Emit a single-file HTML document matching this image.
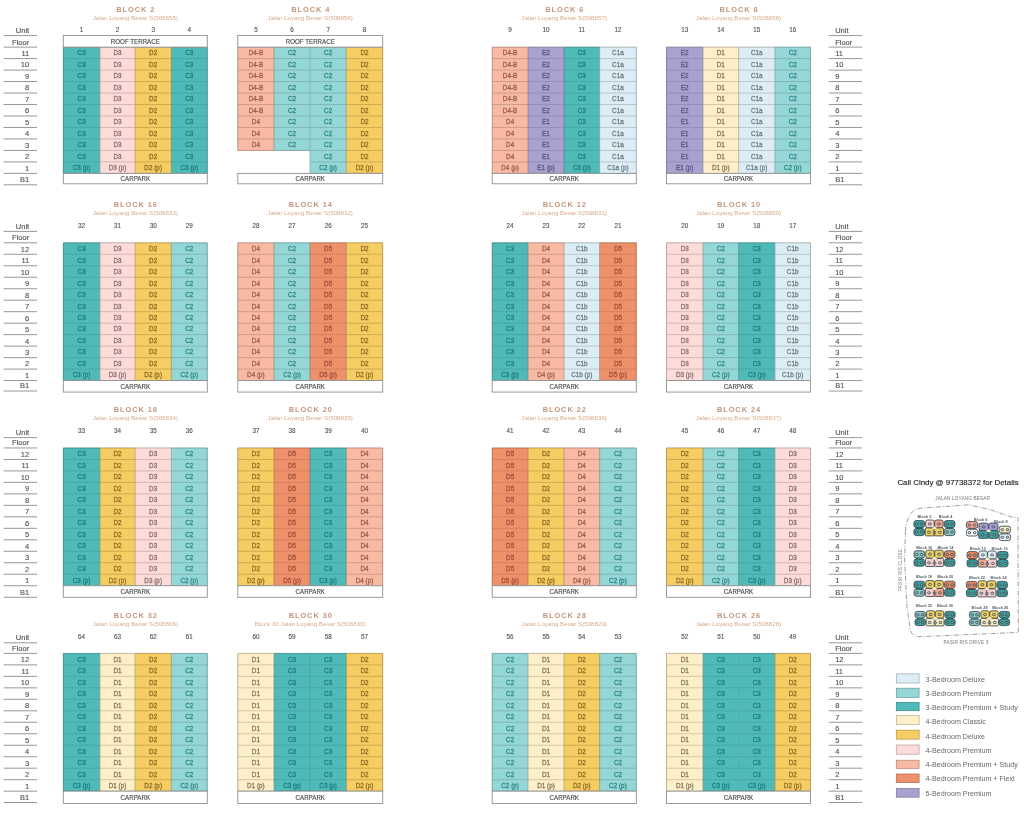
<!DOCTYPE html>
<html><head><meta charset="utf-8"><title>Unit chart</title>
<style>
html,body{margin:0;padding:0;background:#fff;}
body{width:1024px;height:814px;overflow:hidden;position:relative;font-family:"Liberation Sans",sans-serif;}
svg{position:absolute;left:0;top:0;font-family:"Liberation Sans",sans-serif;filter:blur(.45px);}
.fl line{stroke:#8c8c8c;stroke-width:0.9}
.fl text{font-size:7.5px;fill:#505050;stroke:#505050;stroke-width:.12px}
.gl line{stroke-width:0.75}
.ct text{font-size:7.6px;stroke-width:.32px;text-anchor:middle;transform-box:fill-box;transform-origin:center;transform:scale(.84,1)}
.ttl{font-size:7.4px;font-weight:bold;fill:#c2967a;text-anchor:middle;letter-spacing:.95px}
.sub{font-size:6.2px;fill:#d9aa88;text-anchor:middle}
.num{font-size:7.2px;fill:#50565a;stroke:#50565a;stroke-width:.15px;text-anchor:middle;transform-box:fill-box;transform-origin:center;transform:scale(.88,1)}
.box{fill:#fff;stroke:#909090;stroke-width:0.9}
.cp{font-size:7.2px;fill:#4c4c4c;stroke:#4c4c4c;stroke-width:.15px;text-anchor:middle;transform-box:fill-box;transform-origin:center;transform:scale(.86,1)}
.lg{font-size:7.6px;fill:#666;transform-box:fill-box;transform-origin:left center;transform:scale(.94,1)}
.call{font-size:7.9px;fill:#1c1c1c;stroke:#1c1c1c;stroke-width:.14px;text-anchor:middle}
.map .bd{fill:none;stroke:#777;stroke-width:.7;stroke-dasharray:5 1.6 1 1.6}
.map .bl>rect{stroke:rgba(50,62,72,.9);stroke-width:.9}
.map .ml{font-size:10px;font-weight:bold;fill:#56606a;text-anchor:middle}
.map .rd{font-size:10px;fill:#777;text-anchor:middle;letter-spacing:.3px}
</style></head><body>
<svg width="1024" height="814" viewBox="0 0 1024 814">
<g class="fl">
<line x1="3.6" y1="35.57" x2="37" y2="35.57"/>
<line x1="3.6" y1="47.12" x2="37" y2="47.12"/>
<line x1="3.6" y1="58.6" x2="37" y2="58.6"/>
<line x1="3.6" y1="70.08" x2="37" y2="70.08"/>
<line x1="3.6" y1="81.56" x2="37" y2="81.56"/>
<line x1="3.6" y1="93.04" x2="37" y2="93.04"/>
<line x1="3.6" y1="104.52" x2="37" y2="104.52"/>
<line x1="3.6" y1="116" x2="37" y2="116"/>
<line x1="3.6" y1="127.48" x2="37" y2="127.48"/>
<line x1="3.6" y1="138.96" x2="37" y2="138.96"/>
<line x1="3.6" y1="150.44" x2="37" y2="150.44"/>
<line x1="3.6" y1="161.92" x2="37" y2="161.92"/>
<line x1="3.6" y1="173.4" x2="37" y2="173.4"/>
<line x1="3.6" y1="184.8" x2="37" y2="184.8"/>
<text x="29.2" y="32.97" text-anchor="end">Unit</text>
<text x="29.2" y="44.52" text-anchor="end">Floor</text>
<text x="29.2" y="56" text-anchor="end">11</text>
<text x="29.2" y="67.48" text-anchor="end">10</text>
<text x="29.2" y="78.96" text-anchor="end">9</text>
<text x="29.2" y="90.44" text-anchor="end">8</text>
<text x="29.2" y="101.92" text-anchor="end">7</text>
<text x="29.2" y="113.4" text-anchor="end">6</text>
<text x="29.2" y="124.88" text-anchor="end">5</text>
<text x="29.2" y="136.36" text-anchor="end">4</text>
<text x="29.2" y="147.84" text-anchor="end">3</text>
<text x="29.2" y="159.32" text-anchor="end">2</text>
<text x="29.2" y="170.8" text-anchor="end">1</text>
<text x="29.2" y="182.2" text-anchor="end">B1</text>
</g>
<g class="fl">
<line x1="828.8" y1="35.57" x2="862.2" y2="35.57"/>
<line x1="828.8" y1="47.12" x2="862.2" y2="47.12"/>
<line x1="828.8" y1="58.6" x2="862.2" y2="58.6"/>
<line x1="828.8" y1="70.08" x2="862.2" y2="70.08"/>
<line x1="828.8" y1="81.56" x2="862.2" y2="81.56"/>
<line x1="828.8" y1="93.04" x2="862.2" y2="93.04"/>
<line x1="828.8" y1="104.52" x2="862.2" y2="104.52"/>
<line x1="828.8" y1="116" x2="862.2" y2="116"/>
<line x1="828.8" y1="127.48" x2="862.2" y2="127.48"/>
<line x1="828.8" y1="138.96" x2="862.2" y2="138.96"/>
<line x1="828.8" y1="150.44" x2="862.2" y2="150.44"/>
<line x1="828.8" y1="161.92" x2="862.2" y2="161.92"/>
<line x1="828.8" y1="173.4" x2="862.2" y2="173.4"/>
<line x1="828.8" y1="184.8" x2="862.2" y2="184.8"/>
<text x="835.2" y="32.97" text-anchor="start">Unit</text>
<text x="835.2" y="44.52" text-anchor="start">Floor</text>
<text x="835.2" y="56" text-anchor="start">11</text>
<text x="835.2" y="67.48" text-anchor="start">10</text>
<text x="835.2" y="78.96" text-anchor="start">9</text>
<text x="835.2" y="90.44" text-anchor="start">8</text>
<text x="835.2" y="101.92" text-anchor="start">7</text>
<text x="835.2" y="113.4" text-anchor="start">6</text>
<text x="835.2" y="124.88" text-anchor="start">5</text>
<text x="835.2" y="136.36" text-anchor="start">4</text>
<text x="835.2" y="147.84" text-anchor="start">3</text>
<text x="835.2" y="159.32" text-anchor="start">2</text>
<text x="835.2" y="170.8" text-anchor="start">1</text>
<text x="835.2" y="182.2" text-anchor="start">B1</text>
</g>
<text class="ttl" x="135.8" y="11.7">BLOCK 2</text>
<text class="sub" x="135.3" y="19.5">Jalan Loyang Besar S(508855)</text>
<text class="num" x="81.6" y="32.1">1</text>
<text class="num" x="117.5" y="32.1">2</text>
<text class="num" x="153.2" y="32.1">3</text>
<text class="num" x="189.3" y="32.1">4</text>
<rect x="63.3" y="47.12" width="36.6" height="126.28" fill="#4fbab8"/>
<rect x="99.9" y="47.12" width="35.2" height="126.28" fill="#fcdbd9"/>
<rect x="135.1" y="47.12" width="36.2" height="126.28" fill="#f6cd62"/>
<rect x="171.3" y="47.12" width="36" height="126.28" fill="#4fbab8"/>
<g class="gl">
<line x1="63.3" y1="47.12" x2="99.9" y2="47.12" stroke="#367e7d"/>
<line x1="63.3" y1="58.6" x2="99.9" y2="58.6" stroke="#46a4a2"/>
<line x1="63.3" y1="70.08" x2="99.9" y2="70.08" stroke="#46a4a2"/>
<line x1="63.3" y1="81.56" x2="99.9" y2="81.56" stroke="#46a4a2"/>
<line x1="63.3" y1="93.04" x2="99.9" y2="93.04" stroke="#46a4a2"/>
<line x1="63.3" y1="104.52" x2="99.9" y2="104.52" stroke="#46a4a2"/>
<line x1="63.3" y1="116" x2="99.9" y2="116" stroke="#46a4a2"/>
<line x1="63.3" y1="127.48" x2="99.9" y2="127.48" stroke="#46a4a2"/>
<line x1="63.3" y1="138.96" x2="99.9" y2="138.96" stroke="#46a4a2"/>
<line x1="63.3" y1="150.44" x2="99.9" y2="150.44" stroke="#46a4a2"/>
<line x1="63.3" y1="161.92" x2="99.9" y2="161.92" stroke="#46a4a2"/>
<line x1="63.3" y1="173.4" x2="99.9" y2="173.4" stroke="#367e7d"/>
<line x1="99.9" y1="47.12" x2="135.1" y2="47.12" stroke="#ab9594"/>
<line x1="99.9" y1="58.6" x2="135.1" y2="58.6" stroke="#c5aba9"/>
<line x1="99.9" y1="70.08" x2="135.1" y2="70.08" stroke="#c5aba9"/>
<line x1="99.9" y1="81.56" x2="135.1" y2="81.56" stroke="#c5aba9"/>
<line x1="99.9" y1="93.04" x2="135.1" y2="93.04" stroke="#c5aba9"/>
<line x1="99.9" y1="104.52" x2="135.1" y2="104.52" stroke="#c5aba9"/>
<line x1="99.9" y1="116" x2="135.1" y2="116" stroke="#c5aba9"/>
<line x1="99.9" y1="127.48" x2="135.1" y2="127.48" stroke="#c5aba9"/>
<line x1="99.9" y1="138.96" x2="135.1" y2="138.96" stroke="#c5aba9"/>
<line x1="99.9" y1="150.44" x2="135.1" y2="150.44" stroke="#c5aba9"/>
<line x1="99.9" y1="161.92" x2="135.1" y2="161.92" stroke="#c5aba9"/>
<line x1="99.9" y1="173.4" x2="135.1" y2="173.4" stroke="#ab9594"/>
<line x1="135.1" y1="47.12" x2="171.3" y2="47.12" stroke="#a78b43"/>
<line x1="135.1" y1="58.6" x2="171.3" y2="58.6" stroke="#c0a04c"/>
<line x1="135.1" y1="70.08" x2="171.3" y2="70.08" stroke="#c0a04c"/>
<line x1="135.1" y1="81.56" x2="171.3" y2="81.56" stroke="#c0a04c"/>
<line x1="135.1" y1="93.04" x2="171.3" y2="93.04" stroke="#c0a04c"/>
<line x1="135.1" y1="104.52" x2="171.3" y2="104.52" stroke="#c0a04c"/>
<line x1="135.1" y1="116" x2="171.3" y2="116" stroke="#c0a04c"/>
<line x1="135.1" y1="127.48" x2="171.3" y2="127.48" stroke="#c0a04c"/>
<line x1="135.1" y1="138.96" x2="171.3" y2="138.96" stroke="#c0a04c"/>
<line x1="135.1" y1="150.44" x2="171.3" y2="150.44" stroke="#c0a04c"/>
<line x1="135.1" y1="161.92" x2="171.3" y2="161.92" stroke="#c0a04c"/>
<line x1="135.1" y1="173.4" x2="171.3" y2="173.4" stroke="#a78b43"/>
<line x1="171.3" y1="47.12" x2="207.3" y2="47.12" stroke="#367e7d"/>
<line x1="171.3" y1="58.6" x2="207.3" y2="58.6" stroke="#46a4a2"/>
<line x1="171.3" y1="70.08" x2="207.3" y2="70.08" stroke="#46a4a2"/>
<line x1="171.3" y1="81.56" x2="207.3" y2="81.56" stroke="#46a4a2"/>
<line x1="171.3" y1="93.04" x2="207.3" y2="93.04" stroke="#46a4a2"/>
<line x1="171.3" y1="104.52" x2="207.3" y2="104.52" stroke="#46a4a2"/>
<line x1="171.3" y1="116" x2="207.3" y2="116" stroke="#46a4a2"/>
<line x1="171.3" y1="127.48" x2="207.3" y2="127.48" stroke="#46a4a2"/>
<line x1="171.3" y1="138.96" x2="207.3" y2="138.96" stroke="#46a4a2"/>
<line x1="171.3" y1="150.44" x2="207.3" y2="150.44" stroke="#46a4a2"/>
<line x1="171.3" y1="161.92" x2="207.3" y2="161.92" stroke="#46a4a2"/>
<line x1="171.3" y1="173.4" x2="207.3" y2="173.4" stroke="#367e7d"/>
<line x1="63.3" y1="47.12" x2="63.3" y2="173.4" stroke="#347b79"/>
<line x1="99.9" y1="47.12" x2="99.9" y2="173.4" stroke="#779290"/>
<line x1="135.1" y1="47.12" x2="135.1" y2="173.4" stroke="#b39971"/>
<line x1="171.3" y1="47.12" x2="171.3" y2="173.4" stroke="#758d66"/>
<line x1="207.3" y1="47.12" x2="207.3" y2="173.4" stroke="#347b79"/>
</g>
<g class="ct">
<text x="81.6" y="55.46" fill="#1f7f7d" stroke="#1f7f7d">C3</text>
<text x="81.6" y="66.94" fill="#1f7f7d" stroke="#1f7f7d">C3</text>
<text x="81.6" y="78.42" fill="#1f7f7d" stroke="#1f7f7d">C3</text>
<text x="81.6" y="89.9" fill="#1f7f7d" stroke="#1f7f7d">C3</text>
<text x="81.6" y="101.38" fill="#1f7f7d" stroke="#1f7f7d">C3</text>
<text x="81.6" y="112.86" fill="#1f7f7d" stroke="#1f7f7d">C3</text>
<text x="81.6" y="124.34" fill="#1f7f7d" stroke="#1f7f7d">C3</text>
<text x="81.6" y="135.82" fill="#1f7f7d" stroke="#1f7f7d">C3</text>
<text x="81.6" y="147.3" fill="#1f7f7d" stroke="#1f7f7d">C3</text>
<text x="81.6" y="158.78" fill="#1f7f7d" stroke="#1f7f7d">C3</text>
<text x="81.6" y="170.26" fill="#1f7f7d" stroke="#1f7f7d">C3 (p)</text>
<text x="117.5" y="55.46" fill="#8a7473" stroke="#8a7473">D3</text>
<text x="117.5" y="66.94" fill="#8a7473" stroke="#8a7473">D3</text>
<text x="117.5" y="78.42" fill="#8a7473" stroke="#8a7473">D3</text>
<text x="117.5" y="89.9" fill="#8a7473" stroke="#8a7473">D3</text>
<text x="117.5" y="101.38" fill="#8a7473" stroke="#8a7473">D3</text>
<text x="117.5" y="112.86" fill="#8a7473" stroke="#8a7473">D3</text>
<text x="117.5" y="124.34" fill="#8a7473" stroke="#8a7473">D3</text>
<text x="117.5" y="135.82" fill="#8a7473" stroke="#8a7473">D3</text>
<text x="117.5" y="147.3" fill="#8a7473" stroke="#8a7473">D3</text>
<text x="117.5" y="158.78" fill="#8a7473" stroke="#8a7473">D3</text>
<text x="117.5" y="170.26" fill="#8a7473" stroke="#8a7473">D3 (p)</text>
<text x="153.2" y="55.46" fill="#8e6f27" stroke="#8e6f27">D2</text>
<text x="153.2" y="66.94" fill="#8e6f27" stroke="#8e6f27">D2</text>
<text x="153.2" y="78.42" fill="#8e6f27" stroke="#8e6f27">D2</text>
<text x="153.2" y="89.9" fill="#8e6f27" stroke="#8e6f27">D2</text>
<text x="153.2" y="101.38" fill="#8e6f27" stroke="#8e6f27">D2</text>
<text x="153.2" y="112.86" fill="#8e6f27" stroke="#8e6f27">D2</text>
<text x="153.2" y="124.34" fill="#8e6f27" stroke="#8e6f27">D2</text>
<text x="153.2" y="135.82" fill="#8e6f27" stroke="#8e6f27">D2</text>
<text x="153.2" y="147.3" fill="#8e6f27" stroke="#8e6f27">D2</text>
<text x="153.2" y="158.78" fill="#8e6f27" stroke="#8e6f27">D2</text>
<text x="153.2" y="170.26" fill="#8e6f27" stroke="#8e6f27">D2 (p)</text>
<text x="189.3" y="55.46" fill="#1f7f7d" stroke="#1f7f7d">C3</text>
<text x="189.3" y="66.94" fill="#1f7f7d" stroke="#1f7f7d">C3</text>
<text x="189.3" y="78.42" fill="#1f7f7d" stroke="#1f7f7d">C3</text>
<text x="189.3" y="89.9" fill="#1f7f7d" stroke="#1f7f7d">C3</text>
<text x="189.3" y="101.38" fill="#1f7f7d" stroke="#1f7f7d">C3</text>
<text x="189.3" y="112.86" fill="#1f7f7d" stroke="#1f7f7d">C3</text>
<text x="189.3" y="124.34" fill="#1f7f7d" stroke="#1f7f7d">C3</text>
<text x="189.3" y="135.82" fill="#1f7f7d" stroke="#1f7f7d">C3</text>
<text x="189.3" y="147.3" fill="#1f7f7d" stroke="#1f7f7d">C3</text>
<text x="189.3" y="158.78" fill="#1f7f7d" stroke="#1f7f7d">C3</text>
<text x="189.3" y="170.26" fill="#1f7f7d" stroke="#1f7f7d">C3 (p)</text>
</g>
<rect class="box" x="63.3" y="173.4" width="144" height="10.4"/>
<text class="cp" x="135.3" y="181.2">CARPARK</text>
<rect class="box" x="63.3" y="35.44" width="144" height="11.68"/>
<text class="cp" x="135.3" y="43.78">ROOF TERRACE</text>
<text class="ttl" x="310.75" y="11.7">BLOCK 4</text>
<text class="sub" x="310.25" y="19.5">Jalan Loyang Besar S(508856)</text>
<text class="num" x="255.9" y="32.1">5</text>
<text class="num" x="292" y="32.1">6</text>
<text class="num" x="328.15" y="32.1">7</text>
<text class="num" x="364.5" y="32.1">8</text>
<rect x="237.8" y="47.12" width="36.2" height="103.32" fill="#f9baa4"/>
<rect x="274" y="47.12" width="36" height="103.32" fill="#95d6d6"/>
<rect x="310" y="47.12" width="36.3" height="126.28" fill="#95d6d6"/>
<rect x="346.3" y="47.12" width="36.4" height="126.28" fill="#f6cd62"/>
<g class="gl">
<line x1="237.8" y1="47.12" x2="274" y2="47.12" stroke="#a97e70"/>
<line x1="237.8" y1="58.6" x2="274" y2="58.6" stroke="#c29180"/>
<line x1="237.8" y1="70.08" x2="274" y2="70.08" stroke="#c29180"/>
<line x1="237.8" y1="81.56" x2="274" y2="81.56" stroke="#c29180"/>
<line x1="237.8" y1="93.04" x2="274" y2="93.04" stroke="#c29180"/>
<line x1="237.8" y1="104.52" x2="274" y2="104.52" stroke="#c29180"/>
<line x1="237.8" y1="116" x2="274" y2="116" stroke="#c29180"/>
<line x1="237.8" y1="127.48" x2="274" y2="127.48" stroke="#c29180"/>
<line x1="237.8" y1="138.96" x2="274" y2="138.96" stroke="#c29180"/>
<line x1="237.8" y1="150.44" x2="274" y2="150.44" stroke="#a97e70"/>
<line x1="274" y1="47.12" x2="310" y2="47.12" stroke="#659292"/>
<line x1="274" y1="58.6" x2="310" y2="58.6" stroke="#7aafaf"/>
<line x1="274" y1="70.08" x2="310" y2="70.08" stroke="#7aafaf"/>
<line x1="274" y1="81.56" x2="310" y2="81.56" stroke="#7aafaf"/>
<line x1="274" y1="93.04" x2="310" y2="93.04" stroke="#7aafaf"/>
<line x1="274" y1="104.52" x2="310" y2="104.52" stroke="#7aafaf"/>
<line x1="274" y1="116" x2="310" y2="116" stroke="#7aafaf"/>
<line x1="274" y1="127.48" x2="310" y2="127.48" stroke="#7aafaf"/>
<line x1="274" y1="138.96" x2="310" y2="138.96" stroke="#7aafaf"/>
<line x1="274" y1="150.44" x2="310" y2="150.44" stroke="#659292"/>
<line x1="310" y1="47.12" x2="346.3" y2="47.12" stroke="#659292"/>
<line x1="310" y1="58.6" x2="346.3" y2="58.6" stroke="#7aafaf"/>
<line x1="310" y1="70.08" x2="346.3" y2="70.08" stroke="#7aafaf"/>
<line x1="310" y1="81.56" x2="346.3" y2="81.56" stroke="#7aafaf"/>
<line x1="310" y1="93.04" x2="346.3" y2="93.04" stroke="#7aafaf"/>
<line x1="310" y1="104.52" x2="346.3" y2="104.52" stroke="#7aafaf"/>
<line x1="310" y1="116" x2="346.3" y2="116" stroke="#7aafaf"/>
<line x1="310" y1="127.48" x2="346.3" y2="127.48" stroke="#7aafaf"/>
<line x1="310" y1="138.96" x2="346.3" y2="138.96" stroke="#7aafaf"/>
<line x1="310" y1="150.44" x2="346.3" y2="150.44" stroke="#7aafaf"/>
<line x1="310" y1="161.92" x2="346.3" y2="161.92" stroke="#7aafaf"/>
<line x1="310" y1="173.4" x2="346.3" y2="173.4" stroke="#659292"/>
<line x1="346.3" y1="47.12" x2="382.7" y2="47.12" stroke="#a78b43"/>
<line x1="346.3" y1="58.6" x2="382.7" y2="58.6" stroke="#c0a04c"/>
<line x1="346.3" y1="70.08" x2="382.7" y2="70.08" stroke="#c0a04c"/>
<line x1="346.3" y1="81.56" x2="382.7" y2="81.56" stroke="#c0a04c"/>
<line x1="346.3" y1="93.04" x2="382.7" y2="93.04" stroke="#c0a04c"/>
<line x1="346.3" y1="104.52" x2="382.7" y2="104.52" stroke="#c0a04c"/>
<line x1="346.3" y1="116" x2="382.7" y2="116" stroke="#c0a04c"/>
<line x1="346.3" y1="127.48" x2="382.7" y2="127.48" stroke="#c0a04c"/>
<line x1="346.3" y1="138.96" x2="382.7" y2="138.96" stroke="#c0a04c"/>
<line x1="346.3" y1="150.44" x2="382.7" y2="150.44" stroke="#c0a04c"/>
<line x1="346.3" y1="161.92" x2="382.7" y2="161.92" stroke="#c0a04c"/>
<line x1="346.3" y1="173.4" x2="382.7" y2="173.4" stroke="#a78b43"/>
<line x1="237.8" y1="47.12" x2="237.8" y2="150.44" stroke="#a47b6c"/>
<line x1="274" y1="47.12" x2="274" y2="150.44" stroke="#8f9088"/>
<line x1="310" y1="47.12" x2="310" y2="173.4" stroke="#7aafaf"/>
<line x1="346.3" y1="47.12" x2="346.3" y2="173.4" stroke="#8e9770"/>
<line x1="382.7" y1="47.12" x2="382.7" y2="173.4" stroke="#a28741"/>
</g>
<g class="ct">
<text x="255.9" y="55.46" fill="#a2604c" stroke="#a2604c">D4-B</text>
<text x="255.9" y="66.94" fill="#a2604c" stroke="#a2604c">D4-B</text>
<text x="255.9" y="78.42" fill="#a2604c" stroke="#a2604c">D4-B</text>
<text x="255.9" y="89.9" fill="#a2604c" stroke="#a2604c">D4-B</text>
<text x="255.9" y="101.38" fill="#a2604c" stroke="#a2604c">D4-B</text>
<text x="255.9" y="112.86" fill="#a2604c" stroke="#a2604c">D4-B</text>
<text x="255.9" y="124.34" fill="#a2604c" stroke="#a2604c">D4</text>
<text x="255.9" y="135.82" fill="#a2604c" stroke="#a2604c">D4</text>
<text x="255.9" y="147.3" fill="#a2604c" stroke="#a2604c">D4</text>
<text x="292" y="55.46" fill="#2f8a89" stroke="#2f8a89">C2</text>
<text x="292" y="66.94" fill="#2f8a89" stroke="#2f8a89">C2</text>
<text x="292" y="78.42" fill="#2f8a89" stroke="#2f8a89">C2</text>
<text x="292" y="89.9" fill="#2f8a89" stroke="#2f8a89">C2</text>
<text x="292" y="101.38" fill="#2f8a89" stroke="#2f8a89">C2</text>
<text x="292" y="112.86" fill="#2f8a89" stroke="#2f8a89">C2</text>
<text x="292" y="124.34" fill="#2f8a89" stroke="#2f8a89">C2</text>
<text x="292" y="135.82" fill="#2f8a89" stroke="#2f8a89">C2</text>
<text x="292" y="147.3" fill="#2f8a89" stroke="#2f8a89">C2</text>
<text x="328.15" y="55.46" fill="#2f8a89" stroke="#2f8a89">C2</text>
<text x="328.15" y="66.94" fill="#2f8a89" stroke="#2f8a89">C2</text>
<text x="328.15" y="78.42" fill="#2f8a89" stroke="#2f8a89">C2</text>
<text x="328.15" y="89.9" fill="#2f8a89" stroke="#2f8a89">C2</text>
<text x="328.15" y="101.38" fill="#2f8a89" stroke="#2f8a89">C2</text>
<text x="328.15" y="112.86" fill="#2f8a89" stroke="#2f8a89">C2</text>
<text x="328.15" y="124.34" fill="#2f8a89" stroke="#2f8a89">C2</text>
<text x="328.15" y="135.82" fill="#2f8a89" stroke="#2f8a89">C2</text>
<text x="328.15" y="147.3" fill="#2f8a89" stroke="#2f8a89">C2</text>
<text x="328.15" y="158.78" fill="#2f8a89" stroke="#2f8a89">C2</text>
<text x="328.15" y="170.26" fill="#2f8a89" stroke="#2f8a89">C2 (p)</text>
<text x="364.5" y="55.46" fill="#8e6f27" stroke="#8e6f27">D2</text>
<text x="364.5" y="66.94" fill="#8e6f27" stroke="#8e6f27">D2</text>
<text x="364.5" y="78.42" fill="#8e6f27" stroke="#8e6f27">D2</text>
<text x="364.5" y="89.9" fill="#8e6f27" stroke="#8e6f27">D2</text>
<text x="364.5" y="101.38" fill="#8e6f27" stroke="#8e6f27">D2</text>
<text x="364.5" y="112.86" fill="#8e6f27" stroke="#8e6f27">D2</text>
<text x="364.5" y="124.34" fill="#8e6f27" stroke="#8e6f27">D2</text>
<text x="364.5" y="135.82" fill="#8e6f27" stroke="#8e6f27">D2</text>
<text x="364.5" y="147.3" fill="#8e6f27" stroke="#8e6f27">D2</text>
<text x="364.5" y="158.78" fill="#8e6f27" stroke="#8e6f27">D2</text>
<text x="364.5" y="170.26" fill="#8e6f27" stroke="#8e6f27">D2 (p)</text>
</g>
<rect class="box" x="237.8" y="173.4" width="144.9" height="10.4"/>
<text class="cp" x="310.25" y="181.2">CARPARK</text>
<rect class="box" x="237.8" y="35.44" width="144.9" height="11.68"/>
<text class="cp" x="310.25" y="43.78">ROOF TERRACE</text>
<text class="ttl" x="564.75" y="11.7">BLOCK 6</text>
<text class="sub" x="564.25" y="19.5">Jalan Loyang Besar S(508857)</text>
<text class="num" x="510.1" y="32.1">9</text>
<text class="num" x="546" y="32.1">10</text>
<text class="num" x="581.8" y="32.1">11</text>
<text class="num" x="617.95" y="32.1">12</text>
<rect x="492.2" y="47.12" width="35.8" height="126.28" fill="#f9baa4"/>
<rect x="528" y="47.12" width="36" height="126.28" fill="#a9a2d1"/>
<rect x="564" y="47.12" width="35.6" height="126.28" fill="#4fbab8"/>
<rect x="599.6" y="47.12" width="36.7" height="126.28" fill="#dcedf6"/>
<g class="gl">
<line x1="492.2" y1="47.12" x2="528" y2="47.12" stroke="#a97e70"/>
<line x1="492.2" y1="58.6" x2="528" y2="58.6" stroke="#c29180"/>
<line x1="492.2" y1="70.08" x2="528" y2="70.08" stroke="#c29180"/>
<line x1="492.2" y1="81.56" x2="528" y2="81.56" stroke="#c29180"/>
<line x1="492.2" y1="93.04" x2="528" y2="93.04" stroke="#c29180"/>
<line x1="492.2" y1="104.52" x2="528" y2="104.52" stroke="#c29180"/>
<line x1="492.2" y1="116" x2="528" y2="116" stroke="#c29180"/>
<line x1="492.2" y1="127.48" x2="528" y2="127.48" stroke="#c29180"/>
<line x1="492.2" y1="138.96" x2="528" y2="138.96" stroke="#c29180"/>
<line x1="492.2" y1="150.44" x2="528" y2="150.44" stroke="#c29180"/>
<line x1="492.2" y1="161.92" x2="528" y2="161.92" stroke="#c29180"/>
<line x1="492.2" y1="173.4" x2="528" y2="173.4" stroke="#a97e70"/>
<line x1="528" y1="47.12" x2="564" y2="47.12" stroke="#736e8e"/>
<line x1="528" y1="58.6" x2="564" y2="58.6" stroke="#8e88b0"/>
<line x1="528" y1="70.08" x2="564" y2="70.08" stroke="#8e88b0"/>
<line x1="528" y1="81.56" x2="564" y2="81.56" stroke="#8e88b0"/>
<line x1="528" y1="93.04" x2="564" y2="93.04" stroke="#8e88b0"/>
<line x1="528" y1="104.52" x2="564" y2="104.52" stroke="#8e88b0"/>
<line x1="528" y1="116" x2="564" y2="116" stroke="#8e88b0"/>
<line x1="528" y1="127.48" x2="564" y2="127.48" stroke="#8e88b0"/>
<line x1="528" y1="138.96" x2="564" y2="138.96" stroke="#8e88b0"/>
<line x1="528" y1="150.44" x2="564" y2="150.44" stroke="#8e88b0"/>
<line x1="528" y1="161.92" x2="564" y2="161.92" stroke="#8e88b0"/>
<line x1="528" y1="173.4" x2="564" y2="173.4" stroke="#736e8e"/>
<line x1="564" y1="47.12" x2="599.6" y2="47.12" stroke="#367e7d"/>
<line x1="564" y1="58.6" x2="599.6" y2="58.6" stroke="#46a4a2"/>
<line x1="564" y1="70.08" x2="599.6" y2="70.08" stroke="#46a4a2"/>
<line x1="564" y1="81.56" x2="599.6" y2="81.56" stroke="#46a4a2"/>
<line x1="564" y1="93.04" x2="599.6" y2="93.04" stroke="#46a4a2"/>
<line x1="564" y1="104.52" x2="599.6" y2="104.52" stroke="#46a4a2"/>
<line x1="564" y1="116" x2="599.6" y2="116" stroke="#46a4a2"/>
<line x1="564" y1="127.48" x2="599.6" y2="127.48" stroke="#46a4a2"/>
<line x1="564" y1="138.96" x2="599.6" y2="138.96" stroke="#46a4a2"/>
<line x1="564" y1="150.44" x2="599.6" y2="150.44" stroke="#46a4a2"/>
<line x1="564" y1="161.92" x2="599.6" y2="161.92" stroke="#46a4a2"/>
<line x1="564" y1="173.4" x2="599.6" y2="173.4" stroke="#367e7d"/>
<line x1="599.6" y1="47.12" x2="636.3" y2="47.12" stroke="#96a1a7"/>
<line x1="599.6" y1="58.6" x2="636.3" y2="58.6" stroke="#acb9c0"/>
<line x1="599.6" y1="70.08" x2="636.3" y2="70.08" stroke="#acb9c0"/>
<line x1="599.6" y1="81.56" x2="636.3" y2="81.56" stroke="#acb9c0"/>
<line x1="599.6" y1="93.04" x2="636.3" y2="93.04" stroke="#acb9c0"/>
<line x1="599.6" y1="104.52" x2="636.3" y2="104.52" stroke="#acb9c0"/>
<line x1="599.6" y1="116" x2="636.3" y2="116" stroke="#acb9c0"/>
<line x1="599.6" y1="127.48" x2="636.3" y2="127.48" stroke="#acb9c0"/>
<line x1="599.6" y1="138.96" x2="636.3" y2="138.96" stroke="#acb9c0"/>
<line x1="599.6" y1="150.44" x2="636.3" y2="150.44" stroke="#acb9c0"/>
<line x1="599.6" y1="161.92" x2="636.3" y2="161.92" stroke="#acb9c0"/>
<line x1="599.6" y1="173.4" x2="636.3" y2="173.4" stroke="#96a1a7"/>
<line x1="492.2" y1="47.12" x2="492.2" y2="173.4" stroke="#a47b6c"/>
<line x1="528" y1="47.12" x2="528" y2="173.4" stroke="#967d86"/>
<line x1="564" y1="47.12" x2="564" y2="173.4" stroke="#597d8d"/>
<line x1="599.6" y1="47.12" x2="599.6" y2="173.4" stroke="#6c989b"/>
<line x1="636.3" y1="47.12" x2="636.3" y2="173.4" stroke="#919ca2"/>
</g>
<g class="ct">
<text x="510.1" y="55.46" fill="#a2604c" stroke="#a2604c">D4-B</text>
<text x="510.1" y="66.94" fill="#a2604c" stroke="#a2604c">D4-B</text>
<text x="510.1" y="78.42" fill="#a2604c" stroke="#a2604c">D4-B</text>
<text x="510.1" y="89.9" fill="#a2604c" stroke="#a2604c">D4-B</text>
<text x="510.1" y="101.38" fill="#a2604c" stroke="#a2604c">D4-B</text>
<text x="510.1" y="112.86" fill="#a2604c" stroke="#a2604c">D4-B</text>
<text x="510.1" y="124.34" fill="#a2604c" stroke="#a2604c">D4</text>
<text x="510.1" y="135.82" fill="#a2604c" stroke="#a2604c">D4</text>
<text x="510.1" y="147.3" fill="#a2604c" stroke="#a2604c">D4</text>
<text x="510.1" y="158.78" fill="#a2604c" stroke="#a2604c">D4</text>
<text x="510.1" y="170.26" fill="#a2604c" stroke="#a2604c">D4 (p)</text>
<text x="546" y="55.46" fill="#5d5887" stroke="#5d5887">E2</text>
<text x="546" y="66.94" fill="#5d5887" stroke="#5d5887">E2</text>
<text x="546" y="78.42" fill="#5d5887" stroke="#5d5887">E2</text>
<text x="546" y="89.9" fill="#5d5887" stroke="#5d5887">E2</text>
<text x="546" y="101.38" fill="#5d5887" stroke="#5d5887">E2</text>
<text x="546" y="112.86" fill="#5d5887" stroke="#5d5887">E2</text>
<text x="546" y="124.34" fill="#5d5887" stroke="#5d5887">E1</text>
<text x="546" y="135.82" fill="#5d5887" stroke="#5d5887">E1</text>
<text x="546" y="147.3" fill="#5d5887" stroke="#5d5887">E1</text>
<text x="546" y="158.78" fill="#5d5887" stroke="#5d5887">E1</text>
<text x="546" y="170.26" fill="#5d5887" stroke="#5d5887">E1 (p)</text>
<text x="581.8" y="55.46" fill="#1f7f7d" stroke="#1f7f7d">C3</text>
<text x="581.8" y="66.94" fill="#1f7f7d" stroke="#1f7f7d">C3</text>
<text x="581.8" y="78.42" fill="#1f7f7d" stroke="#1f7f7d">C3</text>
<text x="581.8" y="89.9" fill="#1f7f7d" stroke="#1f7f7d">C3</text>
<text x="581.8" y="101.38" fill="#1f7f7d" stroke="#1f7f7d">C3</text>
<text x="581.8" y="112.86" fill="#1f7f7d" stroke="#1f7f7d">C3</text>
<text x="581.8" y="124.34" fill="#1f7f7d" stroke="#1f7f7d">C3</text>
<text x="581.8" y="135.82" fill="#1f7f7d" stroke="#1f7f7d">C3</text>
<text x="581.8" y="147.3" fill="#1f7f7d" stroke="#1f7f7d">C3</text>
<text x="581.8" y="158.78" fill="#1f7f7d" stroke="#1f7f7d">C3</text>
<text x="581.8" y="170.26" fill="#1f7f7d" stroke="#1f7f7d">C3 (p)</text>
<text x="617.95" y="55.46" fill="#6d7f88" stroke="#6d7f88">C1a</text>
<text x="617.95" y="66.94" fill="#6d7f88" stroke="#6d7f88">C1a</text>
<text x="617.95" y="78.42" fill="#6d7f88" stroke="#6d7f88">C1a</text>
<text x="617.95" y="89.9" fill="#6d7f88" stroke="#6d7f88">C1a</text>
<text x="617.95" y="101.38" fill="#6d7f88" stroke="#6d7f88">C1a</text>
<text x="617.95" y="112.86" fill="#6d7f88" stroke="#6d7f88">C1a</text>
<text x="617.95" y="124.34" fill="#6d7f88" stroke="#6d7f88">C1a</text>
<text x="617.95" y="135.82" fill="#6d7f88" stroke="#6d7f88">C1a</text>
<text x="617.95" y="147.3" fill="#6d7f88" stroke="#6d7f88">C1a</text>
<text x="617.95" y="158.78" fill="#6d7f88" stroke="#6d7f88">C1a</text>
<text x="617.95" y="170.26" fill="#6d7f88" stroke="#6d7f88">C1a (p)</text>
</g>
<rect class="box" x="492.2" y="173.4" width="144.1" height="10.4"/>
<text class="cp" x="564.25" y="181.2">CARPARK</text>
<text class="ttl" x="739" y="11.7">BLOCK 8</text>
<text class="sub" x="738.5" y="19.5">Jalan Loyang Besar S(508858)</text>
<text class="num" x="684.75" y="32.1">13</text>
<text class="num" x="720.8" y="32.1">14</text>
<text class="num" x="756.75" y="32.1">15</text>
<text class="num" x="792.7" y="32.1">16</text>
<rect x="666.5" y="47.12" width="36.5" height="126.28" fill="#a9a2d1"/>
<rect x="703" y="47.12" width="35.6" height="126.28" fill="#fdf0c8"/>
<rect x="738.6" y="47.12" width="36.3" height="126.28" fill="#dcedf6"/>
<rect x="774.9" y="47.12" width="35.6" height="126.28" fill="#95d6d6"/>
<g class="gl">
<line x1="666.5" y1="47.12" x2="703" y2="47.12" stroke="#736e8e"/>
<line x1="666.5" y1="58.6" x2="703" y2="58.6" stroke="#8e88b0"/>
<line x1="666.5" y1="70.08" x2="703" y2="70.08" stroke="#8e88b0"/>
<line x1="666.5" y1="81.56" x2="703" y2="81.56" stroke="#8e88b0"/>
<line x1="666.5" y1="93.04" x2="703" y2="93.04" stroke="#8e88b0"/>
<line x1="666.5" y1="104.52" x2="703" y2="104.52" stroke="#8e88b0"/>
<line x1="666.5" y1="116" x2="703" y2="116" stroke="#8e88b0"/>
<line x1="666.5" y1="127.48" x2="703" y2="127.48" stroke="#8e88b0"/>
<line x1="666.5" y1="138.96" x2="703" y2="138.96" stroke="#8e88b0"/>
<line x1="666.5" y1="150.44" x2="703" y2="150.44" stroke="#8e88b0"/>
<line x1="666.5" y1="161.92" x2="703" y2="161.92" stroke="#8e88b0"/>
<line x1="666.5" y1="173.4" x2="703" y2="173.4" stroke="#736e8e"/>
<line x1="703" y1="47.12" x2="738.6" y2="47.12" stroke="#aca388"/>
<line x1="703" y1="58.6" x2="738.6" y2="58.6" stroke="#c5bb9c"/>
<line x1="703" y1="70.08" x2="738.6" y2="70.08" stroke="#c5bb9c"/>
<line x1="703" y1="81.56" x2="738.6" y2="81.56" stroke="#c5bb9c"/>
<line x1="703" y1="93.04" x2="738.6" y2="93.04" stroke="#c5bb9c"/>
<line x1="703" y1="104.52" x2="738.6" y2="104.52" stroke="#c5bb9c"/>
<line x1="703" y1="116" x2="738.6" y2="116" stroke="#c5bb9c"/>
<line x1="703" y1="127.48" x2="738.6" y2="127.48" stroke="#c5bb9c"/>
<line x1="703" y1="138.96" x2="738.6" y2="138.96" stroke="#c5bb9c"/>
<line x1="703" y1="150.44" x2="738.6" y2="150.44" stroke="#c5bb9c"/>
<line x1="703" y1="161.92" x2="738.6" y2="161.92" stroke="#c5bb9c"/>
<line x1="703" y1="173.4" x2="738.6" y2="173.4" stroke="#aca388"/>
<line x1="738.6" y1="47.12" x2="774.9" y2="47.12" stroke="#96a1a7"/>
<line x1="738.6" y1="58.6" x2="774.9" y2="58.6" stroke="#acb9c0"/>
<line x1="738.6" y1="70.08" x2="774.9" y2="70.08" stroke="#acb9c0"/>
<line x1="738.6" y1="81.56" x2="774.9" y2="81.56" stroke="#acb9c0"/>
<line x1="738.6" y1="93.04" x2="774.9" y2="93.04" stroke="#acb9c0"/>
<line x1="738.6" y1="104.52" x2="774.9" y2="104.52" stroke="#acb9c0"/>
<line x1="738.6" y1="116" x2="774.9" y2="116" stroke="#acb9c0"/>
<line x1="738.6" y1="127.48" x2="774.9" y2="127.48" stroke="#acb9c0"/>
<line x1="738.6" y1="138.96" x2="774.9" y2="138.96" stroke="#acb9c0"/>
<line x1="738.6" y1="150.44" x2="774.9" y2="150.44" stroke="#acb9c0"/>
<line x1="738.6" y1="161.92" x2="774.9" y2="161.92" stroke="#acb9c0"/>
<line x1="738.6" y1="173.4" x2="774.9" y2="173.4" stroke="#96a1a7"/>
<line x1="774.9" y1="47.12" x2="810.5" y2="47.12" stroke="#659292"/>
<line x1="774.9" y1="58.6" x2="810.5" y2="58.6" stroke="#7aafaf"/>
<line x1="774.9" y1="70.08" x2="810.5" y2="70.08" stroke="#7aafaf"/>
<line x1="774.9" y1="81.56" x2="810.5" y2="81.56" stroke="#7aafaf"/>
<line x1="774.9" y1="93.04" x2="810.5" y2="93.04" stroke="#7aafaf"/>
<line x1="774.9" y1="104.52" x2="810.5" y2="104.52" stroke="#7aafaf"/>
<line x1="774.9" y1="116" x2="810.5" y2="116" stroke="#7aafaf"/>
<line x1="774.9" y1="127.48" x2="810.5" y2="127.48" stroke="#7aafaf"/>
<line x1="774.9" y1="138.96" x2="810.5" y2="138.96" stroke="#7aafaf"/>
<line x1="774.9" y1="150.44" x2="810.5" y2="150.44" stroke="#7aafaf"/>
<line x1="774.9" y1="161.92" x2="810.5" y2="161.92" stroke="#7aafaf"/>
<line x1="774.9" y1="173.4" x2="810.5" y2="173.4" stroke="#659292"/>
<line x1="666.5" y1="47.12" x2="666.5" y2="173.4" stroke="#706b8a"/>
<line x1="703" y1="47.12" x2="703" y2="173.4" stroke="#989193"/>
<line x1="738.6" y1="47.12" x2="738.6" y2="173.4" stroke="#aaaca1"/>
<line x1="774.9" y1="47.12" x2="774.9" y2="173.4" stroke="#85a2a6"/>
<line x1="810.5" y1="47.12" x2="810.5" y2="173.4" stroke="#628d8d"/>
</g>
<g class="ct">
<text x="684.75" y="55.46" fill="#5d5887" stroke="#5d5887">E2</text>
<text x="684.75" y="66.94" fill="#5d5887" stroke="#5d5887">E2</text>
<text x="684.75" y="78.42" fill="#5d5887" stroke="#5d5887">E2</text>
<text x="684.75" y="89.9" fill="#5d5887" stroke="#5d5887">E2</text>
<text x="684.75" y="101.38" fill="#5d5887" stroke="#5d5887">E2</text>
<text x="684.75" y="112.86" fill="#5d5887" stroke="#5d5887">E2</text>
<text x="684.75" y="124.34" fill="#5d5887" stroke="#5d5887">E1</text>
<text x="684.75" y="135.82" fill="#5d5887" stroke="#5d5887">E1</text>
<text x="684.75" y="147.3" fill="#5d5887" stroke="#5d5887">E1</text>
<text x="684.75" y="158.78" fill="#5d5887" stroke="#5d5887">E1</text>
<text x="684.75" y="170.26" fill="#5d5887" stroke="#5d5887">E1 (p)</text>
<text x="720.8" y="55.46" fill="#857a58" stroke="#857a58">D1</text>
<text x="720.8" y="66.94" fill="#857a58" stroke="#857a58">D1</text>
<text x="720.8" y="78.42" fill="#857a58" stroke="#857a58">D1</text>
<text x="720.8" y="89.9" fill="#857a58" stroke="#857a58">D1</text>
<text x="720.8" y="101.38" fill="#857a58" stroke="#857a58">D1</text>
<text x="720.8" y="112.86" fill="#857a58" stroke="#857a58">D1</text>
<text x="720.8" y="124.34" fill="#857a58" stroke="#857a58">D1</text>
<text x="720.8" y="135.82" fill="#857a58" stroke="#857a58">D1</text>
<text x="720.8" y="147.3" fill="#857a58" stroke="#857a58">D1</text>
<text x="720.8" y="158.78" fill="#857a58" stroke="#857a58">D1</text>
<text x="720.8" y="170.26" fill="#857a58" stroke="#857a58">D1 (p)</text>
<text x="756.75" y="55.46" fill="#6d7f88" stroke="#6d7f88">C1a</text>
<text x="756.75" y="66.94" fill="#6d7f88" stroke="#6d7f88">C1a</text>
<text x="756.75" y="78.42" fill="#6d7f88" stroke="#6d7f88">C1a</text>
<text x="756.75" y="89.9" fill="#6d7f88" stroke="#6d7f88">C1a</text>
<text x="756.75" y="101.38" fill="#6d7f88" stroke="#6d7f88">C1a</text>
<text x="756.75" y="112.86" fill="#6d7f88" stroke="#6d7f88">C1a</text>
<text x="756.75" y="124.34" fill="#6d7f88" stroke="#6d7f88">C1a</text>
<text x="756.75" y="135.82" fill="#6d7f88" stroke="#6d7f88">C1a</text>
<text x="756.75" y="147.3" fill="#6d7f88" stroke="#6d7f88">C1a</text>
<text x="756.75" y="158.78" fill="#6d7f88" stroke="#6d7f88">C1a</text>
<text x="756.75" y="170.26" fill="#6d7f88" stroke="#6d7f88">C1a (p)</text>
<text x="792.7" y="55.46" fill="#2f8a89" stroke="#2f8a89">C2</text>
<text x="792.7" y="66.94" fill="#2f8a89" stroke="#2f8a89">C2</text>
<text x="792.7" y="78.42" fill="#2f8a89" stroke="#2f8a89">C2</text>
<text x="792.7" y="89.9" fill="#2f8a89" stroke="#2f8a89">C2</text>
<text x="792.7" y="101.38" fill="#2f8a89" stroke="#2f8a89">C2</text>
<text x="792.7" y="112.86" fill="#2f8a89" stroke="#2f8a89">C2</text>
<text x="792.7" y="124.34" fill="#2f8a89" stroke="#2f8a89">C2</text>
<text x="792.7" y="135.82" fill="#2f8a89" stroke="#2f8a89">C2</text>
<text x="792.7" y="147.3" fill="#2f8a89" stroke="#2f8a89">C2</text>
<text x="792.7" y="158.78" fill="#2f8a89" stroke="#2f8a89">C2</text>
<text x="792.7" y="170.26" fill="#2f8a89" stroke="#2f8a89">C2 (p)</text>
</g>
<rect class="box" x="666.5" y="173.4" width="144" height="10.4"/>
<text class="cp" x="738.5" y="181.2">CARPARK</text>
<g class="fl">
<line x1="3.6" y1="231.4" x2="37" y2="231.4"/>
<line x1="3.6" y1="242.8" x2="37" y2="242.8"/>
<line x1="3.6" y1="254.28" x2="37" y2="254.28"/>
<line x1="3.6" y1="265.76" x2="37" y2="265.76"/>
<line x1="3.6" y1="277.24" x2="37" y2="277.24"/>
<line x1="3.6" y1="288.72" x2="37" y2="288.72"/>
<line x1="3.6" y1="300.2" x2="37" y2="300.2"/>
<line x1="3.6" y1="311.68" x2="37" y2="311.68"/>
<line x1="3.6" y1="323.16" x2="37" y2="323.16"/>
<line x1="3.6" y1="334.64" x2="37" y2="334.64"/>
<line x1="3.6" y1="346.12" x2="37" y2="346.12"/>
<line x1="3.6" y1="357.6" x2="37" y2="357.6"/>
<line x1="3.6" y1="369.08" x2="37" y2="369.08"/>
<line x1="3.6" y1="380.56" x2="37" y2="380.56"/>
<line x1="3.6" y1="391.04" x2="37" y2="391.04"/>
<text x="29.2" y="228.8" text-anchor="end">Unit</text>
<text x="29.2" y="240.2" text-anchor="end">Floor</text>
<text x="29.2" y="251.68" text-anchor="end">12</text>
<text x="29.2" y="263.16" text-anchor="end">11</text>
<text x="29.2" y="274.64" text-anchor="end">10</text>
<text x="29.2" y="286.12" text-anchor="end">9</text>
<text x="29.2" y="297.6" text-anchor="end">8</text>
<text x="29.2" y="309.08" text-anchor="end">7</text>
<text x="29.2" y="320.56" text-anchor="end">6</text>
<text x="29.2" y="332.04" text-anchor="end">5</text>
<text x="29.2" y="343.52" text-anchor="end">4</text>
<text x="29.2" y="355" text-anchor="end">3</text>
<text x="29.2" y="366.48" text-anchor="end">2</text>
<text x="29.2" y="377.96" text-anchor="end">1</text>
<text x="29.2" y="388.44" text-anchor="end">B1</text>
</g>
<g class="fl">
<line x1="828.8" y1="231.4" x2="862.2" y2="231.4"/>
<line x1="828.8" y1="242.8" x2="862.2" y2="242.8"/>
<line x1="828.8" y1="254.28" x2="862.2" y2="254.28"/>
<line x1="828.8" y1="265.76" x2="862.2" y2="265.76"/>
<line x1="828.8" y1="277.24" x2="862.2" y2="277.24"/>
<line x1="828.8" y1="288.72" x2="862.2" y2="288.72"/>
<line x1="828.8" y1="300.2" x2="862.2" y2="300.2"/>
<line x1="828.8" y1="311.68" x2="862.2" y2="311.68"/>
<line x1="828.8" y1="323.16" x2="862.2" y2="323.16"/>
<line x1="828.8" y1="334.64" x2="862.2" y2="334.64"/>
<line x1="828.8" y1="346.12" x2="862.2" y2="346.12"/>
<line x1="828.8" y1="357.6" x2="862.2" y2="357.6"/>
<line x1="828.8" y1="369.08" x2="862.2" y2="369.08"/>
<line x1="828.8" y1="380.56" x2="862.2" y2="380.56"/>
<line x1="828.8" y1="391.04" x2="862.2" y2="391.04"/>
<text x="835.2" y="228.8" text-anchor="start">Unit</text>
<text x="835.2" y="240.2" text-anchor="start">Floor</text>
<text x="835.2" y="251.68" text-anchor="start">12</text>
<text x="835.2" y="263.16" text-anchor="start">11</text>
<text x="835.2" y="274.64" text-anchor="start">10</text>
<text x="835.2" y="286.12" text-anchor="start">9</text>
<text x="835.2" y="297.6" text-anchor="start">8</text>
<text x="835.2" y="309.08" text-anchor="start">7</text>
<text x="835.2" y="320.56" text-anchor="start">6</text>
<text x="835.2" y="332.04" text-anchor="start">5</text>
<text x="835.2" y="343.52" text-anchor="start">4</text>
<text x="835.2" y="355" text-anchor="start">3</text>
<text x="835.2" y="366.48" text-anchor="start">2</text>
<text x="835.2" y="377.96" text-anchor="start">1</text>
<text x="835.2" y="388.44" text-anchor="start">B1</text>
</g>
<text class="ttl" x="135.8" y="207.3">BLOCK 16</text>
<text class="sub" x="135.3" y="215.2">Jalan Loyang Besar S(508833)</text>
<text class="num" x="81.6" y="228.2">32</text>
<text class="num" x="117.5" y="228.2">31</text>
<text class="num" x="153.2" y="228.2">30</text>
<text class="num" x="189.3" y="228.2">29</text>
<rect x="63.3" y="242.8" width="36.6" height="137.76" fill="#4fbab8"/>
<rect x="99.9" y="242.8" width="35.2" height="137.76" fill="#fcdbd9"/>
<rect x="135.1" y="242.8" width="36.2" height="137.76" fill="#f6cd62"/>
<rect x="171.3" y="242.8" width="36" height="137.76" fill="#95d6d6"/>
<g class="gl">
<line x1="63.3" y1="242.8" x2="99.9" y2="242.8" stroke="#367e7d"/>
<line x1="63.3" y1="254.28" x2="99.9" y2="254.28" stroke="#46a4a2"/>
<line x1="63.3" y1="265.76" x2="99.9" y2="265.76" stroke="#46a4a2"/>
<line x1="63.3" y1="277.24" x2="99.9" y2="277.24" stroke="#46a4a2"/>
<line x1="63.3" y1="288.72" x2="99.9" y2="288.72" stroke="#46a4a2"/>
<line x1="63.3" y1="300.2" x2="99.9" y2="300.2" stroke="#46a4a2"/>
<line x1="63.3" y1="311.68" x2="99.9" y2="311.68" stroke="#46a4a2"/>
<line x1="63.3" y1="323.16" x2="99.9" y2="323.16" stroke="#46a4a2"/>
<line x1="63.3" y1="334.64" x2="99.9" y2="334.64" stroke="#46a4a2"/>
<line x1="63.3" y1="346.12" x2="99.9" y2="346.12" stroke="#46a4a2"/>
<line x1="63.3" y1="357.6" x2="99.9" y2="357.6" stroke="#46a4a2"/>
<line x1="63.3" y1="369.08" x2="99.9" y2="369.08" stroke="#46a4a2"/>
<line x1="63.3" y1="380.56" x2="99.9" y2="380.56" stroke="#367e7d"/>
<line x1="99.9" y1="242.8" x2="135.1" y2="242.8" stroke="#ab9594"/>
<line x1="99.9" y1="254.28" x2="135.1" y2="254.28" stroke="#c5aba9"/>
<line x1="99.9" y1="265.76" x2="135.1" y2="265.76" stroke="#c5aba9"/>
<line x1="99.9" y1="277.24" x2="135.1" y2="277.24" stroke="#c5aba9"/>
<line x1="99.9" y1="288.72" x2="135.1" y2="288.72" stroke="#c5aba9"/>
<line x1="99.9" y1="300.2" x2="135.1" y2="300.2" stroke="#c5aba9"/>
<line x1="99.9" y1="311.68" x2="135.1" y2="311.68" stroke="#c5aba9"/>
<line x1="99.9" y1="323.16" x2="135.1" y2="323.16" stroke="#c5aba9"/>
<line x1="99.9" y1="334.64" x2="135.1" y2="334.64" stroke="#c5aba9"/>
<line x1="99.9" y1="346.12" x2="135.1" y2="346.12" stroke="#c5aba9"/>
<line x1="99.9" y1="357.6" x2="135.1" y2="357.6" stroke="#c5aba9"/>
<line x1="99.9" y1="369.08" x2="135.1" y2="369.08" stroke="#c5aba9"/>
<line x1="99.9" y1="380.56" x2="135.1" y2="380.56" stroke="#ab9594"/>
<line x1="135.1" y1="242.8" x2="171.3" y2="242.8" stroke="#a78b43"/>
<line x1="135.1" y1="254.28" x2="171.3" y2="254.28" stroke="#c0a04c"/>
<line x1="135.1" y1="265.76" x2="171.3" y2="265.76" stroke="#c0a04c"/>
<line x1="135.1" y1="277.24" x2="171.3" y2="277.24" stroke="#c0a04c"/>
<line x1="135.1" y1="288.72" x2="171.3" y2="288.72" stroke="#c0a04c"/>
<line x1="135.1" y1="300.2" x2="171.3" y2="300.2" stroke="#c0a04c"/>
<line x1="135.1" y1="311.68" x2="171.3" y2="311.68" stroke="#c0a04c"/>
<line x1="135.1" y1="323.16" x2="171.3" y2="323.16" stroke="#c0a04c"/>
<line x1="135.1" y1="334.64" x2="171.3" y2="334.64" stroke="#c0a04c"/>
<line x1="135.1" y1="346.12" x2="171.3" y2="346.12" stroke="#c0a04c"/>
<line x1="135.1" y1="357.6" x2="171.3" y2="357.6" stroke="#c0a04c"/>
<line x1="135.1" y1="369.08" x2="171.3" y2="369.08" stroke="#c0a04c"/>
<line x1="135.1" y1="380.56" x2="171.3" y2="380.56" stroke="#a78b43"/>
<line x1="171.3" y1="242.8" x2="207.3" y2="242.8" stroke="#659292"/>
<line x1="171.3" y1="254.28" x2="207.3" y2="254.28" stroke="#7aafaf"/>
<line x1="171.3" y1="265.76" x2="207.3" y2="265.76" stroke="#7aafaf"/>
<line x1="171.3" y1="277.24" x2="207.3" y2="277.24" stroke="#7aafaf"/>
<line x1="171.3" y1="288.72" x2="207.3" y2="288.72" stroke="#7aafaf"/>
<line x1="171.3" y1="300.2" x2="207.3" y2="300.2" stroke="#7aafaf"/>
<line x1="171.3" y1="311.68" x2="207.3" y2="311.68" stroke="#7aafaf"/>
<line x1="171.3" y1="323.16" x2="207.3" y2="323.16" stroke="#7aafaf"/>
<line x1="171.3" y1="334.64" x2="207.3" y2="334.64" stroke="#7aafaf"/>
<line x1="171.3" y1="346.12" x2="207.3" y2="346.12" stroke="#7aafaf"/>
<line x1="171.3" y1="357.6" x2="207.3" y2="357.6" stroke="#7aafaf"/>
<line x1="171.3" y1="369.08" x2="207.3" y2="369.08" stroke="#7aafaf"/>
<line x1="171.3" y1="380.56" x2="207.3" y2="380.56" stroke="#659292"/>
<line x1="63.3" y1="242.8" x2="63.3" y2="380.56" stroke="#347b79"/>
<line x1="99.9" y1="242.8" x2="99.9" y2="380.56" stroke="#779290"/>
<line x1="135.1" y1="242.8" x2="135.1" y2="380.56" stroke="#b39971"/>
<line x1="171.3" y1="242.8" x2="171.3" y2="380.56" stroke="#8e9770"/>
<line x1="207.3" y1="242.8" x2="207.3" y2="380.56" stroke="#628d8d"/>
</g>
<g class="ct">
<text x="81.6" y="251.14" fill="#1f7f7d" stroke="#1f7f7d">C3</text>
<text x="81.6" y="262.62" fill="#1f7f7d" stroke="#1f7f7d">C3</text>
<text x="81.6" y="274.1" fill="#1f7f7d" stroke="#1f7f7d">C3</text>
<text x="81.6" y="285.58" fill="#1f7f7d" stroke="#1f7f7d">C3</text>
<text x="81.6" y="297.06" fill="#1f7f7d" stroke="#1f7f7d">C3</text>
<text x="81.6" y="308.54" fill="#1f7f7d" stroke="#1f7f7d">C3</text>
<text x="81.6" y="320.02" fill="#1f7f7d" stroke="#1f7f7d">C3</text>
<text x="81.6" y="331.5" fill="#1f7f7d" stroke="#1f7f7d">C3</text>
<text x="81.6" y="342.98" fill="#1f7f7d" stroke="#1f7f7d">C3</text>
<text x="81.6" y="354.46" fill="#1f7f7d" stroke="#1f7f7d">C3</text>
<text x="81.6" y="365.94" fill="#1f7f7d" stroke="#1f7f7d">C3</text>
<text x="81.6" y="377.42" fill="#1f7f7d" stroke="#1f7f7d">C3 (p)</text>
<text x="117.5" y="251.14" fill="#8a7473" stroke="#8a7473">D3</text>
<text x="117.5" y="262.62" fill="#8a7473" stroke="#8a7473">D3</text>
<text x="117.5" y="274.1" fill="#8a7473" stroke="#8a7473">D3</text>
<text x="117.5" y="285.58" fill="#8a7473" stroke="#8a7473">D3</text>
<text x="117.5" y="297.06" fill="#8a7473" stroke="#8a7473">D3</text>
<text x="117.5" y="308.54" fill="#8a7473" stroke="#8a7473">D3</text>
<text x="117.5" y="320.02" fill="#8a7473" stroke="#8a7473">D3</text>
<text x="117.5" y="331.5" fill="#8a7473" stroke="#8a7473">D3</text>
<text x="117.5" y="342.98" fill="#8a7473" stroke="#8a7473">D3</text>
<text x="117.5" y="354.46" fill="#8a7473" stroke="#8a7473">D3</text>
<text x="117.5" y="365.94" fill="#8a7473" stroke="#8a7473">D3</text>
<text x="117.5" y="377.42" fill="#8a7473" stroke="#8a7473">D3 (p)</text>
<text x="153.2" y="251.14" fill="#8e6f27" stroke="#8e6f27">D2</text>
<text x="153.2" y="262.62" fill="#8e6f27" stroke="#8e6f27">D2</text>
<text x="153.2" y="274.1" fill="#8e6f27" stroke="#8e6f27">D2</text>
<text x="153.2" y="285.58" fill="#8e6f27" stroke="#8e6f27">D2</text>
<text x="153.2" y="297.06" fill="#8e6f27" stroke="#8e6f27">D2</text>
<text x="153.2" y="308.54" fill="#8e6f27" stroke="#8e6f27">D2</text>
<text x="153.2" y="320.02" fill="#8e6f27" stroke="#8e6f27">D2</text>
<text x="153.2" y="331.5" fill="#8e6f27" stroke="#8e6f27">D2</text>
<text x="153.2" y="342.98" fill="#8e6f27" stroke="#8e6f27">D2</text>
<text x="153.2" y="354.46" fill="#8e6f27" stroke="#8e6f27">D2</text>
<text x="153.2" y="365.94" fill="#8e6f27" stroke="#8e6f27">D2</text>
<text x="153.2" y="377.42" fill="#8e6f27" stroke="#8e6f27">D2 (p)</text>
<text x="189.3" y="251.14" fill="#2f8a89" stroke="#2f8a89">C2</text>
<text x="189.3" y="262.62" fill="#2f8a89" stroke="#2f8a89">C2</text>
<text x="189.3" y="274.1" fill="#2f8a89" stroke="#2f8a89">C2</text>
<text x="189.3" y="285.58" fill="#2f8a89" stroke="#2f8a89">C2</text>
<text x="189.3" y="297.06" fill="#2f8a89" stroke="#2f8a89">C2</text>
<text x="189.3" y="308.54" fill="#2f8a89" stroke="#2f8a89">C2</text>
<text x="189.3" y="320.02" fill="#2f8a89" stroke="#2f8a89">C2</text>
<text x="189.3" y="331.5" fill="#2f8a89" stroke="#2f8a89">C2</text>
<text x="189.3" y="342.98" fill="#2f8a89" stroke="#2f8a89">C2</text>
<text x="189.3" y="354.46" fill="#2f8a89" stroke="#2f8a89">C2</text>
<text x="189.3" y="365.94" fill="#2f8a89" stroke="#2f8a89">C2</text>
<text x="189.3" y="377.42" fill="#2f8a89" stroke="#2f8a89">C2 (p)</text>
</g>
<rect class="box" x="63.3" y="380.56" width="144" height="11.5"/>
<text class="cp" x="135.3" y="388.91">CARPARK</text>
<text class="ttl" x="310.75" y="207.3">BLOCK 14</text>
<text class="sub" x="310.25" y="215.2">Jalan Loyang Besar S(508832)</text>
<text class="num" x="255.9" y="228.2">28</text>
<text class="num" x="292" y="228.2">27</text>
<text class="num" x="328.15" y="228.2">26</text>
<text class="num" x="364.5" y="228.2">25</text>
<rect x="237.8" y="242.8" width="36.2" height="137.76" fill="#f9baa4"/>
<rect x="274" y="242.8" width="36" height="137.76" fill="#95d6d6"/>
<rect x="310" y="242.8" width="36.3" height="137.76" fill="#ee916b"/>
<rect x="346.3" y="242.8" width="36.4" height="137.76" fill="#f6cd62"/>
<g class="gl">
<line x1="237.8" y1="242.8" x2="274" y2="242.8" stroke="#a97e70"/>
<line x1="237.8" y1="254.28" x2="274" y2="254.28" stroke="#c29180"/>
<line x1="237.8" y1="265.76" x2="274" y2="265.76" stroke="#c29180"/>
<line x1="237.8" y1="277.24" x2="274" y2="277.24" stroke="#c29180"/>
<line x1="237.8" y1="288.72" x2="274" y2="288.72" stroke="#c29180"/>
<line x1="237.8" y1="300.2" x2="274" y2="300.2" stroke="#c29180"/>
<line x1="237.8" y1="311.68" x2="274" y2="311.68" stroke="#c29180"/>
<line x1="237.8" y1="323.16" x2="274" y2="323.16" stroke="#c29180"/>
<line x1="237.8" y1="334.64" x2="274" y2="334.64" stroke="#c29180"/>
<line x1="237.8" y1="346.12" x2="274" y2="346.12" stroke="#c29180"/>
<line x1="237.8" y1="357.6" x2="274" y2="357.6" stroke="#c29180"/>
<line x1="237.8" y1="369.08" x2="274" y2="369.08" stroke="#c29180"/>
<line x1="237.8" y1="380.56" x2="274" y2="380.56" stroke="#a97e70"/>
<line x1="274" y1="242.8" x2="310" y2="242.8" stroke="#659292"/>
<line x1="274" y1="254.28" x2="310" y2="254.28" stroke="#7aafaf"/>
<line x1="274" y1="265.76" x2="310" y2="265.76" stroke="#7aafaf"/>
<line x1="274" y1="277.24" x2="310" y2="277.24" stroke="#7aafaf"/>
<line x1="274" y1="288.72" x2="310" y2="288.72" stroke="#7aafaf"/>
<line x1="274" y1="300.2" x2="310" y2="300.2" stroke="#7aafaf"/>
<line x1="274" y1="311.68" x2="310" y2="311.68" stroke="#7aafaf"/>
<line x1="274" y1="323.16" x2="310" y2="323.16" stroke="#7aafaf"/>
<line x1="274" y1="334.64" x2="310" y2="334.64" stroke="#7aafaf"/>
<line x1="274" y1="346.12" x2="310" y2="346.12" stroke="#7aafaf"/>
<line x1="274" y1="357.6" x2="310" y2="357.6" stroke="#7aafaf"/>
<line x1="274" y1="369.08" x2="310" y2="369.08" stroke="#7aafaf"/>
<line x1="274" y1="380.56" x2="310" y2="380.56" stroke="#659292"/>
<line x1="310" y1="242.8" x2="346.3" y2="242.8" stroke="#a26349"/>
<line x1="310" y1="254.28" x2="346.3" y2="254.28" stroke="#ca7b5b"/>
<line x1="310" y1="265.76" x2="346.3" y2="265.76" stroke="#ca7b5b"/>
<line x1="310" y1="277.24" x2="346.3" y2="277.24" stroke="#ca7b5b"/>
<line x1="310" y1="288.72" x2="346.3" y2="288.72" stroke="#ca7b5b"/>
<line x1="310" y1="300.2" x2="346.3" y2="300.2" stroke="#ca7b5b"/>
<line x1="310" y1="311.68" x2="346.3" y2="311.68" stroke="#ca7b5b"/>
<line x1="310" y1="323.16" x2="346.3" y2="323.16" stroke="#ca7b5b"/>
<line x1="310" y1="334.64" x2="346.3" y2="334.64" stroke="#ca7b5b"/>
<line x1="310" y1="346.12" x2="346.3" y2="346.12" stroke="#ca7b5b"/>
<line x1="310" y1="357.6" x2="346.3" y2="357.6" stroke="#ca7b5b"/>
<line x1="310" y1="369.08" x2="346.3" y2="369.08" stroke="#ca7b5b"/>
<line x1="310" y1="380.56" x2="346.3" y2="380.56" stroke="#a26349"/>
<line x1="346.3" y1="242.8" x2="382.7" y2="242.8" stroke="#a78b43"/>
<line x1="346.3" y1="254.28" x2="382.7" y2="254.28" stroke="#c0a04c"/>
<line x1="346.3" y1="265.76" x2="382.7" y2="265.76" stroke="#c0a04c"/>
<line x1="346.3" y1="277.24" x2="382.7" y2="277.24" stroke="#c0a04c"/>
<line x1="346.3" y1="288.72" x2="382.7" y2="288.72" stroke="#c0a04c"/>
<line x1="346.3" y1="300.2" x2="382.7" y2="300.2" stroke="#c0a04c"/>
<line x1="346.3" y1="311.68" x2="382.7" y2="311.68" stroke="#c0a04c"/>
<line x1="346.3" y1="323.16" x2="382.7" y2="323.16" stroke="#c0a04c"/>
<line x1="346.3" y1="334.64" x2="382.7" y2="334.64" stroke="#c0a04c"/>
<line x1="346.3" y1="346.12" x2="382.7" y2="346.12" stroke="#c0a04c"/>
<line x1="346.3" y1="357.6" x2="382.7" y2="357.6" stroke="#c0a04c"/>
<line x1="346.3" y1="369.08" x2="382.7" y2="369.08" stroke="#c0a04c"/>
<line x1="346.3" y1="380.56" x2="382.7" y2="380.56" stroke="#a78b43"/>
<line x1="237.8" y1="242.8" x2="237.8" y2="380.56" stroke="#a47b6c"/>
<line x1="274" y1="242.8" x2="274" y2="380.56" stroke="#8f9088"/>
<line x1="310" y1="242.8" x2="310" y2="380.56" stroke="#8b8174"/>
<line x1="346.3" y1="242.8" x2="346.3" y2="380.56" stroke="#ae7e4a"/>
<line x1="382.7" y1="242.8" x2="382.7" y2="380.56" stroke="#a28741"/>
</g>
<g class="ct">
<text x="255.9" y="251.14" fill="#a2604c" stroke="#a2604c">D4</text>
<text x="255.9" y="262.62" fill="#a2604c" stroke="#a2604c">D4</text>
<text x="255.9" y="274.1" fill="#a2604c" stroke="#a2604c">D4</text>
<text x="255.9" y="285.58" fill="#a2604c" stroke="#a2604c">D4</text>
<text x="255.9" y="297.06" fill="#a2604c" stroke="#a2604c">D4</text>
<text x="255.9" y="308.54" fill="#a2604c" stroke="#a2604c">D4</text>
<text x="255.9" y="320.02" fill="#a2604c" stroke="#a2604c">D4</text>
<text x="255.9" y="331.5" fill="#a2604c" stroke="#a2604c">D4</text>
<text x="255.9" y="342.98" fill="#a2604c" stroke="#a2604c">D4</text>
<text x="255.9" y="354.46" fill="#a2604c" stroke="#a2604c">D4</text>
<text x="255.9" y="365.94" fill="#a2604c" stroke="#a2604c">D4</text>
<text x="255.9" y="377.42" fill="#a2604c" stroke="#a2604c">D4 (p)</text>
<text x="292" y="251.14" fill="#2f8a89" stroke="#2f8a89">C2</text>
<text x="292" y="262.62" fill="#2f8a89" stroke="#2f8a89">C2</text>
<text x="292" y="274.1" fill="#2f8a89" stroke="#2f8a89">C2</text>
<text x="292" y="285.58" fill="#2f8a89" stroke="#2f8a89">C2</text>
<text x="292" y="297.06" fill="#2f8a89" stroke="#2f8a89">C2</text>
<text x="292" y="308.54" fill="#2f8a89" stroke="#2f8a89">C2</text>
<text x="292" y="320.02" fill="#2f8a89" stroke="#2f8a89">C2</text>
<text x="292" y="331.5" fill="#2f8a89" stroke="#2f8a89">C2</text>
<text x="292" y="342.98" fill="#2f8a89" stroke="#2f8a89">C2</text>
<text x="292" y="354.46" fill="#2f8a89" stroke="#2f8a89">C2</text>
<text x="292" y="365.94" fill="#2f8a89" stroke="#2f8a89">C2</text>
<text x="292" y="377.42" fill="#2f8a89" stroke="#2f8a89">C2 (p)</text>
<text x="328.15" y="251.14" fill="#a3513a" stroke="#a3513a">D5</text>
<text x="328.15" y="262.62" fill="#a3513a" stroke="#a3513a">D5</text>
<text x="328.15" y="274.1" fill="#a3513a" stroke="#a3513a">D5</text>
<text x="328.15" y="285.58" fill="#a3513a" stroke="#a3513a">D5</text>
<text x="328.15" y="297.06" fill="#a3513a" stroke="#a3513a">D5</text>
<text x="328.15" y="308.54" fill="#a3513a" stroke="#a3513a">D5</text>
<text x="328.15" y="320.02" fill="#a3513a" stroke="#a3513a">D5</text>
<text x="328.15" y="331.5" fill="#a3513a" stroke="#a3513a">D5</text>
<text x="328.15" y="342.98" fill="#a3513a" stroke="#a3513a">D5</text>
<text x="328.15" y="354.46" fill="#a3513a" stroke="#a3513a">D5</text>
<text x="328.15" y="365.94" fill="#a3513a" stroke="#a3513a">D5</text>
<text x="328.15" y="377.42" fill="#a3513a" stroke="#a3513a">D5 (p)</text>
<text x="364.5" y="251.14" fill="#8e6f27" stroke="#8e6f27">D2</text>
<text x="364.5" y="262.62" fill="#8e6f27" stroke="#8e6f27">D2</text>
<text x="364.5" y="274.1" fill="#8e6f27" stroke="#8e6f27">D2</text>
<text x="364.5" y="285.58" fill="#8e6f27" stroke="#8e6f27">D2</text>
<text x="364.5" y="297.06" fill="#8e6f27" stroke="#8e6f27">D2</text>
<text x="364.5" y="308.54" fill="#8e6f27" stroke="#8e6f27">D2</text>
<text x="364.5" y="320.02" fill="#8e6f27" stroke="#8e6f27">D2</text>
<text x="364.5" y="331.5" fill="#8e6f27" stroke="#8e6f27">D2</text>
<text x="364.5" y="342.98" fill="#8e6f27" stroke="#8e6f27">D2</text>
<text x="364.5" y="354.46" fill="#8e6f27" stroke="#8e6f27">D2</text>
<text x="364.5" y="365.94" fill="#8e6f27" stroke="#8e6f27">D2</text>
<text x="364.5" y="377.42" fill="#8e6f27" stroke="#8e6f27">D2 (p)</text>
</g>
<rect class="box" x="237.8" y="380.56" width="144.9" height="11.5"/>
<text class="cp" x="310.25" y="388.91">CARPARK</text>
<text class="ttl" x="564.75" y="207.3">BLOCK 12</text>
<text class="sub" x="564.25" y="215.2">Jalan Loyang Besar S(508831)</text>
<text class="num" x="510.1" y="228.2">24</text>
<text class="num" x="546" y="228.2">23</text>
<text class="num" x="581.8" y="228.2">22</text>
<text class="num" x="617.95" y="228.2">21</text>
<rect x="492.2" y="242.8" width="35.8" height="137.76" fill="#4fbab8"/>
<rect x="528" y="242.8" width="36" height="137.76" fill="#f9baa4"/>
<rect x="564" y="242.8" width="35.6" height="137.76" fill="#dcedf6"/>
<rect x="599.6" y="242.8" width="36.7" height="137.76" fill="#ee916b"/>
<g class="gl">
<line x1="492.2" y1="242.8" x2="528" y2="242.8" stroke="#367e7d"/>
<line x1="492.2" y1="254.28" x2="528" y2="254.28" stroke="#46a4a2"/>
<line x1="492.2" y1="265.76" x2="528" y2="265.76" stroke="#46a4a2"/>
<line x1="492.2" y1="277.24" x2="528" y2="277.24" stroke="#46a4a2"/>
<line x1="492.2" y1="288.72" x2="528" y2="288.72" stroke="#46a4a2"/>
<line x1="492.2" y1="300.2" x2="528" y2="300.2" stroke="#46a4a2"/>
<line x1="492.2" y1="311.68" x2="528" y2="311.68" stroke="#46a4a2"/>
<line x1="492.2" y1="323.16" x2="528" y2="323.16" stroke="#46a4a2"/>
<line x1="492.2" y1="334.64" x2="528" y2="334.64" stroke="#46a4a2"/>
<line x1="492.2" y1="346.12" x2="528" y2="346.12" stroke="#46a4a2"/>
<line x1="492.2" y1="357.6" x2="528" y2="357.6" stroke="#46a4a2"/>
<line x1="492.2" y1="369.08" x2="528" y2="369.08" stroke="#46a4a2"/>
<line x1="492.2" y1="380.56" x2="528" y2="380.56" stroke="#367e7d"/>
<line x1="528" y1="242.8" x2="564" y2="242.8" stroke="#a97e70"/>
<line x1="528" y1="254.28" x2="564" y2="254.28" stroke="#c29180"/>
<line x1="528" y1="265.76" x2="564" y2="265.76" stroke="#c29180"/>
<line x1="528" y1="277.24" x2="564" y2="277.24" stroke="#c29180"/>
<line x1="528" y1="288.72" x2="564" y2="288.72" stroke="#c29180"/>
<line x1="528" y1="300.2" x2="564" y2="300.2" stroke="#c29180"/>
<line x1="528" y1="311.68" x2="564" y2="311.68" stroke="#c29180"/>
<line x1="528" y1="323.16" x2="564" y2="323.16" stroke="#c29180"/>
<line x1="528" y1="334.64" x2="564" y2="334.64" stroke="#c29180"/>
<line x1="528" y1="346.12" x2="564" y2="346.12" stroke="#c29180"/>
<line x1="528" y1="357.6" x2="564" y2="357.6" stroke="#c29180"/>
<line x1="528" y1="369.08" x2="564" y2="369.08" stroke="#c29180"/>
<line x1="528" y1="380.56" x2="564" y2="380.56" stroke="#a97e70"/>
<line x1="564" y1="242.8" x2="599.6" y2="242.8" stroke="#96a1a7"/>
<line x1="564" y1="254.28" x2="599.6" y2="254.28" stroke="#acb9c0"/>
<line x1="564" y1="265.76" x2="599.6" y2="265.76" stroke="#acb9c0"/>
<line x1="564" y1="277.24" x2="599.6" y2="277.24" stroke="#acb9c0"/>
<line x1="564" y1="288.72" x2="599.6" y2="288.72" stroke="#acb9c0"/>
<line x1="564" y1="300.2" x2="599.6" y2="300.2" stroke="#acb9c0"/>
<line x1="564" y1="311.68" x2="599.6" y2="311.68" stroke="#acb9c0"/>
<line x1="564" y1="323.16" x2="599.6" y2="323.16" stroke="#acb9c0"/>
<line x1="564" y1="334.64" x2="599.6" y2="334.64" stroke="#acb9c0"/>
<line x1="564" y1="346.12" x2="599.6" y2="346.12" stroke="#acb9c0"/>
<line x1="564" y1="357.6" x2="599.6" y2="357.6" stroke="#acb9c0"/>
<line x1="564" y1="369.08" x2="599.6" y2="369.08" stroke="#acb9c0"/>
<line x1="564" y1="380.56" x2="599.6" y2="380.56" stroke="#96a1a7"/>
<line x1="599.6" y1="242.8" x2="636.3" y2="242.8" stroke="#a26349"/>
<line x1="599.6" y1="254.28" x2="636.3" y2="254.28" stroke="#ca7b5b"/>
<line x1="599.6" y1="265.76" x2="636.3" y2="265.76" stroke="#ca7b5b"/>
<line x1="599.6" y1="277.24" x2="636.3" y2="277.24" stroke="#ca7b5b"/>
<line x1="599.6" y1="288.72" x2="636.3" y2="288.72" stroke="#ca7b5b"/>
<line x1="599.6" y1="300.2" x2="636.3" y2="300.2" stroke="#ca7b5b"/>
<line x1="599.6" y1="311.68" x2="636.3" y2="311.68" stroke="#ca7b5b"/>
<line x1="599.6" y1="323.16" x2="636.3" y2="323.16" stroke="#ca7b5b"/>
<line x1="599.6" y1="334.64" x2="636.3" y2="334.64" stroke="#ca7b5b"/>
<line x1="599.6" y1="346.12" x2="636.3" y2="346.12" stroke="#ca7b5b"/>
<line x1="599.6" y1="357.6" x2="636.3" y2="357.6" stroke="#ca7b5b"/>
<line x1="599.6" y1="369.08" x2="636.3" y2="369.08" stroke="#ca7b5b"/>
<line x1="599.6" y1="380.56" x2="636.3" y2="380.56" stroke="#a26349"/>
<line x1="492.2" y1="242.8" x2="492.2" y2="380.56" stroke="#347b79"/>
<line x1="528" y1="242.8" x2="528" y2="380.56" stroke="#76867d"/>
<line x1="564" y1="242.8" x2="564" y2="380.56" stroke="#a99894"/>
<line x1="599.6" y1="242.8" x2="599.6" y2="380.56" stroke="#a58a7f"/>
<line x1="636.3" y1="242.8" x2="636.3" y2="380.56" stroke="#9d6047"/>
</g>
<g class="ct">
<text x="510.1" y="251.14" fill="#1f7f7d" stroke="#1f7f7d">C3</text>
<text x="510.1" y="262.62" fill="#1f7f7d" stroke="#1f7f7d">C3</text>
<text x="510.1" y="274.1" fill="#1f7f7d" stroke="#1f7f7d">C3</text>
<text x="510.1" y="285.58" fill="#1f7f7d" stroke="#1f7f7d">C3</text>
<text x="510.1" y="297.06" fill="#1f7f7d" stroke="#1f7f7d">C3</text>
<text x="510.1" y="308.54" fill="#1f7f7d" stroke="#1f7f7d">C3</text>
<text x="510.1" y="320.02" fill="#1f7f7d" stroke="#1f7f7d">C3</text>
<text x="510.1" y="331.5" fill="#1f7f7d" stroke="#1f7f7d">C3</text>
<text x="510.1" y="342.98" fill="#1f7f7d" stroke="#1f7f7d">C3</text>
<text x="510.1" y="354.46" fill="#1f7f7d" stroke="#1f7f7d">C3</text>
<text x="510.1" y="365.94" fill="#1f7f7d" stroke="#1f7f7d">C3</text>
<text x="510.1" y="377.42" fill="#1f7f7d" stroke="#1f7f7d">C3 (p)</text>
<text x="546" y="251.14" fill="#a2604c" stroke="#a2604c">D4</text>
<text x="546" y="262.62" fill="#a2604c" stroke="#a2604c">D4</text>
<text x="546" y="274.1" fill="#a2604c" stroke="#a2604c">D4</text>
<text x="546" y="285.58" fill="#a2604c" stroke="#a2604c">D4</text>
<text x="546" y="297.06" fill="#a2604c" stroke="#a2604c">D4</text>
<text x="546" y="308.54" fill="#a2604c" stroke="#a2604c">D4</text>
<text x="546" y="320.02" fill="#a2604c" stroke="#a2604c">D4</text>
<text x="546" y="331.5" fill="#a2604c" stroke="#a2604c">D4</text>
<text x="546" y="342.98" fill="#a2604c" stroke="#a2604c">D4</text>
<text x="546" y="354.46" fill="#a2604c" stroke="#a2604c">D4</text>
<text x="546" y="365.94" fill="#a2604c" stroke="#a2604c">D4</text>
<text x="546" y="377.42" fill="#a2604c" stroke="#a2604c">D4 (p)</text>
<text x="581.8" y="251.14" fill="#6d7f88" stroke="#6d7f88">C1b</text>
<text x="581.8" y="262.62" fill="#6d7f88" stroke="#6d7f88">C1b</text>
<text x="581.8" y="274.1" fill="#6d7f88" stroke="#6d7f88">C1b</text>
<text x="581.8" y="285.58" fill="#6d7f88" stroke="#6d7f88">C1b</text>
<text x="581.8" y="297.06" fill="#6d7f88" stroke="#6d7f88">C1b</text>
<text x="581.8" y="308.54" fill="#6d7f88" stroke="#6d7f88">C1b</text>
<text x="581.8" y="320.02" fill="#6d7f88" stroke="#6d7f88">C1b</text>
<text x="581.8" y="331.5" fill="#6d7f88" stroke="#6d7f88">C1b</text>
<text x="581.8" y="342.98" fill="#6d7f88" stroke="#6d7f88">C1b</text>
<text x="581.8" y="354.46" fill="#6d7f88" stroke="#6d7f88">C1b</text>
<text x="581.8" y="365.94" fill="#6d7f88" stroke="#6d7f88">C1b</text>
<text x="581.8" y="377.42" fill="#6d7f88" stroke="#6d7f88">C1b (p)</text>
<text x="617.95" y="251.14" fill="#a3513a" stroke="#a3513a">D5</text>
<text x="617.95" y="262.62" fill="#a3513a" stroke="#a3513a">D5</text>
<text x="617.95" y="274.1" fill="#a3513a" stroke="#a3513a">D5</text>
<text x="617.95" y="285.58" fill="#a3513a" stroke="#a3513a">D5</text>
<text x="617.95" y="297.06" fill="#a3513a" stroke="#a3513a">D5</text>
<text x="617.95" y="308.54" fill="#a3513a" stroke="#a3513a">D5</text>
<text x="617.95" y="320.02" fill="#a3513a" stroke="#a3513a">D5</text>
<text x="617.95" y="331.5" fill="#a3513a" stroke="#a3513a">D5</text>
<text x="617.95" y="342.98" fill="#a3513a" stroke="#a3513a">D5</text>
<text x="617.95" y="354.46" fill="#a3513a" stroke="#a3513a">D5</text>
<text x="617.95" y="365.94" fill="#a3513a" stroke="#a3513a">D5</text>
<text x="617.95" y="377.42" fill="#a3513a" stroke="#a3513a">D5 (p)</text>
</g>
<rect class="box" x="492.2" y="380.56" width="144.1" height="11.5"/>
<text class="cp" x="564.25" y="388.91">CARPARK</text>
<text class="ttl" x="739" y="207.3">BLOCK 10</text>
<text class="sub" x="738.5" y="215.2">Jalan Loyang Besar S(508859)</text>
<text class="num" x="684.75" y="228.2">20</text>
<text class="num" x="720.8" y="228.2">19</text>
<text class="num" x="756.75" y="228.2">18</text>
<text class="num" x="792.7" y="228.2">17</text>
<rect x="666.5" y="242.8" width="36.5" height="137.76" fill="#fcdbd9"/>
<rect x="703" y="242.8" width="35.6" height="137.76" fill="#95d6d6"/>
<rect x="738.6" y="242.8" width="36.3" height="137.76" fill="#4fbab8"/>
<rect x="774.9" y="242.8" width="35.6" height="137.76" fill="#dcedf6"/>
<g class="gl">
<line x1="666.5" y1="242.8" x2="703" y2="242.8" stroke="#ab9594"/>
<line x1="666.5" y1="254.28" x2="703" y2="254.28" stroke="#c5aba9"/>
<line x1="666.5" y1="265.76" x2="703" y2="265.76" stroke="#c5aba9"/>
<line x1="666.5" y1="277.24" x2="703" y2="277.24" stroke="#c5aba9"/>
<line x1="666.5" y1="288.72" x2="703" y2="288.72" stroke="#c5aba9"/>
<line x1="666.5" y1="300.2" x2="703" y2="300.2" stroke="#c5aba9"/>
<line x1="666.5" y1="311.68" x2="703" y2="311.68" stroke="#c5aba9"/>
<line x1="666.5" y1="323.16" x2="703" y2="323.16" stroke="#c5aba9"/>
<line x1="666.5" y1="334.64" x2="703" y2="334.64" stroke="#c5aba9"/>
<line x1="666.5" y1="346.12" x2="703" y2="346.12" stroke="#c5aba9"/>
<line x1="666.5" y1="357.6" x2="703" y2="357.6" stroke="#c5aba9"/>
<line x1="666.5" y1="369.08" x2="703" y2="369.08" stroke="#c5aba9"/>
<line x1="666.5" y1="380.56" x2="703" y2="380.56" stroke="#ab9594"/>
<line x1="703" y1="242.8" x2="738.6" y2="242.8" stroke="#659292"/>
<line x1="703" y1="254.28" x2="738.6" y2="254.28" stroke="#7aafaf"/>
<line x1="703" y1="265.76" x2="738.6" y2="265.76" stroke="#7aafaf"/>
<line x1="703" y1="277.24" x2="738.6" y2="277.24" stroke="#7aafaf"/>
<line x1="703" y1="288.72" x2="738.6" y2="288.72" stroke="#7aafaf"/>
<line x1="703" y1="300.2" x2="738.6" y2="300.2" stroke="#7aafaf"/>
<line x1="703" y1="311.68" x2="738.6" y2="311.68" stroke="#7aafaf"/>
<line x1="703" y1="323.16" x2="738.6" y2="323.16" stroke="#7aafaf"/>
<line x1="703" y1="334.64" x2="738.6" y2="334.64" stroke="#7aafaf"/>
<line x1="703" y1="346.12" x2="738.6" y2="346.12" stroke="#7aafaf"/>
<line x1="703" y1="357.6" x2="738.6" y2="357.6" stroke="#7aafaf"/>
<line x1="703" y1="369.08" x2="738.6" y2="369.08" stroke="#7aafaf"/>
<line x1="703" y1="380.56" x2="738.6" y2="380.56" stroke="#659292"/>
<line x1="738.6" y1="242.8" x2="774.9" y2="242.8" stroke="#367e7d"/>
<line x1="738.6" y1="254.28" x2="774.9" y2="254.28" stroke="#46a4a2"/>
<line x1="738.6" y1="265.76" x2="774.9" y2="265.76" stroke="#46a4a2"/>
<line x1="738.6" y1="277.24" x2="774.9" y2="277.24" stroke="#46a4a2"/>
<line x1="738.6" y1="288.72" x2="774.9" y2="288.72" stroke="#46a4a2"/>
<line x1="738.6" y1="300.2" x2="774.9" y2="300.2" stroke="#46a4a2"/>
<line x1="738.6" y1="311.68" x2="774.9" y2="311.68" stroke="#46a4a2"/>
<line x1="738.6" y1="323.16" x2="774.9" y2="323.16" stroke="#46a4a2"/>
<line x1="738.6" y1="334.64" x2="774.9" y2="334.64" stroke="#46a4a2"/>
<line x1="738.6" y1="346.12" x2="774.9" y2="346.12" stroke="#46a4a2"/>
<line x1="738.6" y1="357.6" x2="774.9" y2="357.6" stroke="#46a4a2"/>
<line x1="738.6" y1="369.08" x2="774.9" y2="369.08" stroke="#46a4a2"/>
<line x1="738.6" y1="380.56" x2="774.9" y2="380.56" stroke="#367e7d"/>
<line x1="774.9" y1="242.8" x2="810.5" y2="242.8" stroke="#96a1a7"/>
<line x1="774.9" y1="254.28" x2="810.5" y2="254.28" stroke="#acb9c0"/>
<line x1="774.9" y1="265.76" x2="810.5" y2="265.76" stroke="#acb9c0"/>
<line x1="774.9" y1="277.24" x2="810.5" y2="277.24" stroke="#acb9c0"/>
<line x1="774.9" y1="288.72" x2="810.5" y2="288.72" stroke="#acb9c0"/>
<line x1="774.9" y1="300.2" x2="810.5" y2="300.2" stroke="#acb9c0"/>
<line x1="774.9" y1="311.68" x2="810.5" y2="311.68" stroke="#acb9c0"/>
<line x1="774.9" y1="323.16" x2="810.5" y2="323.16" stroke="#acb9c0"/>
<line x1="774.9" y1="334.64" x2="810.5" y2="334.64" stroke="#acb9c0"/>
<line x1="774.9" y1="346.12" x2="810.5" y2="346.12" stroke="#acb9c0"/>
<line x1="774.9" y1="357.6" x2="810.5" y2="357.6" stroke="#acb9c0"/>
<line x1="774.9" y1="369.08" x2="810.5" y2="369.08" stroke="#acb9c0"/>
<line x1="774.9" y1="380.56" x2="810.5" y2="380.56" stroke="#96a1a7"/>
<line x1="666.5" y1="242.8" x2="666.5" y2="380.56" stroke="#a6918f"/>
<line x1="703" y1="242.8" x2="703" y2="380.56" stroke="#909c9b"/>
<line x1="738.6" y1="242.8" x2="738.6" y2="380.56" stroke="#52908f"/>
<line x1="774.9" y1="242.8" x2="774.9" y2="380.56" stroke="#6c989b"/>
<line x1="810.5" y1="242.8" x2="810.5" y2="380.56" stroke="#919ca2"/>
</g>
<g class="ct">
<text x="684.75" y="251.14" fill="#8a7473" stroke="#8a7473">D3</text>
<text x="684.75" y="262.62" fill="#8a7473" stroke="#8a7473">D3</text>
<text x="684.75" y="274.1" fill="#8a7473" stroke="#8a7473">D3</text>
<text x="684.75" y="285.58" fill="#8a7473" stroke="#8a7473">D3</text>
<text x="684.75" y="297.06" fill="#8a7473" stroke="#8a7473">D3</text>
<text x="684.75" y="308.54" fill="#8a7473" stroke="#8a7473">D3</text>
<text x="684.75" y="320.02" fill="#8a7473" stroke="#8a7473">D3</text>
<text x="684.75" y="331.5" fill="#8a7473" stroke="#8a7473">D3</text>
<text x="684.75" y="342.98" fill="#8a7473" stroke="#8a7473">D3</text>
<text x="684.75" y="354.46" fill="#8a7473" stroke="#8a7473">D3</text>
<text x="684.75" y="365.94" fill="#8a7473" stroke="#8a7473">D3</text>
<text x="684.75" y="377.42" fill="#8a7473" stroke="#8a7473">D3 (p)</text>
<text x="720.8" y="251.14" fill="#2f8a89" stroke="#2f8a89">C2</text>
<text x="720.8" y="262.62" fill="#2f8a89" stroke="#2f8a89">C2</text>
<text x="720.8" y="274.1" fill="#2f8a89" stroke="#2f8a89">C2</text>
<text x="720.8" y="285.58" fill="#2f8a89" stroke="#2f8a89">C2</text>
<text x="720.8" y="297.06" fill="#2f8a89" stroke="#2f8a89">C2</text>
<text x="720.8" y="308.54" fill="#2f8a89" stroke="#2f8a89">C2</text>
<text x="720.8" y="320.02" fill="#2f8a89" stroke="#2f8a89">C2</text>
<text x="720.8" y="331.5" fill="#2f8a89" stroke="#2f8a89">C2</text>
<text x="720.8" y="342.98" fill="#2f8a89" stroke="#2f8a89">C2</text>
<text x="720.8" y="354.46" fill="#2f8a89" stroke="#2f8a89">C2</text>
<text x="720.8" y="365.94" fill="#2f8a89" stroke="#2f8a89">C2</text>
<text x="720.8" y="377.42" fill="#2f8a89" stroke="#2f8a89">C2 (p)</text>
<text x="756.75" y="251.14" fill="#1f7f7d" stroke="#1f7f7d">C3</text>
<text x="756.75" y="262.62" fill="#1f7f7d" stroke="#1f7f7d">C3</text>
<text x="756.75" y="274.1" fill="#1f7f7d" stroke="#1f7f7d">C3</text>
<text x="756.75" y="285.58" fill="#1f7f7d" stroke="#1f7f7d">C3</text>
<text x="756.75" y="297.06" fill="#1f7f7d" stroke="#1f7f7d">C3</text>
<text x="756.75" y="308.54" fill="#1f7f7d" stroke="#1f7f7d">C3</text>
<text x="756.75" y="320.02" fill="#1f7f7d" stroke="#1f7f7d">C3</text>
<text x="756.75" y="331.5" fill="#1f7f7d" stroke="#1f7f7d">C3</text>
<text x="756.75" y="342.98" fill="#1f7f7d" stroke="#1f7f7d">C3</text>
<text x="756.75" y="354.46" fill="#1f7f7d" stroke="#1f7f7d">C3</text>
<text x="756.75" y="365.94" fill="#1f7f7d" stroke="#1f7f7d">C3</text>
<text x="756.75" y="377.42" fill="#1f7f7d" stroke="#1f7f7d">C3 (p)</text>
<text x="792.7" y="251.14" fill="#6d7f88" stroke="#6d7f88">C1b</text>
<text x="792.7" y="262.62" fill="#6d7f88" stroke="#6d7f88">C1b</text>
<text x="792.7" y="274.1" fill="#6d7f88" stroke="#6d7f88">C1b</text>
<text x="792.7" y="285.58" fill="#6d7f88" stroke="#6d7f88">C1b</text>
<text x="792.7" y="297.06" fill="#6d7f88" stroke="#6d7f88">C1b</text>
<text x="792.7" y="308.54" fill="#6d7f88" stroke="#6d7f88">C1b</text>
<text x="792.7" y="320.02" fill="#6d7f88" stroke="#6d7f88">C1b</text>
<text x="792.7" y="331.5" fill="#6d7f88" stroke="#6d7f88">C1b</text>
<text x="792.7" y="342.98" fill="#6d7f88" stroke="#6d7f88">C1b</text>
<text x="792.7" y="354.46" fill="#6d7f88" stroke="#6d7f88">C1b</text>
<text x="792.7" y="365.94" fill="#6d7f88" stroke="#6d7f88">C1b</text>
<text x="792.7" y="377.42" fill="#6d7f88" stroke="#6d7f88">C1b (p)</text>
</g>
<rect class="box" x="666.5" y="380.56" width="144" height="11.5"/>
<text class="cp" x="738.5" y="388.91">CARPARK</text>
<g class="fl">
<line x1="3.6" y1="437.6" x2="37" y2="437.6"/>
<line x1="3.6" y1="447.96" x2="37" y2="447.96"/>
<line x1="3.6" y1="459.44" x2="37" y2="459.44"/>
<line x1="3.6" y1="470.92" x2="37" y2="470.92"/>
<line x1="3.6" y1="482.4" x2="37" y2="482.4"/>
<line x1="3.6" y1="493.88" x2="37" y2="493.88"/>
<line x1="3.6" y1="505.36" x2="37" y2="505.36"/>
<line x1="3.6" y1="516.84" x2="37" y2="516.84"/>
<line x1="3.6" y1="528.32" x2="37" y2="528.32"/>
<line x1="3.6" y1="539.8" x2="37" y2="539.8"/>
<line x1="3.6" y1="551.28" x2="37" y2="551.28"/>
<line x1="3.6" y1="562.76" x2="37" y2="562.76"/>
<line x1="3.6" y1="574.24" x2="37" y2="574.24"/>
<line x1="3.6" y1="585.72" x2="37" y2="585.72"/>
<line x1="3.6" y1="597.27" x2="37" y2="597.27"/>
<text x="29.2" y="435" text-anchor="end">Unit</text>
<text x="29.2" y="445.36" text-anchor="end">Floor</text>
<text x="29.2" y="456.84" text-anchor="end">12</text>
<text x="29.2" y="468.32" text-anchor="end">11</text>
<text x="29.2" y="479.8" text-anchor="end">10</text>
<text x="29.2" y="491.28" text-anchor="end">9</text>
<text x="29.2" y="502.76" text-anchor="end">8</text>
<text x="29.2" y="514.24" text-anchor="end">7</text>
<text x="29.2" y="525.72" text-anchor="end">6</text>
<text x="29.2" y="537.2" text-anchor="end">5</text>
<text x="29.2" y="548.68" text-anchor="end">4</text>
<text x="29.2" y="560.16" text-anchor="end">3</text>
<text x="29.2" y="571.64" text-anchor="end">2</text>
<text x="29.2" y="583.12" text-anchor="end">1</text>
<text x="29.2" y="594.67" text-anchor="end">B1</text>
</g>
<g class="fl">
<line x1="828.8" y1="437.6" x2="862.2" y2="437.6"/>
<line x1="828.8" y1="447.96" x2="862.2" y2="447.96"/>
<line x1="828.8" y1="459.44" x2="862.2" y2="459.44"/>
<line x1="828.8" y1="470.92" x2="862.2" y2="470.92"/>
<line x1="828.8" y1="482.4" x2="862.2" y2="482.4"/>
<line x1="828.8" y1="493.88" x2="862.2" y2="493.88"/>
<line x1="828.8" y1="505.36" x2="862.2" y2="505.36"/>
<line x1="828.8" y1="516.84" x2="862.2" y2="516.84"/>
<line x1="828.8" y1="528.32" x2="862.2" y2="528.32"/>
<line x1="828.8" y1="539.8" x2="862.2" y2="539.8"/>
<line x1="828.8" y1="551.28" x2="862.2" y2="551.28"/>
<line x1="828.8" y1="562.76" x2="862.2" y2="562.76"/>
<line x1="828.8" y1="574.24" x2="862.2" y2="574.24"/>
<line x1="828.8" y1="585.72" x2="862.2" y2="585.72"/>
<line x1="828.8" y1="597.27" x2="862.2" y2="597.27"/>
<text x="835.2" y="435" text-anchor="start">Unit</text>
<text x="835.2" y="445.36" text-anchor="start">Floor</text>
<text x="835.2" y="456.84" text-anchor="start">12</text>
<text x="835.2" y="468.32" text-anchor="start">11</text>
<text x="835.2" y="479.8" text-anchor="start">10</text>
<text x="835.2" y="491.28" text-anchor="start">9</text>
<text x="835.2" y="502.76" text-anchor="start">8</text>
<text x="835.2" y="514.24" text-anchor="start">7</text>
<text x="835.2" y="525.72" text-anchor="start">6</text>
<text x="835.2" y="537.2" text-anchor="start">5</text>
<text x="835.2" y="548.68" text-anchor="start">4</text>
<text x="835.2" y="560.16" text-anchor="start">3</text>
<text x="835.2" y="571.64" text-anchor="start">2</text>
<text x="835.2" y="583.12" text-anchor="start">1</text>
<text x="835.2" y="594.67" text-anchor="start">B1</text>
</g>
<text class="ttl" x="135.8" y="412.3">BLOCK 18</text>
<text class="sub" x="135.3" y="420.4">Jalan Loyang Besar S(508834)</text>
<text class="num" x="81.6" y="433.2">33</text>
<text class="num" x="117.5" y="433.2">34</text>
<text class="num" x="153.2" y="433.2">35</text>
<text class="num" x="189.3" y="433.2">36</text>
<rect x="63.3" y="447.96" width="36.6" height="137.76" fill="#4fbab8"/>
<rect x="99.9" y="447.96" width="35.2" height="137.76" fill="#f6cd62"/>
<rect x="135.1" y="447.96" width="36.2" height="137.76" fill="#fcdbd9"/>
<rect x="171.3" y="447.96" width="36" height="137.76" fill="#95d6d6"/>
<g class="gl">
<line x1="63.3" y1="447.96" x2="99.9" y2="447.96" stroke="#367e7d"/>
<line x1="63.3" y1="459.44" x2="99.9" y2="459.44" stroke="#46a4a2"/>
<line x1="63.3" y1="470.92" x2="99.9" y2="470.92" stroke="#46a4a2"/>
<line x1="63.3" y1="482.4" x2="99.9" y2="482.4" stroke="#46a4a2"/>
<line x1="63.3" y1="493.88" x2="99.9" y2="493.88" stroke="#46a4a2"/>
<line x1="63.3" y1="505.36" x2="99.9" y2="505.36" stroke="#46a4a2"/>
<line x1="63.3" y1="516.84" x2="99.9" y2="516.84" stroke="#46a4a2"/>
<line x1="63.3" y1="528.32" x2="99.9" y2="528.32" stroke="#46a4a2"/>
<line x1="63.3" y1="539.8" x2="99.9" y2="539.8" stroke="#46a4a2"/>
<line x1="63.3" y1="551.28" x2="99.9" y2="551.28" stroke="#46a4a2"/>
<line x1="63.3" y1="562.76" x2="99.9" y2="562.76" stroke="#46a4a2"/>
<line x1="63.3" y1="574.24" x2="99.9" y2="574.24" stroke="#46a4a2"/>
<line x1="63.3" y1="585.72" x2="99.9" y2="585.72" stroke="#367e7d"/>
<line x1="99.9" y1="447.96" x2="135.1" y2="447.96" stroke="#a78b43"/>
<line x1="99.9" y1="459.44" x2="135.1" y2="459.44" stroke="#c0a04c"/>
<line x1="99.9" y1="470.92" x2="135.1" y2="470.92" stroke="#c0a04c"/>
<line x1="99.9" y1="482.4" x2="135.1" y2="482.4" stroke="#c0a04c"/>
<line x1="99.9" y1="493.88" x2="135.1" y2="493.88" stroke="#c0a04c"/>
<line x1="99.9" y1="505.36" x2="135.1" y2="505.36" stroke="#c0a04c"/>
<line x1="99.9" y1="516.84" x2="135.1" y2="516.84" stroke="#c0a04c"/>
<line x1="99.9" y1="528.32" x2="135.1" y2="528.32" stroke="#c0a04c"/>
<line x1="99.9" y1="539.8" x2="135.1" y2="539.8" stroke="#c0a04c"/>
<line x1="99.9" y1="551.28" x2="135.1" y2="551.28" stroke="#c0a04c"/>
<line x1="99.9" y1="562.76" x2="135.1" y2="562.76" stroke="#c0a04c"/>
<line x1="99.9" y1="574.24" x2="135.1" y2="574.24" stroke="#c0a04c"/>
<line x1="99.9" y1="585.72" x2="135.1" y2="585.72" stroke="#a78b43"/>
<line x1="135.1" y1="447.96" x2="171.3" y2="447.96" stroke="#ab9594"/>
<line x1="135.1" y1="459.44" x2="171.3" y2="459.44" stroke="#c5aba9"/>
<line x1="135.1" y1="470.92" x2="171.3" y2="470.92" stroke="#c5aba9"/>
<line x1="135.1" y1="482.4" x2="171.3" y2="482.4" stroke="#c5aba9"/>
<line x1="135.1" y1="493.88" x2="171.3" y2="493.88" stroke="#c5aba9"/>
<line x1="135.1" y1="505.36" x2="171.3" y2="505.36" stroke="#c5aba9"/>
<line x1="135.1" y1="516.84" x2="171.3" y2="516.84" stroke="#c5aba9"/>
<line x1="135.1" y1="528.32" x2="171.3" y2="528.32" stroke="#c5aba9"/>
<line x1="135.1" y1="539.8" x2="171.3" y2="539.8" stroke="#c5aba9"/>
<line x1="135.1" y1="551.28" x2="171.3" y2="551.28" stroke="#c5aba9"/>
<line x1="135.1" y1="562.76" x2="171.3" y2="562.76" stroke="#c5aba9"/>
<line x1="135.1" y1="574.24" x2="171.3" y2="574.24" stroke="#c5aba9"/>
<line x1="135.1" y1="585.72" x2="171.3" y2="585.72" stroke="#ab9594"/>
<line x1="171.3" y1="447.96" x2="207.3" y2="447.96" stroke="#659292"/>
<line x1="171.3" y1="459.44" x2="207.3" y2="459.44" stroke="#7aafaf"/>
<line x1="171.3" y1="470.92" x2="207.3" y2="470.92" stroke="#7aafaf"/>
<line x1="171.3" y1="482.4" x2="207.3" y2="482.4" stroke="#7aafaf"/>
<line x1="171.3" y1="493.88" x2="207.3" y2="493.88" stroke="#7aafaf"/>
<line x1="171.3" y1="505.36" x2="207.3" y2="505.36" stroke="#7aafaf"/>
<line x1="171.3" y1="516.84" x2="207.3" y2="516.84" stroke="#7aafaf"/>
<line x1="171.3" y1="528.32" x2="207.3" y2="528.32" stroke="#7aafaf"/>
<line x1="171.3" y1="539.8" x2="207.3" y2="539.8" stroke="#7aafaf"/>
<line x1="171.3" y1="551.28" x2="207.3" y2="551.28" stroke="#7aafaf"/>
<line x1="171.3" y1="562.76" x2="207.3" y2="562.76" stroke="#7aafaf"/>
<line x1="171.3" y1="574.24" x2="207.3" y2="574.24" stroke="#7aafaf"/>
<line x1="171.3" y1="585.72" x2="207.3" y2="585.72" stroke="#659292"/>
<line x1="63.3" y1="447.96" x2="63.3" y2="585.72" stroke="#347b79"/>
<line x1="99.9" y1="447.96" x2="99.9" y2="585.72" stroke="#758d66"/>
<line x1="135.1" y1="447.96" x2="135.1" y2="585.72" stroke="#b39971"/>
<line x1="171.3" y1="447.96" x2="171.3" y2="585.72" stroke="#909c9b"/>
<line x1="207.3" y1="447.96" x2="207.3" y2="585.72" stroke="#628d8d"/>
</g>
<g class="ct">
<text x="81.6" y="456.3" fill="#1f7f7d" stroke="#1f7f7d">C3</text>
<text x="81.6" y="467.78" fill="#1f7f7d" stroke="#1f7f7d">C3</text>
<text x="81.6" y="479.26" fill="#1f7f7d" stroke="#1f7f7d">C3</text>
<text x="81.6" y="490.74" fill="#1f7f7d" stroke="#1f7f7d">C3</text>
<text x="81.6" y="502.22" fill="#1f7f7d" stroke="#1f7f7d">C3</text>
<text x="81.6" y="513.7" fill="#1f7f7d" stroke="#1f7f7d">C3</text>
<text x="81.6" y="525.18" fill="#1f7f7d" stroke="#1f7f7d">C3</text>
<text x="81.6" y="536.66" fill="#1f7f7d" stroke="#1f7f7d">C3</text>
<text x="81.6" y="548.14" fill="#1f7f7d" stroke="#1f7f7d">C3</text>
<text x="81.6" y="559.62" fill="#1f7f7d" stroke="#1f7f7d">C3</text>
<text x="81.6" y="571.1" fill="#1f7f7d" stroke="#1f7f7d">C3</text>
<text x="81.6" y="582.58" fill="#1f7f7d" stroke="#1f7f7d">C3 (p)</text>
<text x="117.5" y="456.3" fill="#8e6f27" stroke="#8e6f27">D2</text>
<text x="117.5" y="467.78" fill="#8e6f27" stroke="#8e6f27">D2</text>
<text x="117.5" y="479.26" fill="#8e6f27" stroke="#8e6f27">D2</text>
<text x="117.5" y="490.74" fill="#8e6f27" stroke="#8e6f27">D2</text>
<text x="117.5" y="502.22" fill="#8e6f27" stroke="#8e6f27">D2</text>
<text x="117.5" y="513.7" fill="#8e6f27" stroke="#8e6f27">D2</text>
<text x="117.5" y="525.18" fill="#8e6f27" stroke="#8e6f27">D2</text>
<text x="117.5" y="536.66" fill="#8e6f27" stroke="#8e6f27">D2</text>
<text x="117.5" y="548.14" fill="#8e6f27" stroke="#8e6f27">D2</text>
<text x="117.5" y="559.62" fill="#8e6f27" stroke="#8e6f27">D2</text>
<text x="117.5" y="571.1" fill="#8e6f27" stroke="#8e6f27">D2</text>
<text x="117.5" y="582.58" fill="#8e6f27" stroke="#8e6f27">D2 (p)</text>
<text x="153.2" y="456.3" fill="#8a7473" stroke="#8a7473">D3</text>
<text x="153.2" y="467.78" fill="#8a7473" stroke="#8a7473">D3</text>
<text x="153.2" y="479.26" fill="#8a7473" stroke="#8a7473">D3</text>
<text x="153.2" y="490.74" fill="#8a7473" stroke="#8a7473">D3</text>
<text x="153.2" y="502.22" fill="#8a7473" stroke="#8a7473">D3</text>
<text x="153.2" y="513.7" fill="#8a7473" stroke="#8a7473">D3</text>
<text x="153.2" y="525.18" fill="#8a7473" stroke="#8a7473">D3</text>
<text x="153.2" y="536.66" fill="#8a7473" stroke="#8a7473">D3</text>
<text x="153.2" y="548.14" fill="#8a7473" stroke="#8a7473">D3</text>
<text x="153.2" y="559.62" fill="#8a7473" stroke="#8a7473">D3</text>
<text x="153.2" y="571.1" fill="#8a7473" stroke="#8a7473">D3</text>
<text x="153.2" y="582.58" fill="#8a7473" stroke="#8a7473">D3 (p)</text>
<text x="189.3" y="456.3" fill="#2f8a89" stroke="#2f8a89">C2</text>
<text x="189.3" y="467.78" fill="#2f8a89" stroke="#2f8a89">C2</text>
<text x="189.3" y="479.26" fill="#2f8a89" stroke="#2f8a89">C2</text>
<text x="189.3" y="490.74" fill="#2f8a89" stroke="#2f8a89">C2</text>
<text x="189.3" y="502.22" fill="#2f8a89" stroke="#2f8a89">C2</text>
<text x="189.3" y="513.7" fill="#2f8a89" stroke="#2f8a89">C2</text>
<text x="189.3" y="525.18" fill="#2f8a89" stroke="#2f8a89">C2</text>
<text x="189.3" y="536.66" fill="#2f8a89" stroke="#2f8a89">C2</text>
<text x="189.3" y="548.14" fill="#2f8a89" stroke="#2f8a89">C2</text>
<text x="189.3" y="559.62" fill="#2f8a89" stroke="#2f8a89">C2</text>
<text x="189.3" y="571.1" fill="#2f8a89" stroke="#2f8a89">C2</text>
<text x="189.3" y="582.58" fill="#2f8a89" stroke="#2f8a89">C2 (p)</text>
</g>
<rect class="box" x="63.3" y="585.72" width="144" height="11.58"/>
<text class="cp" x="135.3" y="594.11">CARPARK</text>
<text class="ttl" x="310.75" y="412.3">BLOCK 20</text>
<text class="sub" x="310.25" y="420.4">Jalan Loyang Besar S(508835)</text>
<text class="num" x="255.9" y="433.2">37</text>
<text class="num" x="292" y="433.2">38</text>
<text class="num" x="328.15" y="433.2">39</text>
<text class="num" x="364.5" y="433.2">40</text>
<rect x="237.8" y="447.96" width="36.2" height="137.76" fill="#f6cd62"/>
<rect x="274" y="447.96" width="36" height="137.76" fill="#ee916b"/>
<rect x="310" y="447.96" width="36.3" height="137.76" fill="#4fbab8"/>
<rect x="346.3" y="447.96" width="36.4" height="137.76" fill="#f9baa4"/>
<g class="gl">
<line x1="237.8" y1="447.96" x2="274" y2="447.96" stroke="#a78b43"/>
<line x1="237.8" y1="459.44" x2="274" y2="459.44" stroke="#c0a04c"/>
<line x1="237.8" y1="470.92" x2="274" y2="470.92" stroke="#c0a04c"/>
<line x1="237.8" y1="482.4" x2="274" y2="482.4" stroke="#c0a04c"/>
<line x1="237.8" y1="493.88" x2="274" y2="493.88" stroke="#c0a04c"/>
<line x1="237.8" y1="505.36" x2="274" y2="505.36" stroke="#c0a04c"/>
<line x1="237.8" y1="516.84" x2="274" y2="516.84" stroke="#c0a04c"/>
<line x1="237.8" y1="528.32" x2="274" y2="528.32" stroke="#c0a04c"/>
<line x1="237.8" y1="539.8" x2="274" y2="539.8" stroke="#c0a04c"/>
<line x1="237.8" y1="551.28" x2="274" y2="551.28" stroke="#c0a04c"/>
<line x1="237.8" y1="562.76" x2="274" y2="562.76" stroke="#c0a04c"/>
<line x1="237.8" y1="574.24" x2="274" y2="574.24" stroke="#c0a04c"/>
<line x1="237.8" y1="585.72" x2="274" y2="585.72" stroke="#a78b43"/>
<line x1="274" y1="447.96" x2="310" y2="447.96" stroke="#a26349"/>
<line x1="274" y1="459.44" x2="310" y2="459.44" stroke="#ca7b5b"/>
<line x1="274" y1="470.92" x2="310" y2="470.92" stroke="#ca7b5b"/>
<line x1="274" y1="482.4" x2="310" y2="482.4" stroke="#ca7b5b"/>
<line x1="274" y1="493.88" x2="310" y2="493.88" stroke="#ca7b5b"/>
<line x1="274" y1="505.36" x2="310" y2="505.36" stroke="#ca7b5b"/>
<line x1="274" y1="516.84" x2="310" y2="516.84" stroke="#ca7b5b"/>
<line x1="274" y1="528.32" x2="310" y2="528.32" stroke="#ca7b5b"/>
<line x1="274" y1="539.8" x2="310" y2="539.8" stroke="#ca7b5b"/>
<line x1="274" y1="551.28" x2="310" y2="551.28" stroke="#ca7b5b"/>
<line x1="274" y1="562.76" x2="310" y2="562.76" stroke="#ca7b5b"/>
<line x1="274" y1="574.24" x2="310" y2="574.24" stroke="#ca7b5b"/>
<line x1="274" y1="585.72" x2="310" y2="585.72" stroke="#a26349"/>
<line x1="310" y1="447.96" x2="346.3" y2="447.96" stroke="#367e7d"/>
<line x1="310" y1="459.44" x2="346.3" y2="459.44" stroke="#46a4a2"/>
<line x1="310" y1="470.92" x2="346.3" y2="470.92" stroke="#46a4a2"/>
<line x1="310" y1="482.4" x2="346.3" y2="482.4" stroke="#46a4a2"/>
<line x1="310" y1="493.88" x2="346.3" y2="493.88" stroke="#46a4a2"/>
<line x1="310" y1="505.36" x2="346.3" y2="505.36" stroke="#46a4a2"/>
<line x1="310" y1="516.84" x2="346.3" y2="516.84" stroke="#46a4a2"/>
<line x1="310" y1="528.32" x2="346.3" y2="528.32" stroke="#46a4a2"/>
<line x1="310" y1="539.8" x2="346.3" y2="539.8" stroke="#46a4a2"/>
<line x1="310" y1="551.28" x2="346.3" y2="551.28" stroke="#46a4a2"/>
<line x1="310" y1="562.76" x2="346.3" y2="562.76" stroke="#46a4a2"/>
<line x1="310" y1="574.24" x2="346.3" y2="574.24" stroke="#46a4a2"/>
<line x1="310" y1="585.72" x2="346.3" y2="585.72" stroke="#367e7d"/>
<line x1="346.3" y1="447.96" x2="382.7" y2="447.96" stroke="#a97e70"/>
<line x1="346.3" y1="459.44" x2="382.7" y2="459.44" stroke="#c29180"/>
<line x1="346.3" y1="470.92" x2="382.7" y2="470.92" stroke="#c29180"/>
<line x1="346.3" y1="482.4" x2="382.7" y2="482.4" stroke="#c29180"/>
<line x1="346.3" y1="493.88" x2="382.7" y2="493.88" stroke="#c29180"/>
<line x1="346.3" y1="505.36" x2="382.7" y2="505.36" stroke="#c29180"/>
<line x1="346.3" y1="516.84" x2="382.7" y2="516.84" stroke="#c29180"/>
<line x1="346.3" y1="528.32" x2="382.7" y2="528.32" stroke="#c29180"/>
<line x1="346.3" y1="539.8" x2="382.7" y2="539.8" stroke="#c29180"/>
<line x1="346.3" y1="551.28" x2="382.7" y2="551.28" stroke="#c29180"/>
<line x1="346.3" y1="562.76" x2="382.7" y2="562.76" stroke="#c29180"/>
<line x1="346.3" y1="574.24" x2="382.7" y2="574.24" stroke="#c29180"/>
<line x1="346.3" y1="585.72" x2="382.7" y2="585.72" stroke="#a97e70"/>
<line x1="237.8" y1="447.96" x2="237.8" y2="585.72" stroke="#a28741"/>
<line x1="274" y1="447.96" x2="274" y2="585.72" stroke="#ae7e4a"/>
<line x1="310" y1="447.96" x2="310" y2="585.72" stroke="#727769"/>
<line x1="346.3" y1="447.96" x2="346.3" y2="585.72" stroke="#76867d"/>
<line x1="382.7" y1="447.96" x2="382.7" y2="585.72" stroke="#a47b6c"/>
</g>
<g class="ct">
<text x="255.9" y="456.3" fill="#8e6f27" stroke="#8e6f27">D2</text>
<text x="255.9" y="467.78" fill="#8e6f27" stroke="#8e6f27">D2</text>
<text x="255.9" y="479.26" fill="#8e6f27" stroke="#8e6f27">D2</text>
<text x="255.9" y="490.74" fill="#8e6f27" stroke="#8e6f27">D2</text>
<text x="255.9" y="502.22" fill="#8e6f27" stroke="#8e6f27">D2</text>
<text x="255.9" y="513.7" fill="#8e6f27" stroke="#8e6f27">D2</text>
<text x="255.9" y="525.18" fill="#8e6f27" stroke="#8e6f27">D2</text>
<text x="255.9" y="536.66" fill="#8e6f27" stroke="#8e6f27">D2</text>
<text x="255.9" y="548.14" fill="#8e6f27" stroke="#8e6f27">D2</text>
<text x="255.9" y="559.62" fill="#8e6f27" stroke="#8e6f27">D2</text>
<text x="255.9" y="571.1" fill="#8e6f27" stroke="#8e6f27">D2</text>
<text x="255.9" y="582.58" fill="#8e6f27" stroke="#8e6f27">D2 (p)</text>
<text x="292" y="456.3" fill="#a3513a" stroke="#a3513a">D5</text>
<text x="292" y="467.78" fill="#a3513a" stroke="#a3513a">D5</text>
<text x="292" y="479.26" fill="#a3513a" stroke="#a3513a">D5</text>
<text x="292" y="490.74" fill="#a3513a" stroke="#a3513a">D5</text>
<text x="292" y="502.22" fill="#a3513a" stroke="#a3513a">D5</text>
<text x="292" y="513.7" fill="#a3513a" stroke="#a3513a">D5</text>
<text x="292" y="525.18" fill="#a3513a" stroke="#a3513a">D5</text>
<text x="292" y="536.66" fill="#a3513a" stroke="#a3513a">D5</text>
<text x="292" y="548.14" fill="#a3513a" stroke="#a3513a">D5</text>
<text x="292" y="559.62" fill="#a3513a" stroke="#a3513a">D5</text>
<text x="292" y="571.1" fill="#a3513a" stroke="#a3513a">D5</text>
<text x="292" y="582.58" fill="#a3513a" stroke="#a3513a">D5 (p)</text>
<text x="328.15" y="456.3" fill="#1f7f7d" stroke="#1f7f7d">C3</text>
<text x="328.15" y="467.78" fill="#1f7f7d" stroke="#1f7f7d">C3</text>
<text x="328.15" y="479.26" fill="#1f7f7d" stroke="#1f7f7d">C3</text>
<text x="328.15" y="490.74" fill="#1f7f7d" stroke="#1f7f7d">C3</text>
<text x="328.15" y="502.22" fill="#1f7f7d" stroke="#1f7f7d">C3</text>
<text x="328.15" y="513.7" fill="#1f7f7d" stroke="#1f7f7d">C3</text>
<text x="328.15" y="525.18" fill="#1f7f7d" stroke="#1f7f7d">C3</text>
<text x="328.15" y="536.66" fill="#1f7f7d" stroke="#1f7f7d">C3</text>
<text x="328.15" y="548.14" fill="#1f7f7d" stroke="#1f7f7d">C3</text>
<text x="328.15" y="559.62" fill="#1f7f7d" stroke="#1f7f7d">C3</text>
<text x="328.15" y="571.1" fill="#1f7f7d" stroke="#1f7f7d">C3</text>
<text x="328.15" y="582.58" fill="#1f7f7d" stroke="#1f7f7d">C3 (p)</text>
<text x="364.5" y="456.3" fill="#a2604c" stroke="#a2604c">D4</text>
<text x="364.5" y="467.78" fill="#a2604c" stroke="#a2604c">D4</text>
<text x="364.5" y="479.26" fill="#a2604c" stroke="#a2604c">D4</text>
<text x="364.5" y="490.74" fill="#a2604c" stroke="#a2604c">D4</text>
<text x="364.5" y="502.22" fill="#a2604c" stroke="#a2604c">D4</text>
<text x="364.5" y="513.7" fill="#a2604c" stroke="#a2604c">D4</text>
<text x="364.5" y="525.18" fill="#a2604c" stroke="#a2604c">D4</text>
<text x="364.5" y="536.66" fill="#a2604c" stroke="#a2604c">D4</text>
<text x="364.5" y="548.14" fill="#a2604c" stroke="#a2604c">D4</text>
<text x="364.5" y="559.62" fill="#a2604c" stroke="#a2604c">D4</text>
<text x="364.5" y="571.1" fill="#a2604c" stroke="#a2604c">D4</text>
<text x="364.5" y="582.58" fill="#a2604c" stroke="#a2604c">D4 (p)</text>
</g>
<rect class="box" x="237.8" y="585.72" width="144.9" height="11.58"/>
<text class="cp" x="310.25" y="594.11">CARPARK</text>
<text class="ttl" x="564.75" y="412.3">BLOCK 22</text>
<text class="sub" x="564.25" y="420.4">Jalan Loyang Besar S(508836)</text>
<text class="num" x="510.1" y="433.2">41</text>
<text class="num" x="546" y="433.2">42</text>
<text class="num" x="581.8" y="433.2">43</text>
<text class="num" x="617.95" y="433.2">44</text>
<rect x="492.2" y="447.96" width="35.8" height="137.76" fill="#ee916b"/>
<rect x="528" y="447.96" width="36" height="137.76" fill="#f6cd62"/>
<rect x="564" y="447.96" width="35.6" height="137.76" fill="#f9baa4"/>
<rect x="599.6" y="447.96" width="36.7" height="137.76" fill="#95d6d6"/>
<g class="gl">
<line x1="492.2" y1="447.96" x2="528" y2="447.96" stroke="#a26349"/>
<line x1="492.2" y1="459.44" x2="528" y2="459.44" stroke="#ca7b5b"/>
<line x1="492.2" y1="470.92" x2="528" y2="470.92" stroke="#ca7b5b"/>
<line x1="492.2" y1="482.4" x2="528" y2="482.4" stroke="#ca7b5b"/>
<line x1="492.2" y1="493.88" x2="528" y2="493.88" stroke="#ca7b5b"/>
<line x1="492.2" y1="505.36" x2="528" y2="505.36" stroke="#ca7b5b"/>
<line x1="492.2" y1="516.84" x2="528" y2="516.84" stroke="#ca7b5b"/>
<line x1="492.2" y1="528.32" x2="528" y2="528.32" stroke="#ca7b5b"/>
<line x1="492.2" y1="539.8" x2="528" y2="539.8" stroke="#ca7b5b"/>
<line x1="492.2" y1="551.28" x2="528" y2="551.28" stroke="#ca7b5b"/>
<line x1="492.2" y1="562.76" x2="528" y2="562.76" stroke="#ca7b5b"/>
<line x1="492.2" y1="574.24" x2="528" y2="574.24" stroke="#ca7b5b"/>
<line x1="492.2" y1="585.72" x2="528" y2="585.72" stroke="#a26349"/>
<line x1="528" y1="447.96" x2="564" y2="447.96" stroke="#a78b43"/>
<line x1="528" y1="459.44" x2="564" y2="459.44" stroke="#c0a04c"/>
<line x1="528" y1="470.92" x2="564" y2="470.92" stroke="#c0a04c"/>
<line x1="528" y1="482.4" x2="564" y2="482.4" stroke="#c0a04c"/>
<line x1="528" y1="493.88" x2="564" y2="493.88" stroke="#c0a04c"/>
<line x1="528" y1="505.36" x2="564" y2="505.36" stroke="#c0a04c"/>
<line x1="528" y1="516.84" x2="564" y2="516.84" stroke="#c0a04c"/>
<line x1="528" y1="528.32" x2="564" y2="528.32" stroke="#c0a04c"/>
<line x1="528" y1="539.8" x2="564" y2="539.8" stroke="#c0a04c"/>
<line x1="528" y1="551.28" x2="564" y2="551.28" stroke="#c0a04c"/>
<line x1="528" y1="562.76" x2="564" y2="562.76" stroke="#c0a04c"/>
<line x1="528" y1="574.24" x2="564" y2="574.24" stroke="#c0a04c"/>
<line x1="528" y1="585.72" x2="564" y2="585.72" stroke="#a78b43"/>
<line x1="564" y1="447.96" x2="599.6" y2="447.96" stroke="#a97e70"/>
<line x1="564" y1="459.44" x2="599.6" y2="459.44" stroke="#c29180"/>
<line x1="564" y1="470.92" x2="599.6" y2="470.92" stroke="#c29180"/>
<line x1="564" y1="482.4" x2="599.6" y2="482.4" stroke="#c29180"/>
<line x1="564" y1="493.88" x2="599.6" y2="493.88" stroke="#c29180"/>
<line x1="564" y1="505.36" x2="599.6" y2="505.36" stroke="#c29180"/>
<line x1="564" y1="516.84" x2="599.6" y2="516.84" stroke="#c29180"/>
<line x1="564" y1="528.32" x2="599.6" y2="528.32" stroke="#c29180"/>
<line x1="564" y1="539.8" x2="599.6" y2="539.8" stroke="#c29180"/>
<line x1="564" y1="551.28" x2="599.6" y2="551.28" stroke="#c29180"/>
<line x1="564" y1="562.76" x2="599.6" y2="562.76" stroke="#c29180"/>
<line x1="564" y1="574.24" x2="599.6" y2="574.24" stroke="#c29180"/>
<line x1="564" y1="585.72" x2="599.6" y2="585.72" stroke="#a97e70"/>
<line x1="599.6" y1="447.96" x2="636.3" y2="447.96" stroke="#659292"/>
<line x1="599.6" y1="459.44" x2="636.3" y2="459.44" stroke="#7aafaf"/>
<line x1="599.6" y1="470.92" x2="636.3" y2="470.92" stroke="#7aafaf"/>
<line x1="599.6" y1="482.4" x2="636.3" y2="482.4" stroke="#7aafaf"/>
<line x1="599.6" y1="493.88" x2="636.3" y2="493.88" stroke="#7aafaf"/>
<line x1="599.6" y1="505.36" x2="636.3" y2="505.36" stroke="#7aafaf"/>
<line x1="599.6" y1="516.84" x2="636.3" y2="516.84" stroke="#7aafaf"/>
<line x1="599.6" y1="528.32" x2="636.3" y2="528.32" stroke="#7aafaf"/>
<line x1="599.6" y1="539.8" x2="636.3" y2="539.8" stroke="#7aafaf"/>
<line x1="599.6" y1="551.28" x2="636.3" y2="551.28" stroke="#7aafaf"/>
<line x1="599.6" y1="562.76" x2="636.3" y2="562.76" stroke="#7aafaf"/>
<line x1="599.6" y1="574.24" x2="636.3" y2="574.24" stroke="#7aafaf"/>
<line x1="599.6" y1="585.72" x2="636.3" y2="585.72" stroke="#659292"/>
<line x1="492.2" y1="447.96" x2="492.2" y2="585.72" stroke="#9d6047"/>
<line x1="528" y1="447.96" x2="528" y2="585.72" stroke="#ae7e4a"/>
<line x1="564" y1="447.96" x2="564" y2="585.72" stroke="#b28d5e"/>
<line x1="599.6" y1="447.96" x2="599.6" y2="585.72" stroke="#8f9088"/>
<line x1="636.3" y1="447.96" x2="636.3" y2="585.72" stroke="#628d8d"/>
</g>
<g class="ct">
<text x="510.1" y="456.3" fill="#a3513a" stroke="#a3513a">D5</text>
<text x="510.1" y="467.78" fill="#a3513a" stroke="#a3513a">D5</text>
<text x="510.1" y="479.26" fill="#a3513a" stroke="#a3513a">D5</text>
<text x="510.1" y="490.74" fill="#a3513a" stroke="#a3513a">D5</text>
<text x="510.1" y="502.22" fill="#a3513a" stroke="#a3513a">D5</text>
<text x="510.1" y="513.7" fill="#a3513a" stroke="#a3513a">D5</text>
<text x="510.1" y="525.18" fill="#a3513a" stroke="#a3513a">D5</text>
<text x="510.1" y="536.66" fill="#a3513a" stroke="#a3513a">D5</text>
<text x="510.1" y="548.14" fill="#a3513a" stroke="#a3513a">D5</text>
<text x="510.1" y="559.62" fill="#a3513a" stroke="#a3513a">D5</text>
<text x="510.1" y="571.1" fill="#a3513a" stroke="#a3513a">D5</text>
<text x="510.1" y="582.58" fill="#a3513a" stroke="#a3513a">D5 (p)</text>
<text x="546" y="456.3" fill="#8e6f27" stroke="#8e6f27">D2</text>
<text x="546" y="467.78" fill="#8e6f27" stroke="#8e6f27">D2</text>
<text x="546" y="479.26" fill="#8e6f27" stroke="#8e6f27">D2</text>
<text x="546" y="490.74" fill="#8e6f27" stroke="#8e6f27">D2</text>
<text x="546" y="502.22" fill="#8e6f27" stroke="#8e6f27">D2</text>
<text x="546" y="513.7" fill="#8e6f27" stroke="#8e6f27">D2</text>
<text x="546" y="525.18" fill="#8e6f27" stroke="#8e6f27">D2</text>
<text x="546" y="536.66" fill="#8e6f27" stroke="#8e6f27">D2</text>
<text x="546" y="548.14" fill="#8e6f27" stroke="#8e6f27">D2</text>
<text x="546" y="559.62" fill="#8e6f27" stroke="#8e6f27">D2</text>
<text x="546" y="571.1" fill="#8e6f27" stroke="#8e6f27">D2</text>
<text x="546" y="582.58" fill="#8e6f27" stroke="#8e6f27">D2 (p)</text>
<text x="581.8" y="456.3" fill="#a2604c" stroke="#a2604c">D4</text>
<text x="581.8" y="467.78" fill="#a2604c" stroke="#a2604c">D4</text>
<text x="581.8" y="479.26" fill="#a2604c" stroke="#a2604c">D4</text>
<text x="581.8" y="490.74" fill="#a2604c" stroke="#a2604c">D4</text>
<text x="581.8" y="502.22" fill="#a2604c" stroke="#a2604c">D4</text>
<text x="581.8" y="513.7" fill="#a2604c" stroke="#a2604c">D4</text>
<text x="581.8" y="525.18" fill="#a2604c" stroke="#a2604c">D4</text>
<text x="581.8" y="536.66" fill="#a2604c" stroke="#a2604c">D4</text>
<text x="581.8" y="548.14" fill="#a2604c" stroke="#a2604c">D4</text>
<text x="581.8" y="559.62" fill="#a2604c" stroke="#a2604c">D4</text>
<text x="581.8" y="571.1" fill="#a2604c" stroke="#a2604c">D4</text>
<text x="581.8" y="582.58" fill="#a2604c" stroke="#a2604c">D4 (p)</text>
<text x="617.95" y="456.3" fill="#2f8a89" stroke="#2f8a89">C2</text>
<text x="617.95" y="467.78" fill="#2f8a89" stroke="#2f8a89">C2</text>
<text x="617.95" y="479.26" fill="#2f8a89" stroke="#2f8a89">C2</text>
<text x="617.95" y="490.74" fill="#2f8a89" stroke="#2f8a89">C2</text>
<text x="617.95" y="502.22" fill="#2f8a89" stroke="#2f8a89">C2</text>
<text x="617.95" y="513.7" fill="#2f8a89" stroke="#2f8a89">C2</text>
<text x="617.95" y="525.18" fill="#2f8a89" stroke="#2f8a89">C2</text>
<text x="617.95" y="536.66" fill="#2f8a89" stroke="#2f8a89">C2</text>
<text x="617.95" y="548.14" fill="#2f8a89" stroke="#2f8a89">C2</text>
<text x="617.95" y="559.62" fill="#2f8a89" stroke="#2f8a89">C2</text>
<text x="617.95" y="571.1" fill="#2f8a89" stroke="#2f8a89">C2</text>
<text x="617.95" y="582.58" fill="#2f8a89" stroke="#2f8a89">C2 (p)</text>
</g>
<rect class="box" x="492.2" y="585.72" width="144.1" height="11.58"/>
<text class="cp" x="564.25" y="594.11">CARPARK</text>
<text class="ttl" x="739" y="412.3">BLOCK 24</text>
<text class="sub" x="738.5" y="420.4">Jalan Loyang Besar S(508837)</text>
<text class="num" x="684.75" y="433.2">45</text>
<text class="num" x="720.8" y="433.2">46</text>
<text class="num" x="756.75" y="433.2">47</text>
<text class="num" x="792.7" y="433.2">48</text>
<rect x="666.5" y="447.96" width="36.5" height="137.76" fill="#f6cd62"/>
<rect x="703" y="447.96" width="35.6" height="137.76" fill="#95d6d6"/>
<rect x="738.6" y="447.96" width="36.3" height="137.76" fill="#4fbab8"/>
<rect x="774.9" y="447.96" width="35.6" height="137.76" fill="#fcdbd9"/>
<g class="gl">
<line x1="666.5" y1="447.96" x2="703" y2="447.96" stroke="#a78b43"/>
<line x1="666.5" y1="459.44" x2="703" y2="459.44" stroke="#c0a04c"/>
<line x1="666.5" y1="470.92" x2="703" y2="470.92" stroke="#c0a04c"/>
<line x1="666.5" y1="482.4" x2="703" y2="482.4" stroke="#c0a04c"/>
<line x1="666.5" y1="493.88" x2="703" y2="493.88" stroke="#c0a04c"/>
<line x1="666.5" y1="505.36" x2="703" y2="505.36" stroke="#c0a04c"/>
<line x1="666.5" y1="516.84" x2="703" y2="516.84" stroke="#c0a04c"/>
<line x1="666.5" y1="528.32" x2="703" y2="528.32" stroke="#c0a04c"/>
<line x1="666.5" y1="539.8" x2="703" y2="539.8" stroke="#c0a04c"/>
<line x1="666.5" y1="551.28" x2="703" y2="551.28" stroke="#c0a04c"/>
<line x1="666.5" y1="562.76" x2="703" y2="562.76" stroke="#c0a04c"/>
<line x1="666.5" y1="574.24" x2="703" y2="574.24" stroke="#c0a04c"/>
<line x1="666.5" y1="585.72" x2="703" y2="585.72" stroke="#a78b43"/>
<line x1="703" y1="447.96" x2="738.6" y2="447.96" stroke="#659292"/>
<line x1="703" y1="459.44" x2="738.6" y2="459.44" stroke="#7aafaf"/>
<line x1="703" y1="470.92" x2="738.6" y2="470.92" stroke="#7aafaf"/>
<line x1="703" y1="482.4" x2="738.6" y2="482.4" stroke="#7aafaf"/>
<line x1="703" y1="493.88" x2="738.6" y2="493.88" stroke="#7aafaf"/>
<line x1="703" y1="505.36" x2="738.6" y2="505.36" stroke="#7aafaf"/>
<line x1="703" y1="516.84" x2="738.6" y2="516.84" stroke="#7aafaf"/>
<line x1="703" y1="528.32" x2="738.6" y2="528.32" stroke="#7aafaf"/>
<line x1="703" y1="539.8" x2="738.6" y2="539.8" stroke="#7aafaf"/>
<line x1="703" y1="551.28" x2="738.6" y2="551.28" stroke="#7aafaf"/>
<line x1="703" y1="562.76" x2="738.6" y2="562.76" stroke="#7aafaf"/>
<line x1="703" y1="574.24" x2="738.6" y2="574.24" stroke="#7aafaf"/>
<line x1="703" y1="585.72" x2="738.6" y2="585.72" stroke="#659292"/>
<line x1="738.6" y1="447.96" x2="774.9" y2="447.96" stroke="#367e7d"/>
<line x1="738.6" y1="459.44" x2="774.9" y2="459.44" stroke="#46a4a2"/>
<line x1="738.6" y1="470.92" x2="774.9" y2="470.92" stroke="#46a4a2"/>
<line x1="738.6" y1="482.4" x2="774.9" y2="482.4" stroke="#46a4a2"/>
<line x1="738.6" y1="493.88" x2="774.9" y2="493.88" stroke="#46a4a2"/>
<line x1="738.6" y1="505.36" x2="774.9" y2="505.36" stroke="#46a4a2"/>
<line x1="738.6" y1="516.84" x2="774.9" y2="516.84" stroke="#46a4a2"/>
<line x1="738.6" y1="528.32" x2="774.9" y2="528.32" stroke="#46a4a2"/>
<line x1="738.6" y1="539.8" x2="774.9" y2="539.8" stroke="#46a4a2"/>
<line x1="738.6" y1="551.28" x2="774.9" y2="551.28" stroke="#46a4a2"/>
<line x1="738.6" y1="562.76" x2="774.9" y2="562.76" stroke="#46a4a2"/>
<line x1="738.6" y1="574.24" x2="774.9" y2="574.24" stroke="#46a4a2"/>
<line x1="738.6" y1="585.72" x2="774.9" y2="585.72" stroke="#367e7d"/>
<line x1="774.9" y1="447.96" x2="810.5" y2="447.96" stroke="#ab9594"/>
<line x1="774.9" y1="459.44" x2="810.5" y2="459.44" stroke="#c5aba9"/>
<line x1="774.9" y1="470.92" x2="810.5" y2="470.92" stroke="#c5aba9"/>
<line x1="774.9" y1="482.4" x2="810.5" y2="482.4" stroke="#c5aba9"/>
<line x1="774.9" y1="493.88" x2="810.5" y2="493.88" stroke="#c5aba9"/>
<line x1="774.9" y1="505.36" x2="810.5" y2="505.36" stroke="#c5aba9"/>
<line x1="774.9" y1="516.84" x2="810.5" y2="516.84" stroke="#c5aba9"/>
<line x1="774.9" y1="528.32" x2="810.5" y2="528.32" stroke="#c5aba9"/>
<line x1="774.9" y1="539.8" x2="810.5" y2="539.8" stroke="#c5aba9"/>
<line x1="774.9" y1="551.28" x2="810.5" y2="551.28" stroke="#c5aba9"/>
<line x1="774.9" y1="562.76" x2="810.5" y2="562.76" stroke="#c5aba9"/>
<line x1="774.9" y1="574.24" x2="810.5" y2="574.24" stroke="#c5aba9"/>
<line x1="774.9" y1="585.72" x2="810.5" y2="585.72" stroke="#ab9594"/>
<line x1="666.5" y1="447.96" x2="666.5" y2="585.72" stroke="#a28741"/>
<line x1="703" y1="447.96" x2="703" y2="585.72" stroke="#8e9770"/>
<line x1="738.6" y1="447.96" x2="738.6" y2="585.72" stroke="#52908f"/>
<line x1="774.9" y1="447.96" x2="774.9" y2="585.72" stroke="#779290"/>
<line x1="810.5" y1="447.96" x2="810.5" y2="585.72" stroke="#a6918f"/>
</g>
<g class="ct">
<text x="684.75" y="456.3" fill="#8e6f27" stroke="#8e6f27">D2</text>
<text x="684.75" y="467.78" fill="#8e6f27" stroke="#8e6f27">D2</text>
<text x="684.75" y="479.26" fill="#8e6f27" stroke="#8e6f27">D2</text>
<text x="684.75" y="490.74" fill="#8e6f27" stroke="#8e6f27">D2</text>
<text x="684.75" y="502.22" fill="#8e6f27" stroke="#8e6f27">D2</text>
<text x="684.75" y="513.7" fill="#8e6f27" stroke="#8e6f27">D2</text>
<text x="684.75" y="525.18" fill="#8e6f27" stroke="#8e6f27">D2</text>
<text x="684.75" y="536.66" fill="#8e6f27" stroke="#8e6f27">D2</text>
<text x="684.75" y="548.14" fill="#8e6f27" stroke="#8e6f27">D2</text>
<text x="684.75" y="559.62" fill="#8e6f27" stroke="#8e6f27">D2</text>
<text x="684.75" y="571.1" fill="#8e6f27" stroke="#8e6f27">D2</text>
<text x="684.75" y="582.58" fill="#8e6f27" stroke="#8e6f27">D2 (p)</text>
<text x="720.8" y="456.3" fill="#2f8a89" stroke="#2f8a89">C2</text>
<text x="720.8" y="467.78" fill="#2f8a89" stroke="#2f8a89">C2</text>
<text x="720.8" y="479.26" fill="#2f8a89" stroke="#2f8a89">C2</text>
<text x="720.8" y="490.74" fill="#2f8a89" stroke="#2f8a89">C2</text>
<text x="720.8" y="502.22" fill="#2f8a89" stroke="#2f8a89">C2</text>
<text x="720.8" y="513.7" fill="#2f8a89" stroke="#2f8a89">C2</text>
<text x="720.8" y="525.18" fill="#2f8a89" stroke="#2f8a89">C2</text>
<text x="720.8" y="536.66" fill="#2f8a89" stroke="#2f8a89">C2</text>
<text x="720.8" y="548.14" fill="#2f8a89" stroke="#2f8a89">C2</text>
<text x="720.8" y="559.62" fill="#2f8a89" stroke="#2f8a89">C2</text>
<text x="720.8" y="571.1" fill="#2f8a89" stroke="#2f8a89">C2</text>
<text x="720.8" y="582.58" fill="#2f8a89" stroke="#2f8a89">C2 (p)</text>
<text x="756.75" y="456.3" fill="#1f7f7d" stroke="#1f7f7d">C3</text>
<text x="756.75" y="467.78" fill="#1f7f7d" stroke="#1f7f7d">C3</text>
<text x="756.75" y="479.26" fill="#1f7f7d" stroke="#1f7f7d">C3</text>
<text x="756.75" y="490.74" fill="#1f7f7d" stroke="#1f7f7d">C3</text>
<text x="756.75" y="502.22" fill="#1f7f7d" stroke="#1f7f7d">C3</text>
<text x="756.75" y="513.7" fill="#1f7f7d" stroke="#1f7f7d">C3</text>
<text x="756.75" y="525.18" fill="#1f7f7d" stroke="#1f7f7d">C3</text>
<text x="756.75" y="536.66" fill="#1f7f7d" stroke="#1f7f7d">C3</text>
<text x="756.75" y="548.14" fill="#1f7f7d" stroke="#1f7f7d">C3</text>
<text x="756.75" y="559.62" fill="#1f7f7d" stroke="#1f7f7d">C3</text>
<text x="756.75" y="571.1" fill="#1f7f7d" stroke="#1f7f7d">C3</text>
<text x="756.75" y="582.58" fill="#1f7f7d" stroke="#1f7f7d">C3 (p)</text>
<text x="792.7" y="456.3" fill="#8a7473" stroke="#8a7473">D3</text>
<text x="792.7" y="467.78" fill="#8a7473" stroke="#8a7473">D3</text>
<text x="792.7" y="479.26" fill="#8a7473" stroke="#8a7473">D3</text>
<text x="792.7" y="490.74" fill="#8a7473" stroke="#8a7473">D3</text>
<text x="792.7" y="502.22" fill="#8a7473" stroke="#8a7473">D3</text>
<text x="792.7" y="513.7" fill="#8a7473" stroke="#8a7473">D3</text>
<text x="792.7" y="525.18" fill="#8a7473" stroke="#8a7473">D3</text>
<text x="792.7" y="536.66" fill="#8a7473" stroke="#8a7473">D3</text>
<text x="792.7" y="548.14" fill="#8a7473" stroke="#8a7473">D3</text>
<text x="792.7" y="559.62" fill="#8a7473" stroke="#8a7473">D3</text>
<text x="792.7" y="571.1" fill="#8a7473" stroke="#8a7473">D3</text>
<text x="792.7" y="582.58" fill="#8a7473" stroke="#8a7473">D3 (p)</text>
</g>
<rect class="box" x="666.5" y="585.72" width="144" height="11.58"/>
<text class="cp" x="738.5" y="594.11">CARPARK</text>
<g class="fl">
<line x1="3.6" y1="642.8" x2="37" y2="642.8"/>
<line x1="3.6" y1="653.4" x2="37" y2="653.4"/>
<line x1="3.6" y1="664.88" x2="37" y2="664.88"/>
<line x1="3.6" y1="676.36" x2="37" y2="676.36"/>
<line x1="3.6" y1="687.84" x2="37" y2="687.84"/>
<line x1="3.6" y1="699.32" x2="37" y2="699.32"/>
<line x1="3.6" y1="710.8" x2="37" y2="710.8"/>
<line x1="3.6" y1="722.28" x2="37" y2="722.28"/>
<line x1="3.6" y1="733.76" x2="37" y2="733.76"/>
<line x1="3.6" y1="745.24" x2="37" y2="745.24"/>
<line x1="3.6" y1="756.72" x2="37" y2="756.72"/>
<line x1="3.6" y1="768.2" x2="37" y2="768.2"/>
<line x1="3.6" y1="779.68" x2="37" y2="779.68"/>
<line x1="3.6" y1="791.16" x2="37" y2="791.16"/>
<line x1="3.6" y1="802.52" x2="37" y2="802.52"/>
<text x="29.2" y="640.2" text-anchor="end">Unit</text>
<text x="29.2" y="650.8" text-anchor="end">Floor</text>
<text x="29.2" y="662.28" text-anchor="end">12</text>
<text x="29.2" y="673.76" text-anchor="end">11</text>
<text x="29.2" y="685.24" text-anchor="end">10</text>
<text x="29.2" y="696.72" text-anchor="end">9</text>
<text x="29.2" y="708.2" text-anchor="end">8</text>
<text x="29.2" y="719.68" text-anchor="end">7</text>
<text x="29.2" y="731.16" text-anchor="end">6</text>
<text x="29.2" y="742.64" text-anchor="end">5</text>
<text x="29.2" y="754.12" text-anchor="end">4</text>
<text x="29.2" y="765.6" text-anchor="end">3</text>
<text x="29.2" y="777.08" text-anchor="end">2</text>
<text x="29.2" y="788.56" text-anchor="end">1</text>
<text x="29.2" y="799.92" text-anchor="end">B1</text>
</g>
<g class="fl">
<line x1="828.8" y1="642.8" x2="862.2" y2="642.8"/>
<line x1="828.8" y1="653.4" x2="862.2" y2="653.4"/>
<line x1="828.8" y1="664.88" x2="862.2" y2="664.88"/>
<line x1="828.8" y1="676.36" x2="862.2" y2="676.36"/>
<line x1="828.8" y1="687.84" x2="862.2" y2="687.84"/>
<line x1="828.8" y1="699.32" x2="862.2" y2="699.32"/>
<line x1="828.8" y1="710.8" x2="862.2" y2="710.8"/>
<line x1="828.8" y1="722.28" x2="862.2" y2="722.28"/>
<line x1="828.8" y1="733.76" x2="862.2" y2="733.76"/>
<line x1="828.8" y1="745.24" x2="862.2" y2="745.24"/>
<line x1="828.8" y1="756.72" x2="862.2" y2="756.72"/>
<line x1="828.8" y1="768.2" x2="862.2" y2="768.2"/>
<line x1="828.8" y1="779.68" x2="862.2" y2="779.68"/>
<line x1="828.8" y1="791.16" x2="862.2" y2="791.16"/>
<line x1="828.8" y1="802.52" x2="862.2" y2="802.52"/>
<text x="835.2" y="640.2" text-anchor="start">Unit</text>
<text x="835.2" y="650.8" text-anchor="start">Floor</text>
<text x="835.2" y="662.28" text-anchor="start">12</text>
<text x="835.2" y="673.76" text-anchor="start">11</text>
<text x="835.2" y="685.24" text-anchor="start">10</text>
<text x="835.2" y="696.72" text-anchor="start">9</text>
<text x="835.2" y="708.2" text-anchor="start">8</text>
<text x="835.2" y="719.68" text-anchor="start">7</text>
<text x="835.2" y="731.16" text-anchor="start">6</text>
<text x="835.2" y="742.64" text-anchor="start">5</text>
<text x="835.2" y="754.12" text-anchor="start">4</text>
<text x="835.2" y="765.6" text-anchor="start">3</text>
<text x="835.2" y="777.08" text-anchor="start">2</text>
<text x="835.2" y="788.56" text-anchor="start">1</text>
<text x="835.2" y="799.92" text-anchor="start">B1</text>
</g>
<text class="ttl" x="135.8" y="617.8">BLOCK 32</text>
<text class="sub" x="135.3" y="625.7">Jalan Loyang Besar S(508806)</text>
<text class="num" x="81.6" y="639">64</text>
<text class="num" x="117.5" y="639">63</text>
<text class="num" x="153.2" y="639">62</text>
<text class="num" x="189.3" y="639">61</text>
<rect x="63.3" y="653.4" width="36.6" height="137.76" fill="#4fbab8"/>
<rect x="99.9" y="653.4" width="35.2" height="137.76" fill="#fdf0c8"/>
<rect x="135.1" y="653.4" width="36.2" height="137.76" fill="#f6cd62"/>
<rect x="171.3" y="653.4" width="36" height="137.76" fill="#95d6d6"/>
<g class="gl">
<line x1="63.3" y1="653.4" x2="99.9" y2="653.4" stroke="#367e7d"/>
<line x1="63.3" y1="664.88" x2="99.9" y2="664.88" stroke="#46a4a2"/>
<line x1="63.3" y1="676.36" x2="99.9" y2="676.36" stroke="#46a4a2"/>
<line x1="63.3" y1="687.84" x2="99.9" y2="687.84" stroke="#46a4a2"/>
<line x1="63.3" y1="699.32" x2="99.9" y2="699.32" stroke="#46a4a2"/>
<line x1="63.3" y1="710.8" x2="99.9" y2="710.8" stroke="#46a4a2"/>
<line x1="63.3" y1="722.28" x2="99.9" y2="722.28" stroke="#46a4a2"/>
<line x1="63.3" y1="733.76" x2="99.9" y2="733.76" stroke="#46a4a2"/>
<line x1="63.3" y1="745.24" x2="99.9" y2="745.24" stroke="#46a4a2"/>
<line x1="63.3" y1="756.72" x2="99.9" y2="756.72" stroke="#46a4a2"/>
<line x1="63.3" y1="768.2" x2="99.9" y2="768.2" stroke="#46a4a2"/>
<line x1="63.3" y1="779.68" x2="99.9" y2="779.68" stroke="#46a4a2"/>
<line x1="63.3" y1="791.16" x2="99.9" y2="791.16" stroke="#367e7d"/>
<line x1="99.9" y1="653.4" x2="135.1" y2="653.4" stroke="#aca388"/>
<line x1="99.9" y1="664.88" x2="135.1" y2="664.88" stroke="#c5bb9c"/>
<line x1="99.9" y1="676.36" x2="135.1" y2="676.36" stroke="#c5bb9c"/>
<line x1="99.9" y1="687.84" x2="135.1" y2="687.84" stroke="#c5bb9c"/>
<line x1="99.9" y1="699.32" x2="135.1" y2="699.32" stroke="#c5bb9c"/>
<line x1="99.9" y1="710.8" x2="135.1" y2="710.8" stroke="#c5bb9c"/>
<line x1="99.9" y1="722.28" x2="135.1" y2="722.28" stroke="#c5bb9c"/>
<line x1="99.9" y1="733.76" x2="135.1" y2="733.76" stroke="#c5bb9c"/>
<line x1="99.9" y1="745.24" x2="135.1" y2="745.24" stroke="#c5bb9c"/>
<line x1="99.9" y1="756.72" x2="135.1" y2="756.72" stroke="#c5bb9c"/>
<line x1="99.9" y1="768.2" x2="135.1" y2="768.2" stroke="#c5bb9c"/>
<line x1="99.9" y1="779.68" x2="135.1" y2="779.68" stroke="#c5bb9c"/>
<line x1="99.9" y1="791.16" x2="135.1" y2="791.16" stroke="#aca388"/>
<line x1="135.1" y1="653.4" x2="171.3" y2="653.4" stroke="#a78b43"/>
<line x1="135.1" y1="664.88" x2="171.3" y2="664.88" stroke="#c0a04c"/>
<line x1="135.1" y1="676.36" x2="171.3" y2="676.36" stroke="#c0a04c"/>
<line x1="135.1" y1="687.84" x2="171.3" y2="687.84" stroke="#c0a04c"/>
<line x1="135.1" y1="699.32" x2="171.3" y2="699.32" stroke="#c0a04c"/>
<line x1="135.1" y1="710.8" x2="171.3" y2="710.8" stroke="#c0a04c"/>
<line x1="135.1" y1="722.28" x2="171.3" y2="722.28" stroke="#c0a04c"/>
<line x1="135.1" y1="733.76" x2="171.3" y2="733.76" stroke="#c0a04c"/>
<line x1="135.1" y1="745.24" x2="171.3" y2="745.24" stroke="#c0a04c"/>
<line x1="135.1" y1="756.72" x2="171.3" y2="756.72" stroke="#c0a04c"/>
<line x1="135.1" y1="768.2" x2="171.3" y2="768.2" stroke="#c0a04c"/>
<line x1="135.1" y1="779.68" x2="171.3" y2="779.68" stroke="#c0a04c"/>
<line x1="135.1" y1="791.16" x2="171.3" y2="791.16" stroke="#a78b43"/>
<line x1="171.3" y1="653.4" x2="207.3" y2="653.4" stroke="#659292"/>
<line x1="171.3" y1="664.88" x2="207.3" y2="664.88" stroke="#7aafaf"/>
<line x1="171.3" y1="676.36" x2="207.3" y2="676.36" stroke="#7aafaf"/>
<line x1="171.3" y1="687.84" x2="207.3" y2="687.84" stroke="#7aafaf"/>
<line x1="171.3" y1="699.32" x2="207.3" y2="699.32" stroke="#7aafaf"/>
<line x1="171.3" y1="710.8" x2="207.3" y2="710.8" stroke="#7aafaf"/>
<line x1="171.3" y1="722.28" x2="207.3" y2="722.28" stroke="#7aafaf"/>
<line x1="171.3" y1="733.76" x2="207.3" y2="733.76" stroke="#7aafaf"/>
<line x1="171.3" y1="745.24" x2="207.3" y2="745.24" stroke="#7aafaf"/>
<line x1="171.3" y1="756.72" x2="207.3" y2="756.72" stroke="#7aafaf"/>
<line x1="171.3" y1="768.2" x2="207.3" y2="768.2" stroke="#7aafaf"/>
<line x1="171.3" y1="779.68" x2="207.3" y2="779.68" stroke="#7aafaf"/>
<line x1="171.3" y1="791.16" x2="207.3" y2="791.16" stroke="#659292"/>
<line x1="63.3" y1="653.4" x2="63.3" y2="791.16" stroke="#347b79"/>
<line x1="99.9" y1="653.4" x2="99.9" y2="791.16" stroke="#78998a"/>
<line x1="135.1" y1="653.4" x2="135.1" y2="791.16" stroke="#b4a06b"/>
<line x1="171.3" y1="653.4" x2="171.3" y2="791.16" stroke="#8e9770"/>
<line x1="207.3" y1="653.4" x2="207.3" y2="791.16" stroke="#628d8d"/>
</g>
<g class="ct">
<text x="81.6" y="661.74" fill="#1f7f7d" stroke="#1f7f7d">C3</text>
<text x="81.6" y="673.22" fill="#1f7f7d" stroke="#1f7f7d">C3</text>
<text x="81.6" y="684.7" fill="#1f7f7d" stroke="#1f7f7d">C3</text>
<text x="81.6" y="696.18" fill="#1f7f7d" stroke="#1f7f7d">C3</text>
<text x="81.6" y="707.66" fill="#1f7f7d" stroke="#1f7f7d">C3</text>
<text x="81.6" y="719.14" fill="#1f7f7d" stroke="#1f7f7d">C3</text>
<text x="81.6" y="730.62" fill="#1f7f7d" stroke="#1f7f7d">C3</text>
<text x="81.6" y="742.1" fill="#1f7f7d" stroke="#1f7f7d">C3</text>
<text x="81.6" y="753.58" fill="#1f7f7d" stroke="#1f7f7d">C3</text>
<text x="81.6" y="765.06" fill="#1f7f7d" stroke="#1f7f7d">C3</text>
<text x="81.6" y="776.54" fill="#1f7f7d" stroke="#1f7f7d">C3</text>
<text x="81.6" y="788.02" fill="#1f7f7d" stroke="#1f7f7d">C3 (p)</text>
<text x="117.5" y="661.74" fill="#857a58" stroke="#857a58">D1</text>
<text x="117.5" y="673.22" fill="#857a58" stroke="#857a58">D1</text>
<text x="117.5" y="684.7" fill="#857a58" stroke="#857a58">D1</text>
<text x="117.5" y="696.18" fill="#857a58" stroke="#857a58">D1</text>
<text x="117.5" y="707.66" fill="#857a58" stroke="#857a58">D1</text>
<text x="117.5" y="719.14" fill="#857a58" stroke="#857a58">D1</text>
<text x="117.5" y="730.62" fill="#857a58" stroke="#857a58">D1</text>
<text x="117.5" y="742.1" fill="#857a58" stroke="#857a58">D1</text>
<text x="117.5" y="753.58" fill="#857a58" stroke="#857a58">D1</text>
<text x="117.5" y="765.06" fill="#857a58" stroke="#857a58">D1</text>
<text x="117.5" y="776.54" fill="#857a58" stroke="#857a58">D1</text>
<text x="117.5" y="788.02" fill="#857a58" stroke="#857a58">D1 (p)</text>
<text x="153.2" y="661.74" fill="#8e6f27" stroke="#8e6f27">D2</text>
<text x="153.2" y="673.22" fill="#8e6f27" stroke="#8e6f27">D2</text>
<text x="153.2" y="684.7" fill="#8e6f27" stroke="#8e6f27">D2</text>
<text x="153.2" y="696.18" fill="#8e6f27" stroke="#8e6f27">D2</text>
<text x="153.2" y="707.66" fill="#8e6f27" stroke="#8e6f27">D2</text>
<text x="153.2" y="719.14" fill="#8e6f27" stroke="#8e6f27">D2</text>
<text x="153.2" y="730.62" fill="#8e6f27" stroke="#8e6f27">D2</text>
<text x="153.2" y="742.1" fill="#8e6f27" stroke="#8e6f27">D2</text>
<text x="153.2" y="753.58" fill="#8e6f27" stroke="#8e6f27">D2</text>
<text x="153.2" y="765.06" fill="#8e6f27" stroke="#8e6f27">D2</text>
<text x="153.2" y="776.54" fill="#8e6f27" stroke="#8e6f27">D2</text>
<text x="153.2" y="788.02" fill="#8e6f27" stroke="#8e6f27">D2 (p)</text>
<text x="189.3" y="661.74" fill="#2f8a89" stroke="#2f8a89">C2</text>
<text x="189.3" y="673.22" fill="#2f8a89" stroke="#2f8a89">C2</text>
<text x="189.3" y="684.7" fill="#2f8a89" stroke="#2f8a89">C2</text>
<text x="189.3" y="696.18" fill="#2f8a89" stroke="#2f8a89">C2</text>
<text x="189.3" y="707.66" fill="#2f8a89" stroke="#2f8a89">C2</text>
<text x="189.3" y="719.14" fill="#2f8a89" stroke="#2f8a89">C2</text>
<text x="189.3" y="730.62" fill="#2f8a89" stroke="#2f8a89">C2</text>
<text x="189.3" y="742.1" fill="#2f8a89" stroke="#2f8a89">C2</text>
<text x="189.3" y="753.58" fill="#2f8a89" stroke="#2f8a89">C2</text>
<text x="189.3" y="765.06" fill="#2f8a89" stroke="#2f8a89">C2</text>
<text x="189.3" y="776.54" fill="#2f8a89" stroke="#2f8a89">C2</text>
<text x="189.3" y="788.02" fill="#2f8a89" stroke="#2f8a89">C2 (p)</text>
</g>
<rect class="box" x="63.3" y="791.16" width="144" height="12.34"/>
<text class="cp" x="135.3" y="799.93">CARPARK</text>
<text class="ttl" x="310.75" y="617.8">BLOCK 30</text>
<text class="sub" x="310.25" y="625.7">Block 30 Jalan Loyang Besar S(508830)</text>
<text class="num" x="255.9" y="639">60</text>
<text class="num" x="292" y="639">59</text>
<text class="num" x="328.15" y="639">58</text>
<text class="num" x="364.5" y="639">57</text>
<rect x="237.8" y="653.4" width="36.2" height="137.76" fill="#fdf0c8"/>
<rect x="274" y="653.4" width="36" height="137.76" fill="#4fbab8"/>
<rect x="310" y="653.4" width="36.3" height="137.76" fill="#4fbab8"/>
<rect x="346.3" y="653.4" width="36.4" height="137.76" fill="#f6cd62"/>
<g class="gl">
<line x1="237.8" y1="653.4" x2="274" y2="653.4" stroke="#aca388"/>
<line x1="237.8" y1="664.88" x2="274" y2="664.88" stroke="#c5bb9c"/>
<line x1="237.8" y1="676.36" x2="274" y2="676.36" stroke="#c5bb9c"/>
<line x1="237.8" y1="687.84" x2="274" y2="687.84" stroke="#c5bb9c"/>
<line x1="237.8" y1="699.32" x2="274" y2="699.32" stroke="#c5bb9c"/>
<line x1="237.8" y1="710.8" x2="274" y2="710.8" stroke="#c5bb9c"/>
<line x1="237.8" y1="722.28" x2="274" y2="722.28" stroke="#c5bb9c"/>
<line x1="237.8" y1="733.76" x2="274" y2="733.76" stroke="#c5bb9c"/>
<line x1="237.8" y1="745.24" x2="274" y2="745.24" stroke="#c5bb9c"/>
<line x1="237.8" y1="756.72" x2="274" y2="756.72" stroke="#c5bb9c"/>
<line x1="237.8" y1="768.2" x2="274" y2="768.2" stroke="#c5bb9c"/>
<line x1="237.8" y1="779.68" x2="274" y2="779.68" stroke="#c5bb9c"/>
<line x1="237.8" y1="791.16" x2="274" y2="791.16" stroke="#aca388"/>
<line x1="274" y1="653.4" x2="310" y2="653.4" stroke="#367e7d"/>
<line x1="274" y1="664.88" x2="310" y2="664.88" stroke="#46a4a2"/>
<line x1="274" y1="676.36" x2="310" y2="676.36" stroke="#46a4a2"/>
<line x1="274" y1="687.84" x2="310" y2="687.84" stroke="#46a4a2"/>
<line x1="274" y1="699.32" x2="310" y2="699.32" stroke="#46a4a2"/>
<line x1="274" y1="710.8" x2="310" y2="710.8" stroke="#46a4a2"/>
<line x1="274" y1="722.28" x2="310" y2="722.28" stroke="#46a4a2"/>
<line x1="274" y1="733.76" x2="310" y2="733.76" stroke="#46a4a2"/>
<line x1="274" y1="745.24" x2="310" y2="745.24" stroke="#46a4a2"/>
<line x1="274" y1="756.72" x2="310" y2="756.72" stroke="#46a4a2"/>
<line x1="274" y1="768.2" x2="310" y2="768.2" stroke="#46a4a2"/>
<line x1="274" y1="779.68" x2="310" y2="779.68" stroke="#46a4a2"/>
<line x1="274" y1="791.16" x2="310" y2="791.16" stroke="#367e7d"/>
<line x1="310" y1="653.4" x2="346.3" y2="653.4" stroke="#367e7d"/>
<line x1="310" y1="664.88" x2="346.3" y2="664.88" stroke="#46a4a2"/>
<line x1="310" y1="676.36" x2="346.3" y2="676.36" stroke="#46a4a2"/>
<line x1="310" y1="687.84" x2="346.3" y2="687.84" stroke="#46a4a2"/>
<line x1="310" y1="699.32" x2="346.3" y2="699.32" stroke="#46a4a2"/>
<line x1="310" y1="710.8" x2="346.3" y2="710.8" stroke="#46a4a2"/>
<line x1="310" y1="722.28" x2="346.3" y2="722.28" stroke="#46a4a2"/>
<line x1="310" y1="733.76" x2="346.3" y2="733.76" stroke="#46a4a2"/>
<line x1="310" y1="745.24" x2="346.3" y2="745.24" stroke="#46a4a2"/>
<line x1="310" y1="756.72" x2="346.3" y2="756.72" stroke="#46a4a2"/>
<line x1="310" y1="768.2" x2="346.3" y2="768.2" stroke="#46a4a2"/>
<line x1="310" y1="779.68" x2="346.3" y2="779.68" stroke="#46a4a2"/>
<line x1="310" y1="791.16" x2="346.3" y2="791.16" stroke="#367e7d"/>
<line x1="346.3" y1="653.4" x2="382.7" y2="653.4" stroke="#a78b43"/>
<line x1="346.3" y1="664.88" x2="382.7" y2="664.88" stroke="#c0a04c"/>
<line x1="346.3" y1="676.36" x2="382.7" y2="676.36" stroke="#c0a04c"/>
<line x1="346.3" y1="687.84" x2="382.7" y2="687.84" stroke="#c0a04c"/>
<line x1="346.3" y1="699.32" x2="382.7" y2="699.32" stroke="#c0a04c"/>
<line x1="346.3" y1="710.8" x2="382.7" y2="710.8" stroke="#c0a04c"/>
<line x1="346.3" y1="722.28" x2="382.7" y2="722.28" stroke="#c0a04c"/>
<line x1="346.3" y1="733.76" x2="382.7" y2="733.76" stroke="#c0a04c"/>
<line x1="346.3" y1="745.24" x2="382.7" y2="745.24" stroke="#c0a04c"/>
<line x1="346.3" y1="756.72" x2="382.7" y2="756.72" stroke="#c0a04c"/>
<line x1="346.3" y1="768.2" x2="382.7" y2="768.2" stroke="#c0a04c"/>
<line x1="346.3" y1="779.68" x2="382.7" y2="779.68" stroke="#c0a04c"/>
<line x1="346.3" y1="791.16" x2="382.7" y2="791.16" stroke="#a78b43"/>
<line x1="237.8" y1="653.4" x2="237.8" y2="791.16" stroke="#a79e84"/>
<line x1="274" y1="653.4" x2="274" y2="791.16" stroke="#78998a"/>
<line x1="310" y1="653.4" x2="310" y2="791.16" stroke="#46a4a2"/>
<line x1="346.3" y1="653.4" x2="346.3" y2="791.16" stroke="#758d66"/>
<line x1="382.7" y1="653.4" x2="382.7" y2="791.16" stroke="#a28741"/>
</g>
<g class="ct">
<text x="255.9" y="661.74" fill="#857a58" stroke="#857a58">D1</text>
<text x="255.9" y="673.22" fill="#857a58" stroke="#857a58">D1</text>
<text x="255.9" y="684.7" fill="#857a58" stroke="#857a58">D1</text>
<text x="255.9" y="696.18" fill="#857a58" stroke="#857a58">D1</text>
<text x="255.9" y="707.66" fill="#857a58" stroke="#857a58">D1</text>
<text x="255.9" y="719.14" fill="#857a58" stroke="#857a58">D1</text>
<text x="255.9" y="730.62" fill="#857a58" stroke="#857a58">D1</text>
<text x="255.9" y="742.1" fill="#857a58" stroke="#857a58">D1</text>
<text x="255.9" y="753.58" fill="#857a58" stroke="#857a58">D1</text>
<text x="255.9" y="765.06" fill="#857a58" stroke="#857a58">D1</text>
<text x="255.9" y="776.54" fill="#857a58" stroke="#857a58">D1</text>
<text x="255.9" y="788.02" fill="#857a58" stroke="#857a58">D1 (p)</text>
<text x="292" y="661.74" fill="#1f7f7d" stroke="#1f7f7d">C3</text>
<text x="292" y="673.22" fill="#1f7f7d" stroke="#1f7f7d">C3</text>
<text x="292" y="684.7" fill="#1f7f7d" stroke="#1f7f7d">C3</text>
<text x="292" y="696.18" fill="#1f7f7d" stroke="#1f7f7d">C3</text>
<text x="292" y="707.66" fill="#1f7f7d" stroke="#1f7f7d">C3</text>
<text x="292" y="719.14" fill="#1f7f7d" stroke="#1f7f7d">C3</text>
<text x="292" y="730.62" fill="#1f7f7d" stroke="#1f7f7d">C3</text>
<text x="292" y="742.1" fill="#1f7f7d" stroke="#1f7f7d">C3</text>
<text x="292" y="753.58" fill="#1f7f7d" stroke="#1f7f7d">C3</text>
<text x="292" y="765.06" fill="#1f7f7d" stroke="#1f7f7d">C3</text>
<text x="292" y="776.54" fill="#1f7f7d" stroke="#1f7f7d">C3</text>
<text x="292" y="788.02" fill="#1f7f7d" stroke="#1f7f7d">C3 (p)</text>
<text x="328.15" y="661.74" fill="#1f7f7d" stroke="#1f7f7d">C3</text>
<text x="328.15" y="673.22" fill="#1f7f7d" stroke="#1f7f7d">C3</text>
<text x="328.15" y="684.7" fill="#1f7f7d" stroke="#1f7f7d">C3</text>
<text x="328.15" y="696.18" fill="#1f7f7d" stroke="#1f7f7d">C3</text>
<text x="328.15" y="707.66" fill="#1f7f7d" stroke="#1f7f7d">C3</text>
<text x="328.15" y="719.14" fill="#1f7f7d" stroke="#1f7f7d">C3</text>
<text x="328.15" y="730.62" fill="#1f7f7d" stroke="#1f7f7d">C3</text>
<text x="328.15" y="742.1" fill="#1f7f7d" stroke="#1f7f7d">C3</text>
<text x="328.15" y="753.58" fill="#1f7f7d" stroke="#1f7f7d">C3</text>
<text x="328.15" y="765.06" fill="#1f7f7d" stroke="#1f7f7d">C3</text>
<text x="328.15" y="776.54" fill="#1f7f7d" stroke="#1f7f7d">C3</text>
<text x="328.15" y="788.02" fill="#1f7f7d" stroke="#1f7f7d">C3 (p)</text>
<text x="364.5" y="661.74" fill="#8e6f27" stroke="#8e6f27">D2</text>
<text x="364.5" y="673.22" fill="#8e6f27" stroke="#8e6f27">D2</text>
<text x="364.5" y="684.7" fill="#8e6f27" stroke="#8e6f27">D2</text>
<text x="364.5" y="696.18" fill="#8e6f27" stroke="#8e6f27">D2</text>
<text x="364.5" y="707.66" fill="#8e6f27" stroke="#8e6f27">D2</text>
<text x="364.5" y="719.14" fill="#8e6f27" stroke="#8e6f27">D2</text>
<text x="364.5" y="730.62" fill="#8e6f27" stroke="#8e6f27">D2</text>
<text x="364.5" y="742.1" fill="#8e6f27" stroke="#8e6f27">D2</text>
<text x="364.5" y="753.58" fill="#8e6f27" stroke="#8e6f27">D2</text>
<text x="364.5" y="765.06" fill="#8e6f27" stroke="#8e6f27">D2</text>
<text x="364.5" y="776.54" fill="#8e6f27" stroke="#8e6f27">D2</text>
<text x="364.5" y="788.02" fill="#8e6f27" stroke="#8e6f27">D2 (p)</text>
</g>
<rect class="box" x="237.8" y="791.16" width="144.9" height="12.34"/>
<text class="cp" x="310.25" y="799.93">CARPARK</text>
<text class="ttl" x="564.75" y="617.8">BLOCK 28</text>
<text class="sub" x="564.25" y="625.7">Jalan Loyang Besar S(508829)</text>
<text class="num" x="510.1" y="639">56</text>
<text class="num" x="546" y="639">55</text>
<text class="num" x="581.8" y="639">54</text>
<text class="num" x="617.95" y="639">53</text>
<rect x="492.2" y="653.4" width="35.8" height="137.76" fill="#95d6d6"/>
<rect x="528" y="653.4" width="36" height="137.76" fill="#fdf0c8"/>
<rect x="564" y="653.4" width="35.6" height="137.76" fill="#f6cd62"/>
<rect x="599.6" y="653.4" width="36.7" height="137.76" fill="#95d6d6"/>
<g class="gl">
<line x1="492.2" y1="653.4" x2="528" y2="653.4" stroke="#659292"/>
<line x1="492.2" y1="664.88" x2="528" y2="664.88" stroke="#7aafaf"/>
<line x1="492.2" y1="676.36" x2="528" y2="676.36" stroke="#7aafaf"/>
<line x1="492.2" y1="687.84" x2="528" y2="687.84" stroke="#7aafaf"/>
<line x1="492.2" y1="699.32" x2="528" y2="699.32" stroke="#7aafaf"/>
<line x1="492.2" y1="710.8" x2="528" y2="710.8" stroke="#7aafaf"/>
<line x1="492.2" y1="722.28" x2="528" y2="722.28" stroke="#7aafaf"/>
<line x1="492.2" y1="733.76" x2="528" y2="733.76" stroke="#7aafaf"/>
<line x1="492.2" y1="745.24" x2="528" y2="745.24" stroke="#7aafaf"/>
<line x1="492.2" y1="756.72" x2="528" y2="756.72" stroke="#7aafaf"/>
<line x1="492.2" y1="768.2" x2="528" y2="768.2" stroke="#7aafaf"/>
<line x1="492.2" y1="779.68" x2="528" y2="779.68" stroke="#7aafaf"/>
<line x1="492.2" y1="791.16" x2="528" y2="791.16" stroke="#659292"/>
<line x1="528" y1="653.4" x2="564" y2="653.4" stroke="#aca388"/>
<line x1="528" y1="664.88" x2="564" y2="664.88" stroke="#c5bb9c"/>
<line x1="528" y1="676.36" x2="564" y2="676.36" stroke="#c5bb9c"/>
<line x1="528" y1="687.84" x2="564" y2="687.84" stroke="#c5bb9c"/>
<line x1="528" y1="699.32" x2="564" y2="699.32" stroke="#c5bb9c"/>
<line x1="528" y1="710.8" x2="564" y2="710.8" stroke="#c5bb9c"/>
<line x1="528" y1="722.28" x2="564" y2="722.28" stroke="#c5bb9c"/>
<line x1="528" y1="733.76" x2="564" y2="733.76" stroke="#c5bb9c"/>
<line x1="528" y1="745.24" x2="564" y2="745.24" stroke="#c5bb9c"/>
<line x1="528" y1="756.72" x2="564" y2="756.72" stroke="#c5bb9c"/>
<line x1="528" y1="768.2" x2="564" y2="768.2" stroke="#c5bb9c"/>
<line x1="528" y1="779.68" x2="564" y2="779.68" stroke="#c5bb9c"/>
<line x1="528" y1="791.16" x2="564" y2="791.16" stroke="#aca388"/>
<line x1="564" y1="653.4" x2="599.6" y2="653.4" stroke="#a78b43"/>
<line x1="564" y1="664.88" x2="599.6" y2="664.88" stroke="#c0a04c"/>
<line x1="564" y1="676.36" x2="599.6" y2="676.36" stroke="#c0a04c"/>
<line x1="564" y1="687.84" x2="599.6" y2="687.84" stroke="#c0a04c"/>
<line x1="564" y1="699.32" x2="599.6" y2="699.32" stroke="#c0a04c"/>
<line x1="564" y1="710.8" x2="599.6" y2="710.8" stroke="#c0a04c"/>
<line x1="564" y1="722.28" x2="599.6" y2="722.28" stroke="#c0a04c"/>
<line x1="564" y1="733.76" x2="599.6" y2="733.76" stroke="#c0a04c"/>
<line x1="564" y1="745.24" x2="599.6" y2="745.24" stroke="#c0a04c"/>
<line x1="564" y1="756.72" x2="599.6" y2="756.72" stroke="#c0a04c"/>
<line x1="564" y1="768.2" x2="599.6" y2="768.2" stroke="#c0a04c"/>
<line x1="564" y1="779.68" x2="599.6" y2="779.68" stroke="#c0a04c"/>
<line x1="564" y1="791.16" x2="599.6" y2="791.16" stroke="#a78b43"/>
<line x1="599.6" y1="653.4" x2="636.3" y2="653.4" stroke="#659292"/>
<line x1="599.6" y1="664.88" x2="636.3" y2="664.88" stroke="#7aafaf"/>
<line x1="599.6" y1="676.36" x2="636.3" y2="676.36" stroke="#7aafaf"/>
<line x1="599.6" y1="687.84" x2="636.3" y2="687.84" stroke="#7aafaf"/>
<line x1="599.6" y1="699.32" x2="636.3" y2="699.32" stroke="#7aafaf"/>
<line x1="599.6" y1="710.8" x2="636.3" y2="710.8" stroke="#7aafaf"/>
<line x1="599.6" y1="722.28" x2="636.3" y2="722.28" stroke="#7aafaf"/>
<line x1="599.6" y1="733.76" x2="636.3" y2="733.76" stroke="#7aafaf"/>
<line x1="599.6" y1="745.24" x2="636.3" y2="745.24" stroke="#7aafaf"/>
<line x1="599.6" y1="756.72" x2="636.3" y2="756.72" stroke="#7aafaf"/>
<line x1="599.6" y1="768.2" x2="636.3" y2="768.2" stroke="#7aafaf"/>
<line x1="599.6" y1="779.68" x2="636.3" y2="779.68" stroke="#7aafaf"/>
<line x1="599.6" y1="791.16" x2="636.3" y2="791.16" stroke="#659292"/>
<line x1="492.2" y1="653.4" x2="492.2" y2="791.16" stroke="#628d8d"/>
<line x1="528" y1="653.4" x2="528" y2="791.16" stroke="#91a395"/>
<line x1="564" y1="653.4" x2="564" y2="791.16" stroke="#b4a06b"/>
<line x1="599.6" y1="653.4" x2="599.6" y2="791.16" stroke="#8e9770"/>
<line x1="636.3" y1="653.4" x2="636.3" y2="791.16" stroke="#628d8d"/>
</g>
<g class="ct">
<text x="510.1" y="661.74" fill="#2f8a89" stroke="#2f8a89">C2</text>
<text x="510.1" y="673.22" fill="#2f8a89" stroke="#2f8a89">C2</text>
<text x="510.1" y="684.7" fill="#2f8a89" stroke="#2f8a89">C2</text>
<text x="510.1" y="696.18" fill="#2f8a89" stroke="#2f8a89">C2</text>
<text x="510.1" y="707.66" fill="#2f8a89" stroke="#2f8a89">C2</text>
<text x="510.1" y="719.14" fill="#2f8a89" stroke="#2f8a89">C2</text>
<text x="510.1" y="730.62" fill="#2f8a89" stroke="#2f8a89">C2</text>
<text x="510.1" y="742.1" fill="#2f8a89" stroke="#2f8a89">C2</text>
<text x="510.1" y="753.58" fill="#2f8a89" stroke="#2f8a89">C2</text>
<text x="510.1" y="765.06" fill="#2f8a89" stroke="#2f8a89">C2</text>
<text x="510.1" y="776.54" fill="#2f8a89" stroke="#2f8a89">C2</text>
<text x="510.1" y="788.02" fill="#2f8a89" stroke="#2f8a89">C2 (p)</text>
<text x="546" y="661.74" fill="#857a58" stroke="#857a58">D1</text>
<text x="546" y="673.22" fill="#857a58" stroke="#857a58">D1</text>
<text x="546" y="684.7" fill="#857a58" stroke="#857a58">D1</text>
<text x="546" y="696.18" fill="#857a58" stroke="#857a58">D1</text>
<text x="546" y="707.66" fill="#857a58" stroke="#857a58">D1</text>
<text x="546" y="719.14" fill="#857a58" stroke="#857a58">D1</text>
<text x="546" y="730.62" fill="#857a58" stroke="#857a58">D1</text>
<text x="546" y="742.1" fill="#857a58" stroke="#857a58">D1</text>
<text x="546" y="753.58" fill="#857a58" stroke="#857a58">D1</text>
<text x="546" y="765.06" fill="#857a58" stroke="#857a58">D1</text>
<text x="546" y="776.54" fill="#857a58" stroke="#857a58">D1</text>
<text x="546" y="788.02" fill="#857a58" stroke="#857a58">D1 (p)</text>
<text x="581.8" y="661.74" fill="#8e6f27" stroke="#8e6f27">D2</text>
<text x="581.8" y="673.22" fill="#8e6f27" stroke="#8e6f27">D2</text>
<text x="581.8" y="684.7" fill="#8e6f27" stroke="#8e6f27">D2</text>
<text x="581.8" y="696.18" fill="#8e6f27" stroke="#8e6f27">D2</text>
<text x="581.8" y="707.66" fill="#8e6f27" stroke="#8e6f27">D2</text>
<text x="581.8" y="719.14" fill="#8e6f27" stroke="#8e6f27">D2</text>
<text x="581.8" y="730.62" fill="#8e6f27" stroke="#8e6f27">D2</text>
<text x="581.8" y="742.1" fill="#8e6f27" stroke="#8e6f27">D2</text>
<text x="581.8" y="753.58" fill="#8e6f27" stroke="#8e6f27">D2</text>
<text x="581.8" y="765.06" fill="#8e6f27" stroke="#8e6f27">D2</text>
<text x="581.8" y="776.54" fill="#8e6f27" stroke="#8e6f27">D2</text>
<text x="581.8" y="788.02" fill="#8e6f27" stroke="#8e6f27">D2 (p)</text>
<text x="617.95" y="661.74" fill="#2f8a89" stroke="#2f8a89">C2</text>
<text x="617.95" y="673.22" fill="#2f8a89" stroke="#2f8a89">C2</text>
<text x="617.95" y="684.7" fill="#2f8a89" stroke="#2f8a89">C2</text>
<text x="617.95" y="696.18" fill="#2f8a89" stroke="#2f8a89">C2</text>
<text x="617.95" y="707.66" fill="#2f8a89" stroke="#2f8a89">C2</text>
<text x="617.95" y="719.14" fill="#2f8a89" stroke="#2f8a89">C2</text>
<text x="617.95" y="730.62" fill="#2f8a89" stroke="#2f8a89">C2</text>
<text x="617.95" y="742.1" fill="#2f8a89" stroke="#2f8a89">C2</text>
<text x="617.95" y="753.58" fill="#2f8a89" stroke="#2f8a89">C2</text>
<text x="617.95" y="765.06" fill="#2f8a89" stroke="#2f8a89">C2</text>
<text x="617.95" y="776.54" fill="#2f8a89" stroke="#2f8a89">C2</text>
<text x="617.95" y="788.02" fill="#2f8a89" stroke="#2f8a89">C2 (p)</text>
</g>
<rect class="box" x="492.2" y="791.16" width="144.1" height="12.34"/>
<text class="cp" x="564.25" y="799.93">CARPARK</text>
<text class="ttl" x="739" y="617.8">BLOCK 26</text>
<text class="sub" x="738.5" y="625.7">Jalan Loyang Besar S(508828)</text>
<text class="num" x="684.75" y="639">52</text>
<text class="num" x="720.8" y="639">51</text>
<text class="num" x="756.75" y="639">50</text>
<text class="num" x="792.7" y="639">49</text>
<rect x="666.5" y="653.4" width="36.5" height="137.76" fill="#fdf0c8"/>
<rect x="703" y="653.4" width="35.6" height="137.76" fill="#4fbab8"/>
<rect x="738.6" y="653.4" width="36.3" height="137.76" fill="#4fbab8"/>
<rect x="774.9" y="653.4" width="35.6" height="137.76" fill="#f6cd62"/>
<g class="gl">
<line x1="666.5" y1="653.4" x2="703" y2="653.4" stroke="#aca388"/>
<line x1="666.5" y1="664.88" x2="703" y2="664.88" stroke="#c5bb9c"/>
<line x1="666.5" y1="676.36" x2="703" y2="676.36" stroke="#c5bb9c"/>
<line x1="666.5" y1="687.84" x2="703" y2="687.84" stroke="#c5bb9c"/>
<line x1="666.5" y1="699.32" x2="703" y2="699.32" stroke="#c5bb9c"/>
<line x1="666.5" y1="710.8" x2="703" y2="710.8" stroke="#c5bb9c"/>
<line x1="666.5" y1="722.28" x2="703" y2="722.28" stroke="#c5bb9c"/>
<line x1="666.5" y1="733.76" x2="703" y2="733.76" stroke="#c5bb9c"/>
<line x1="666.5" y1="745.24" x2="703" y2="745.24" stroke="#c5bb9c"/>
<line x1="666.5" y1="756.72" x2="703" y2="756.72" stroke="#c5bb9c"/>
<line x1="666.5" y1="768.2" x2="703" y2="768.2" stroke="#c5bb9c"/>
<line x1="666.5" y1="779.68" x2="703" y2="779.68" stroke="#c5bb9c"/>
<line x1="666.5" y1="791.16" x2="703" y2="791.16" stroke="#aca388"/>
<line x1="703" y1="653.4" x2="738.6" y2="653.4" stroke="#367e7d"/>
<line x1="703" y1="664.88" x2="738.6" y2="664.88" stroke="#46a4a2"/>
<line x1="703" y1="676.36" x2="738.6" y2="676.36" stroke="#46a4a2"/>
<line x1="703" y1="687.84" x2="738.6" y2="687.84" stroke="#46a4a2"/>
<line x1="703" y1="699.32" x2="738.6" y2="699.32" stroke="#46a4a2"/>
<line x1="703" y1="710.8" x2="738.6" y2="710.8" stroke="#46a4a2"/>
<line x1="703" y1="722.28" x2="738.6" y2="722.28" stroke="#46a4a2"/>
<line x1="703" y1="733.76" x2="738.6" y2="733.76" stroke="#46a4a2"/>
<line x1="703" y1="745.24" x2="738.6" y2="745.24" stroke="#46a4a2"/>
<line x1="703" y1="756.72" x2="738.6" y2="756.72" stroke="#46a4a2"/>
<line x1="703" y1="768.2" x2="738.6" y2="768.2" stroke="#46a4a2"/>
<line x1="703" y1="779.68" x2="738.6" y2="779.68" stroke="#46a4a2"/>
<line x1="703" y1="791.16" x2="738.6" y2="791.16" stroke="#367e7d"/>
<line x1="738.6" y1="653.4" x2="774.9" y2="653.4" stroke="#367e7d"/>
<line x1="738.6" y1="664.88" x2="774.9" y2="664.88" stroke="#46a4a2"/>
<line x1="738.6" y1="676.36" x2="774.9" y2="676.36" stroke="#46a4a2"/>
<line x1="738.6" y1="687.84" x2="774.9" y2="687.84" stroke="#46a4a2"/>
<line x1="738.6" y1="699.32" x2="774.9" y2="699.32" stroke="#46a4a2"/>
<line x1="738.6" y1="710.8" x2="774.9" y2="710.8" stroke="#46a4a2"/>
<line x1="738.6" y1="722.28" x2="774.9" y2="722.28" stroke="#46a4a2"/>
<line x1="738.6" y1="733.76" x2="774.9" y2="733.76" stroke="#46a4a2"/>
<line x1="738.6" y1="745.24" x2="774.9" y2="745.24" stroke="#46a4a2"/>
<line x1="738.6" y1="756.72" x2="774.9" y2="756.72" stroke="#46a4a2"/>
<line x1="738.6" y1="768.2" x2="774.9" y2="768.2" stroke="#46a4a2"/>
<line x1="738.6" y1="779.68" x2="774.9" y2="779.68" stroke="#46a4a2"/>
<line x1="738.6" y1="791.16" x2="774.9" y2="791.16" stroke="#367e7d"/>
<line x1="774.9" y1="653.4" x2="810.5" y2="653.4" stroke="#a78b43"/>
<line x1="774.9" y1="664.88" x2="810.5" y2="664.88" stroke="#c0a04c"/>
<line x1="774.9" y1="676.36" x2="810.5" y2="676.36" stroke="#c0a04c"/>
<line x1="774.9" y1="687.84" x2="810.5" y2="687.84" stroke="#c0a04c"/>
<line x1="774.9" y1="699.32" x2="810.5" y2="699.32" stroke="#c0a04c"/>
<line x1="774.9" y1="710.8" x2="810.5" y2="710.8" stroke="#c0a04c"/>
<line x1="774.9" y1="722.28" x2="810.5" y2="722.28" stroke="#c0a04c"/>
<line x1="774.9" y1="733.76" x2="810.5" y2="733.76" stroke="#c0a04c"/>
<line x1="774.9" y1="745.24" x2="810.5" y2="745.24" stroke="#c0a04c"/>
<line x1="774.9" y1="756.72" x2="810.5" y2="756.72" stroke="#c0a04c"/>
<line x1="774.9" y1="768.2" x2="810.5" y2="768.2" stroke="#c0a04c"/>
<line x1="774.9" y1="779.68" x2="810.5" y2="779.68" stroke="#c0a04c"/>
<line x1="774.9" y1="791.16" x2="810.5" y2="791.16" stroke="#a78b43"/>
<line x1="666.5" y1="653.4" x2="666.5" y2="791.16" stroke="#a79e84"/>
<line x1="703" y1="653.4" x2="703" y2="791.16" stroke="#78998a"/>
<line x1="738.6" y1="653.4" x2="738.6" y2="791.16" stroke="#46a4a2"/>
<line x1="774.9" y1="653.4" x2="774.9" y2="791.16" stroke="#758d66"/>
<line x1="810.5" y1="653.4" x2="810.5" y2="791.16" stroke="#a28741"/>
</g>
<g class="ct">
<text x="684.75" y="661.74" fill="#857a58" stroke="#857a58">D1</text>
<text x="684.75" y="673.22" fill="#857a58" stroke="#857a58">D1</text>
<text x="684.75" y="684.7" fill="#857a58" stroke="#857a58">D1</text>
<text x="684.75" y="696.18" fill="#857a58" stroke="#857a58">D1</text>
<text x="684.75" y="707.66" fill="#857a58" stroke="#857a58">D1</text>
<text x="684.75" y="719.14" fill="#857a58" stroke="#857a58">D1</text>
<text x="684.75" y="730.62" fill="#857a58" stroke="#857a58">D1</text>
<text x="684.75" y="742.1" fill="#857a58" stroke="#857a58">D1</text>
<text x="684.75" y="753.58" fill="#857a58" stroke="#857a58">D1</text>
<text x="684.75" y="765.06" fill="#857a58" stroke="#857a58">D1</text>
<text x="684.75" y="776.54" fill="#857a58" stroke="#857a58">D1</text>
<text x="684.75" y="788.02" fill="#857a58" stroke="#857a58">D1 (p)</text>
<text x="720.8" y="661.74" fill="#1f7f7d" stroke="#1f7f7d">C3</text>
<text x="720.8" y="673.22" fill="#1f7f7d" stroke="#1f7f7d">C3</text>
<text x="720.8" y="684.7" fill="#1f7f7d" stroke="#1f7f7d">C3</text>
<text x="720.8" y="696.18" fill="#1f7f7d" stroke="#1f7f7d">C3</text>
<text x="720.8" y="707.66" fill="#1f7f7d" stroke="#1f7f7d">C3</text>
<text x="720.8" y="719.14" fill="#1f7f7d" stroke="#1f7f7d">C3</text>
<text x="720.8" y="730.62" fill="#1f7f7d" stroke="#1f7f7d">C3</text>
<text x="720.8" y="742.1" fill="#1f7f7d" stroke="#1f7f7d">C3</text>
<text x="720.8" y="753.58" fill="#1f7f7d" stroke="#1f7f7d">C3</text>
<text x="720.8" y="765.06" fill="#1f7f7d" stroke="#1f7f7d">C3</text>
<text x="720.8" y="776.54" fill="#1f7f7d" stroke="#1f7f7d">C3</text>
<text x="720.8" y="788.02" fill="#1f7f7d" stroke="#1f7f7d">C3 (p)</text>
<text x="756.75" y="661.74" fill="#1f7f7d" stroke="#1f7f7d">C3</text>
<text x="756.75" y="673.22" fill="#1f7f7d" stroke="#1f7f7d">C3</text>
<text x="756.75" y="684.7" fill="#1f7f7d" stroke="#1f7f7d">C3</text>
<text x="756.75" y="696.18" fill="#1f7f7d" stroke="#1f7f7d">C3</text>
<text x="756.75" y="707.66" fill="#1f7f7d" stroke="#1f7f7d">C3</text>
<text x="756.75" y="719.14" fill="#1f7f7d" stroke="#1f7f7d">C3</text>
<text x="756.75" y="730.62" fill="#1f7f7d" stroke="#1f7f7d">C3</text>
<text x="756.75" y="742.1" fill="#1f7f7d" stroke="#1f7f7d">C3</text>
<text x="756.75" y="753.58" fill="#1f7f7d" stroke="#1f7f7d">C3</text>
<text x="756.75" y="765.06" fill="#1f7f7d" stroke="#1f7f7d">C3</text>
<text x="756.75" y="776.54" fill="#1f7f7d" stroke="#1f7f7d">C3</text>
<text x="756.75" y="788.02" fill="#1f7f7d" stroke="#1f7f7d">C3 (p)</text>
<text x="792.7" y="661.74" fill="#8e6f27" stroke="#8e6f27">D2</text>
<text x="792.7" y="673.22" fill="#8e6f27" stroke="#8e6f27">D2</text>
<text x="792.7" y="684.7" fill="#8e6f27" stroke="#8e6f27">D2</text>
<text x="792.7" y="696.18" fill="#8e6f27" stroke="#8e6f27">D2</text>
<text x="792.7" y="707.66" fill="#8e6f27" stroke="#8e6f27">D2</text>
<text x="792.7" y="719.14" fill="#8e6f27" stroke="#8e6f27">D2</text>
<text x="792.7" y="730.62" fill="#8e6f27" stroke="#8e6f27">D2</text>
<text x="792.7" y="742.1" fill="#8e6f27" stroke="#8e6f27">D2</text>
<text x="792.7" y="753.58" fill="#8e6f27" stroke="#8e6f27">D2</text>
<text x="792.7" y="765.06" fill="#8e6f27" stroke="#8e6f27">D2</text>
<text x="792.7" y="776.54" fill="#8e6f27" stroke="#8e6f27">D2</text>
<text x="792.7" y="788.02" fill="#8e6f27" stroke="#8e6f27">D2 (p)</text>
</g>
<rect class="box" x="666.5" y="791.16" width="144" height="12.34"/>
<text class="cp" x="738.5" y="799.93">CARPARK</text>
<rect x="896.3" y="673.85" width="22.8" height="9.2" fill="#dcedf6" stroke="#9eabb1" stroke-width="0.7"/>
<text class="lg" x="925.6" y="681.65">3-Bedroom Deluxe</text>
<rect x="896.3" y="688.2" width="22.8" height="9.2" fill="#95d6d6" stroke="#6b9a9a" stroke-width="0.7"/>
<text class="lg" x="925.6" y="695.89">3-Bedroom Premium</text>
<rect x="896.3" y="702.4" width="22.8" height="8.3" fill="#4fbab8" stroke="#398684" stroke-width="0.7"/>
<text class="lg" x="925.6" y="710.13">3-Bedroom Premium + Study</text>
<rect x="896.3" y="715.5" width="22.8" height="9.2" fill="#fdf0c8" stroke="#b6ad90" stroke-width="0.7"/>
<text class="lg" x="925.6" y="724.37">4-Bedroom Classic</text>
<rect x="896.3" y="730.15" width="22.8" height="9" fill="#f6cd62" stroke="#b19447" stroke-width="0.7"/>
<text class="lg" x="925.6" y="738.61">4-Bedroom Deluxe</text>
<rect x="896.3" y="745" width="22.8" height="9.2" fill="#fcdbd9" stroke="#b59e9c" stroke-width="0.7"/>
<text class="lg" x="925.6" y="752.85">4-Bedroom Premium</text>
<rect x="896.3" y="760.2" width="22.8" height="8.3" fill="#f9baa4" stroke="#b38676" stroke-width="0.7"/>
<text class="lg" x="925.6" y="767.09">4-Bedroom Premium + Study</text>
<rect x="896.3" y="774" width="22.8" height="8.6" fill="#ee916b" stroke="#ab684d" stroke-width="0.7"/>
<text class="lg" x="925.6" y="781.33">4-Bedroom Premium + Flexi</text>
<rect x="896.3" y="788.6" width="22.8" height="8.6" fill="#a9a2d1" stroke="#7a7596" stroke-width="0.7"/>
<text class="lg" x="925.6" y="795.57">5-Bedroom Premium</text>
<text class="call" x="958" y="484.6">Call Cindy @ 97738372 for Details</text>
<g class="map">
<path class="bd" d="M905.4 531.6 C906 522 909 515 912.3 512 C915 509.5 918 508.6 921.4 508.1 L968.5 504.8 L989.5 509.4 L1010.4 516.6 L1018 517.9 L1018.3 632.4 L921 636.6 C914 637 911 634 910.2 629 L907 607 L904.6 560 Z"/>
<g class="bl">
<rect x="916.5" y="525.9" width="5.4" height="4.4" fill="#3c9f9b"/>
<rect x="913.9" y="520.6" width="10.6" height="7" rx="2.3" fill="#3c9f9b"/>
<rect x="913.9" y="528.6" width="10.6" height="7" rx="2.3" fill="#3c9f9b"/>
<rect x="915.56" y="523.2" width="2.4" height="2" rx=".6" fill="rgba(255,255,255,.38)" stroke="rgba(40,60,70,.45)" stroke-width=".4"/>
<rect x="920.44" y="523.2" width="2.4" height="2" rx=".6" fill="rgba(255,255,255,.38)" stroke="rgba(40,60,70,.45)" stroke-width=".4"/>
<rect x="915.56" y="531.15" width="2.4" height="2" rx=".6" fill="rgba(255,255,255,.38)" stroke="rgba(40,60,70,.45)" stroke-width=".4"/>
<rect x="920.44" y="531.15" width="2.4" height="2" rx=".6" fill="rgba(255,255,255,.38)" stroke="rgba(40,60,70,.45)" stroke-width=".4"/>
<rect x="925.3" y="527.8" width="9.3" height="8.1" rx="1.2" fill="#f0cf5e"/>
<rect x="934.2" y="527.8" width="9.3" height="8.1" rx="1.2" fill="#f0cf5e"/>
<rect x="925.6" y="520" width="8.6" height="7.7" rx="2" fill="#f7cfd0"/>
<rect x="934.6" y="520" width="8.6" height="7.7" rx="2" fill="#f2a58f"/>
<path d="M931.4 528.3 L934.4 525.9 L937.4 528.3 L934.4 529.7 Z" fill="#fbf3d6" stroke="rgba(60,60,60,.5)" stroke-width=".4"/>
<rect x="928.55" y="522.9" width="2.6" height="2" rx=".6" fill="rgba(255,255,255,.4)" stroke="rgba(60,50,40,.45)" stroke-width=".4"/>
<rect x="937.65" y="522.9" width="2.6" height="2" rx=".6" fill="rgba(255,255,255,.4)" stroke="rgba(60,50,40,.45)" stroke-width=".4"/>
<rect x="927.64" y="531.3" width="2.6" height="2" rx=".6" fill="rgba(255,255,255,.4)" stroke="rgba(60,50,40,.45)" stroke-width=".4"/>
<rect x="933.1" y="531.6" width="2.6" height="2" rx=".6" fill="rgba(255,255,255,.4)" stroke="rgba(60,50,40,.45)" stroke-width=".4"/>
<rect x="938.56" y="531.3" width="2.6" height="2" rx=".6" fill="rgba(255,255,255,.4)" stroke="rgba(60,50,40,.45)" stroke-width=".4"/>
<rect x="946.9" y="525.9" width="5.4" height="4.4" fill="#3c9f9b"/>
<rect x="944.3" y="520.6" width="10.6" height="7" rx="2.3" fill="#3c9f9b"/>
<rect x="944.3" y="528.6" width="10.6" height="7" rx="2.3" fill="#86c7c4"/>
<rect x="945.96" y="523.2" width="2.4" height="2" rx=".6" fill="rgba(255,255,255,.38)" stroke="rgba(40,60,70,.45)" stroke-width=".4"/>
<rect x="950.84" y="523.2" width="2.4" height="2" rx=".6" fill="rgba(255,255,255,.38)" stroke="rgba(40,60,70,.45)" stroke-width=".4"/>
<rect x="945.96" y="531.15" width="2.4" height="2" rx=".6" fill="rgba(255,255,255,.38)" stroke="rgba(40,60,70,.45)" stroke-width=".4"/>
<rect x="950.84" y="531.15" width="2.4" height="2" rx=".6" fill="rgba(255,255,255,.38)" stroke="rgba(40,60,70,.45)" stroke-width=".4"/>
<rect x="969.2" y="526.6" width="5.82" height="4.4" fill="#f2a58f"/>
<rect x="966.4" y="521.6" width="11.43" height="6.7" rx="2.3" fill="#f2a58f"/>
<rect x="966.4" y="529.3" width="11.43" height="6.7" rx="2.3" fill="#f4f6f8"/>
<rect x="968.29" y="524.06" width="2.4" height="2" rx=".6" fill="rgba(255,255,255,.38)" stroke="rgba(40,60,70,.45)" stroke-width=".4"/>
<rect x="973.54" y="524.06" width="2.4" height="2" rx=".6" fill="rgba(255,255,255,.38)" stroke="rgba(40,60,70,.45)" stroke-width=".4"/>
<rect x="968.29" y="531.69" width="2.4" height="2" rx=".6" fill="rgba(255,255,255,.38)" stroke="rgba(40,60,70,.45)" stroke-width=".4"/>
<rect x="973.54" y="531.69" width="2.4" height="2" rx=".6" fill="rgba(255,255,255,.38)" stroke="rgba(40,60,70,.45)" stroke-width=".4"/>
<rect x="978.69" y="530.57" width="10.01" height="7.8" rx="1.2" fill="#3c9f9b"/>
<rect x="988.3" y="530.57" width="10.01" height="7.8" rx="1.2" fill="#3c9f9b"/>
<rect x="978.99" y="523.07" width="9.31" height="7.4" rx="2" fill="#a79fd0"/>
<rect x="988.7" y="523.07" width="9.31" height="7.4" rx="2" fill="#a79fd0"/>
<path d="M985.5 531.07 L988.5 528.67 L991.5 531.07 L988.5 532.47 Z" fill="#fbf3d6" stroke="rgba(60,60,60,.5)" stroke-width=".4"/>
<rect x="982.29" y="525.84" width="2.6" height="2" rx=".6" fill="rgba(255,255,255,.4)" stroke="rgba(60,50,40,.45)" stroke-width=".4"/>
<rect x="992.11" y="525.84" width="2.6" height="2" rx=".6" fill="rgba(255,255,255,.4)" stroke="rgba(60,50,40,.45)" stroke-width=".4"/>
<rect x="981.31" y="533.9" width="2.6" height="2" rx=".6" fill="rgba(255,255,255,.4)" stroke="rgba(60,50,40,.45)" stroke-width=".4"/>
<rect x="987.2" y="534.19" width="2.6" height="2" rx=".6" fill="rgba(255,255,255,.4)" stroke="rgba(60,50,40,.45)" stroke-width=".4"/>
<rect x="993.09" y="533.9" width="2.6" height="2" rx=".6" fill="rgba(255,255,255,.4)" stroke="rgba(60,50,40,.45)" stroke-width=".4"/>
<rect x="1001.98" y="531.2" width="5.82" height="4.4" fill="#f6ecc0"/>
<rect x="999.17" y="526.2" width="11.43" height="6.7" rx="2.3" fill="#f6ecc0"/>
<rect x="999.17" y="533.9" width="11.43" height="6.7" rx="2.3" fill="#e3f0f6"/>
<rect x="1001.06" y="528.66" width="2.4" height="2" rx=".6" fill="rgba(255,255,255,.38)" stroke="rgba(40,60,70,.45)" stroke-width=".4"/>
<rect x="1006.31" y="528.66" width="2.4" height="2" rx=".6" fill="rgba(255,255,255,.38)" stroke="rgba(40,60,70,.45)" stroke-width=".4"/>
<rect x="1001.06" y="536.29" width="2.4" height="2" rx=".6" fill="rgba(255,255,255,.38)" stroke="rgba(40,60,70,.45)" stroke-width=".4"/>
<rect x="1006.31" y="536.29" width="2.4" height="2" rx=".6" fill="rgba(255,255,255,.38)" stroke="rgba(40,60,70,.45)" stroke-width=".4"/>
<rect x="916.6" y="556.3" width="5.4" height="4.4" fill="#86c7c4"/>
<rect x="914" y="550.8" width="10.6" height="7.2" rx="2.3" fill="#86c7c4"/>
<rect x="914" y="559" width="10.6" height="7.2" rx="2.3" fill="#3c9f9b"/>
<rect x="915.66" y="553.5" width="2.4" height="2" rx=".6" fill="rgba(255,255,255,.38)" stroke="rgba(40,60,70,.45)" stroke-width=".4"/>
<rect x="920.54" y="553.5" width="2.4" height="2" rx=".6" fill="rgba(255,255,255,.38)" stroke="rgba(40,60,70,.45)" stroke-width=".4"/>
<rect x="915.66" y="561.66" width="2.4" height="2" rx=".6" fill="rgba(255,255,255,.38)" stroke="rgba(40,60,70,.45)" stroke-width=".4"/>
<rect x="920.54" y="561.66" width="2.4" height="2" rx=".6" fill="rgba(255,255,255,.38)" stroke="rgba(40,60,70,.45)" stroke-width=".4"/>
<rect x="925.4" y="558.2" width="9.3" height="8.3" rx="1.2" fill="#f7cfd0"/>
<rect x="934.3" y="558.2" width="9.3" height="8.3" rx="1.2" fill="#f7cfd0"/>
<rect x="925.7" y="550.2" width="8.6" height="7.9" rx="2" fill="#f0cf5e"/>
<rect x="934.7" y="550.2" width="8.6" height="7.9" rx="2" fill="#f0cf5e"/>
<path d="M931.5 558.7 L934.5 556.3 L937.5 558.7 L934.5 560.1 Z" fill="#fbf3d6" stroke="rgba(60,60,60,.5)" stroke-width=".4"/>
<rect x="928.65" y="553.19" width="2.6" height="2" rx=".6" fill="rgba(255,255,255,.4)" stroke="rgba(60,50,40,.45)" stroke-width=".4"/>
<rect x="937.75" y="553.19" width="2.6" height="2" rx=".6" fill="rgba(255,255,255,.4)" stroke="rgba(60,50,40,.45)" stroke-width=".4"/>
<rect x="927.74" y="561.81" width="2.6" height="2" rx=".6" fill="rgba(255,255,255,.4)" stroke="rgba(60,50,40,.45)" stroke-width=".4"/>
<rect x="933.2" y="562.12" width="2.6" height="2" rx=".6" fill="rgba(255,255,255,.4)" stroke="rgba(60,50,40,.45)" stroke-width=".4"/>
<rect x="938.66" y="561.81" width="2.6" height="2" rx=".6" fill="rgba(255,255,255,.4)" stroke="rgba(60,50,40,.45)" stroke-width=".4"/>
<rect x="947" y="556.3" width="5.4" height="4.4" fill="#e98a62"/>
<rect x="944.4" y="550.8" width="10.6" height="7.2" rx="2.3" fill="#e98a62"/>
<rect x="944.4" y="559" width="10.6" height="7.2" rx="2.3" fill="#3c9f9b"/>
<rect x="946.06" y="553.5" width="2.4" height="2" rx=".6" fill="rgba(255,255,255,.38)" stroke="rgba(40,60,70,.45)" stroke-width=".4"/>
<rect x="950.94" y="553.5" width="2.4" height="2" rx=".6" fill="rgba(255,255,255,.38)" stroke="rgba(40,60,70,.45)" stroke-width=".4"/>
<rect x="946.06" y="561.66" width="2.4" height="2" rx=".6" fill="rgba(255,255,255,.38)" stroke="rgba(40,60,70,.45)" stroke-width=".4"/>
<rect x="950.94" y="561.66" width="2.4" height="2" rx=".6" fill="rgba(255,255,255,.38)" stroke="rgba(40,60,70,.45)" stroke-width=".4"/>
<rect x="969.6" y="557" width="5.4" height="4.4" fill="#e98a62"/>
<rect x="967" y="551.6" width="10.6" height="7.1" rx="2.3" fill="#e98a62"/>
<rect x="967" y="559.7" width="10.6" height="7.1" rx="2.3" fill="#3c9f9b"/>
<rect x="968.66" y="554.25" width="2.4" height="2" rx=".6" fill="rgba(255,255,255,.38)" stroke="rgba(40,60,70,.45)" stroke-width=".4"/>
<rect x="973.54" y="554.25" width="2.4" height="2" rx=".6" fill="rgba(255,255,255,.38)" stroke="rgba(40,60,70,.45)" stroke-width=".4"/>
<rect x="968.66" y="562.3" width="2.4" height="2" rx=".6" fill="rgba(255,255,255,.38)" stroke="rgba(40,60,70,.45)" stroke-width=".4"/>
<rect x="973.54" y="562.3" width="2.4" height="2" rx=".6" fill="rgba(255,255,255,.38)" stroke="rgba(40,60,70,.45)" stroke-width=".4"/>
<rect x="978.4" y="558.9" width="9.3" height="8.2" rx="1.2" fill="#f2a58f"/>
<rect x="987.3" y="558.9" width="9.3" height="8.2" rx="1.2" fill="#f7cfd0"/>
<rect x="978.7" y="551" width="8.6" height="7.8" rx="2" fill="#e3f0f6"/>
<rect x="987.7" y="551" width="8.6" height="7.8" rx="2" fill="#e3f0f6"/>
<path d="M984.5 559.4 L987.5 557 L990.5 559.4 L987.5 560.8 Z" fill="#fbf3d6" stroke="rgba(60,60,60,.5)" stroke-width=".4"/>
<rect x="981.65" y="553.94" width="2.6" height="2" rx=".6" fill="rgba(255,255,255,.4)" stroke="rgba(60,50,40,.45)" stroke-width=".4"/>
<rect x="990.75" y="553.94" width="2.6" height="2" rx=".6" fill="rgba(255,255,255,.4)" stroke="rgba(60,50,40,.45)" stroke-width=".4"/>
<rect x="980.74" y="562.46" width="2.6" height="2" rx=".6" fill="rgba(255,255,255,.4)" stroke="rgba(60,50,40,.45)" stroke-width=".4"/>
<rect x="986.2" y="562.76" width="2.6" height="2" rx=".6" fill="rgba(255,255,255,.4)" stroke="rgba(60,50,40,.45)" stroke-width=".4"/>
<rect x="991.66" y="562.46" width="2.6" height="2" rx=".6" fill="rgba(255,255,255,.4)" stroke="rgba(60,50,40,.45)" stroke-width=".4"/>
<rect x="1000" y="557" width="5.4" height="4.4" fill="#3c9f9b"/>
<rect x="997.4" y="551.6" width="10.6" height="7.1" rx="2.3" fill="#3c9f9b"/>
<rect x="997.4" y="559.7" width="10.6" height="7.1" rx="2.3" fill="#3c9f9b"/>
<rect x="999.06" y="554.25" width="2.4" height="2" rx=".6" fill="rgba(255,255,255,.38)" stroke="rgba(40,60,70,.45)" stroke-width=".4"/>
<rect x="1003.94" y="554.25" width="2.4" height="2" rx=".6" fill="rgba(255,255,255,.38)" stroke="rgba(40,60,70,.45)" stroke-width=".4"/>
<rect x="999.06" y="562.3" width="2.4" height="2" rx=".6" fill="rgba(255,255,255,.38)" stroke="rgba(40,60,70,.45)" stroke-width=".4"/>
<rect x="1003.94" y="562.3" width="2.4" height="2" rx=".6" fill="rgba(255,255,255,.38)" stroke="rgba(40,60,70,.45)" stroke-width=".4"/>
<rect x="916.6" y="586.5" width="5.4" height="4.4" fill="#3c9f9b"/>
<rect x="914" y="581.2" width="10.6" height="7" rx="2.3" fill="#3c9f9b"/>
<rect x="914" y="589.2" width="10.6" height="7" rx="2.3" fill="#86c7c4"/>
<rect x="915.66" y="583.8" width="2.4" height="2" rx=".6" fill="rgba(255,255,255,.38)" stroke="rgba(40,60,70,.45)" stroke-width=".4"/>
<rect x="920.54" y="583.8" width="2.4" height="2" rx=".6" fill="rgba(255,255,255,.38)" stroke="rgba(40,60,70,.45)" stroke-width=".4"/>
<rect x="915.66" y="591.75" width="2.4" height="2" rx=".6" fill="rgba(255,255,255,.38)" stroke="rgba(40,60,70,.45)" stroke-width=".4"/>
<rect x="920.54" y="591.75" width="2.4" height="2" rx=".6" fill="rgba(255,255,255,.38)" stroke="rgba(40,60,70,.45)" stroke-width=".4"/>
<rect x="925.4" y="588.4" width="9.3" height="8.1" rx="1.2" fill="#f7cfd0"/>
<rect x="934.3" y="588.4" width="9.3" height="8.1" rx="1.2" fill="#f2a58f"/>
<rect x="925.7" y="580.6" width="8.6" height="7.7" rx="2" fill="#f0cf5e"/>
<rect x="934.7" y="580.6" width="8.6" height="7.7" rx="2" fill="#f0cf5e"/>
<path d="M931.5 588.9 L934.5 586.5 L937.5 588.9 L934.5 590.3 Z" fill="#fbf3d6" stroke="rgba(60,60,60,.5)" stroke-width=".4"/>
<rect x="928.65" y="583.5" width="2.6" height="2" rx=".6" fill="rgba(255,255,255,.4)" stroke="rgba(60,50,40,.45)" stroke-width=".4"/>
<rect x="937.75" y="583.5" width="2.6" height="2" rx=".6" fill="rgba(255,255,255,.4)" stroke="rgba(60,50,40,.45)" stroke-width=".4"/>
<rect x="927.74" y="591.9" width="2.6" height="2" rx=".6" fill="rgba(255,255,255,.4)" stroke="rgba(60,50,40,.45)" stroke-width=".4"/>
<rect x="933.2" y="592.2" width="2.6" height="2" rx=".6" fill="rgba(255,255,255,.4)" stroke="rgba(60,50,40,.45)" stroke-width=".4"/>
<rect x="938.66" y="591.9" width="2.6" height="2" rx=".6" fill="rgba(255,255,255,.4)" stroke="rgba(60,50,40,.45)" stroke-width=".4"/>
<rect x="947" y="586.5" width="5.4" height="4.4" fill="#e98a62"/>
<rect x="944.4" y="581.2" width="10.6" height="7" rx="2.3" fill="#e98a62"/>
<rect x="944.4" y="589.2" width="10.6" height="7" rx="2.3" fill="#3c9f9b"/>
<rect x="946.06" y="583.8" width="2.4" height="2" rx=".6" fill="rgba(255,255,255,.38)" stroke="rgba(40,60,70,.45)" stroke-width=".4"/>
<rect x="950.94" y="583.8" width="2.4" height="2" rx=".6" fill="rgba(255,255,255,.38)" stroke="rgba(40,60,70,.45)" stroke-width=".4"/>
<rect x="946.06" y="591.75" width="2.4" height="2" rx=".6" fill="rgba(255,255,255,.38)" stroke="rgba(40,60,70,.45)" stroke-width=".4"/>
<rect x="950.94" y="591.75" width="2.4" height="2" rx=".6" fill="rgba(255,255,255,.38)" stroke="rgba(40,60,70,.45)" stroke-width=".4"/>
<rect x="969" y="586.8" width="5.4" height="4.4" fill="#e98a62"/>
<rect x="966.4" y="581.4" width="10.6" height="7.1" rx="2.3" fill="#e98a62"/>
<rect x="966.4" y="589.5" width="10.6" height="7.1" rx="2.3" fill="#3c9f9b"/>
<rect x="968.06" y="584.05" width="2.4" height="2" rx=".6" fill="rgba(255,255,255,.38)" stroke="rgba(40,60,70,.45)" stroke-width=".4"/>
<rect x="972.94" y="584.05" width="2.4" height="2" rx=".6" fill="rgba(255,255,255,.38)" stroke="rgba(40,60,70,.45)" stroke-width=".4"/>
<rect x="968.06" y="592.1" width="2.4" height="2" rx=".6" fill="rgba(255,255,255,.38)" stroke="rgba(40,60,70,.45)" stroke-width=".4"/>
<rect x="972.94" y="592.1" width="2.4" height="2" rx=".6" fill="rgba(255,255,255,.38)" stroke="rgba(40,60,70,.45)" stroke-width=".4"/>
<rect x="977.8" y="588.7" width="9.3" height="8.2" rx="1.2" fill="#f7cfd0"/>
<rect x="986.7" y="588.7" width="9.3" height="8.2" rx="1.2" fill="#f7cfd0"/>
<rect x="978.1" y="580.8" width="8.6" height="7.8" rx="2" fill="#f0cf5e"/>
<rect x="987.1" y="580.8" width="8.6" height="7.8" rx="2" fill="#f0cf5e"/>
<path d="M983.9 589.2 L986.9 586.8 L989.9 589.2 L986.9 590.6 Z" fill="#fbf3d6" stroke="rgba(60,60,60,.5)" stroke-width=".4"/>
<rect x="981.05" y="583.74" width="2.6" height="2" rx=".6" fill="rgba(255,255,255,.4)" stroke="rgba(60,50,40,.45)" stroke-width=".4"/>
<rect x="990.15" y="583.74" width="2.6" height="2" rx=".6" fill="rgba(255,255,255,.4)" stroke="rgba(60,50,40,.45)" stroke-width=".4"/>
<rect x="980.14" y="592.26" width="2.6" height="2" rx=".6" fill="rgba(255,255,255,.4)" stroke="rgba(60,50,40,.45)" stroke-width=".4"/>
<rect x="985.6" y="592.56" width="2.6" height="2" rx=".6" fill="rgba(255,255,255,.4)" stroke="rgba(60,50,40,.45)" stroke-width=".4"/>
<rect x="991.06" y="592.26" width="2.6" height="2" rx=".6" fill="rgba(255,255,255,.4)" stroke="rgba(60,50,40,.45)" stroke-width=".4"/>
<rect x="999.4" y="586.8" width="5.4" height="4.4" fill="#3c9f9b"/>
<rect x="996.8" y="581.4" width="10.6" height="7.1" rx="2.3" fill="#3c9f9b"/>
<rect x="996.8" y="589.5" width="10.6" height="7.1" rx="2.3" fill="#3c9f9b"/>
<rect x="998.46" y="584.05" width="2.4" height="2" rx=".6" fill="rgba(255,255,255,.38)" stroke="rgba(40,60,70,.45)" stroke-width=".4"/>
<rect x="1003.34" y="584.05" width="2.4" height="2" rx=".6" fill="rgba(255,255,255,.38)" stroke="rgba(40,60,70,.45)" stroke-width=".4"/>
<rect x="998.46" y="592.1" width="2.4" height="2" rx=".6" fill="rgba(255,255,255,.38)" stroke="rgba(40,60,70,.45)" stroke-width=".4"/>
<rect x="1003.34" y="592.1" width="2.4" height="2" rx=".6" fill="rgba(255,255,255,.38)" stroke="rgba(40,60,70,.45)" stroke-width=".4"/>
<rect x="917.55" y="616.3" width="5.29" height="4.4" fill="#86c7c4"/>
<rect x="915" y="611.4" width="10.39" height="6.6" rx="2.3" fill="#86c7c4"/>
<rect x="915" y="619" width="10.39" height="6.6" rx="2.3" fill="#3c9f9b"/>
<rect x="916.61" y="613.81" width="2.4" height="2" rx=".6" fill="rgba(255,255,255,.38)" stroke="rgba(40,60,70,.45)" stroke-width=".4"/>
<rect x="921.39" y="613.81" width="2.4" height="2" rx=".6" fill="rgba(255,255,255,.38)" stroke="rgba(40,60,70,.45)" stroke-width=".4"/>
<rect x="916.61" y="621.33" width="2.4" height="2" rx=".6" fill="rgba(255,255,255,.38)" stroke="rgba(40,60,70,.45)" stroke-width=".4"/>
<rect x="921.39" y="621.33" width="2.4" height="2" rx=".6" fill="rgba(255,255,255,.38)" stroke="rgba(40,60,70,.45)" stroke-width=".4"/>
<rect x="926.18" y="618.2" width="9.12" height="7.7" rx="1.2" fill="#f6ecc0"/>
<rect x="934.9" y="618.2" width="9.12" height="7.7" rx="1.2" fill="#f6ecc0"/>
<rect x="926.48" y="610.8" width="8.42" height="7.3" rx="2" fill="#f0cf5e"/>
<rect x="935.3" y="610.8" width="8.42" height="7.3" rx="2" fill="#f0cf5e"/>
<path d="M932.1 618.7 L935.1 616.3 L938.1 618.7 L935.1 620.1 Z" fill="#fbf3d6" stroke="rgba(60,60,60,.5)" stroke-width=".4"/>
<rect x="929.34" y="613.52" width="2.6" height="2" rx=".6" fill="rgba(255,255,255,.4)" stroke="rgba(60,50,40,.45)" stroke-width=".4"/>
<rect x="938.26" y="613.52" width="2.6" height="2" rx=".6" fill="rgba(255,255,255,.4)" stroke="rgba(60,50,40,.45)" stroke-width=".4"/>
<rect x="928.45" y="621.48" width="2.6" height="2" rx=".6" fill="rgba(255,255,255,.4)" stroke="rgba(60,50,40,.45)" stroke-width=".4"/>
<rect x="933.8" y="621.76" width="2.6" height="2" rx=".6" fill="rgba(255,255,255,.4)" stroke="rgba(60,50,40,.45)" stroke-width=".4"/>
<rect x="939.15" y="621.48" width="2.6" height="2" rx=".6" fill="rgba(255,255,255,.4)" stroke="rgba(60,50,40,.45)" stroke-width=".4"/>
<rect x="947.36" y="616.3" width="5.29" height="4.4" fill="#3c9f9b"/>
<rect x="944.81" y="611.4" width="10.39" height="6.6" rx="2.3" fill="#3c9f9b"/>
<rect x="944.81" y="619" width="10.39" height="6.6" rx="2.3" fill="#3c9f9b"/>
<rect x="946.41" y="613.81" width="2.4" height="2" rx=".6" fill="rgba(255,255,255,.38)" stroke="rgba(40,60,70,.45)" stroke-width=".4"/>
<rect x="951.19" y="613.81" width="2.4" height="2" rx=".6" fill="rgba(255,255,255,.38)" stroke="rgba(40,60,70,.45)" stroke-width=".4"/>
<rect x="946.41" y="621.33" width="2.4" height="2" rx=".6" fill="rgba(255,255,255,.38)" stroke="rgba(40,60,70,.45)" stroke-width=".4"/>
<rect x="951.19" y="621.33" width="2.4" height="2" rx=".6" fill="rgba(255,255,255,.38)" stroke="rgba(40,60,70,.45)" stroke-width=".4"/>
<rect x="971.95" y="616.3" width="5.29" height="4.4" fill="#86c7c4"/>
<rect x="969.4" y="611.4" width="10.39" height="6.6" rx="2.3" fill="#86c7c4"/>
<rect x="969.4" y="619" width="10.39" height="6.6" rx="2.3" fill="#86c7c4"/>
<rect x="971.01" y="613.81" width="2.4" height="2" rx=".6" fill="rgba(255,255,255,.38)" stroke="rgba(40,60,70,.45)" stroke-width=".4"/>
<rect x="975.79" y="613.81" width="2.4" height="2" rx=".6" fill="rgba(255,255,255,.38)" stroke="rgba(40,60,70,.45)" stroke-width=".4"/>
<rect x="971.01" y="621.33" width="2.4" height="2" rx=".6" fill="rgba(255,255,255,.38)" stroke="rgba(40,60,70,.45)" stroke-width=".4"/>
<rect x="975.79" y="621.33" width="2.4" height="2" rx=".6" fill="rgba(255,255,255,.38)" stroke="rgba(40,60,70,.45)" stroke-width=".4"/>
<rect x="980.58" y="618.2" width="9.12" height="7.7" rx="1.2" fill="#f6ecc0"/>
<rect x="989.3" y="618.2" width="9.12" height="7.7" rx="1.2" fill="#f6ecc0"/>
<rect x="980.88" y="610.8" width="8.42" height="7.3" rx="2" fill="#f0cf5e"/>
<rect x="989.7" y="610.8" width="8.42" height="7.3" rx="2" fill="#f0cf5e"/>
<path d="M986.5 618.7 L989.5 616.3 L992.5 618.7 L989.5 620.1 Z" fill="#fbf3d6" stroke="rgba(60,60,60,.5)" stroke-width=".4"/>
<rect x="983.74" y="613.52" width="2.6" height="2" rx=".6" fill="rgba(255,255,255,.4)" stroke="rgba(60,50,40,.45)" stroke-width=".4"/>
<rect x="992.66" y="613.52" width="2.6" height="2" rx=".6" fill="rgba(255,255,255,.4)" stroke="rgba(60,50,40,.45)" stroke-width=".4"/>
<rect x="982.85" y="621.48" width="2.6" height="2" rx=".6" fill="rgba(255,255,255,.4)" stroke="rgba(60,50,40,.45)" stroke-width=".4"/>
<rect x="988.2" y="621.76" width="2.6" height="2" rx=".6" fill="rgba(255,255,255,.4)" stroke="rgba(60,50,40,.45)" stroke-width=".4"/>
<rect x="993.55" y="621.48" width="2.6" height="2" rx=".6" fill="rgba(255,255,255,.4)" stroke="rgba(60,50,40,.45)" stroke-width=".4"/>
<rect x="1001.76" y="616.3" width="5.29" height="4.4" fill="#3c9f9b"/>
<rect x="999.21" y="611.4" width="10.39" height="6.6" rx="2.3" fill="#3c9f9b"/>
<rect x="999.21" y="619" width="10.39" height="6.6" rx="2.3" fill="#3c9f9b"/>
<rect x="1000.81" y="613.81" width="2.4" height="2" rx=".6" fill="rgba(255,255,255,.38)" stroke="rgba(40,60,70,.45)" stroke-width=".4"/>
<rect x="1005.59" y="613.81" width="2.4" height="2" rx=".6" fill="rgba(255,255,255,.38)" stroke="rgba(40,60,70,.45)" stroke-width=".4"/>
<rect x="1000.81" y="621.33" width="2.4" height="2" rx=".6" fill="rgba(255,255,255,.38)" stroke="rgba(40,60,70,.45)" stroke-width=".4"/>
<rect x="1005.59" y="621.33" width="2.4" height="2" rx=".6" fill="rgba(255,255,255,.38)" stroke="rgba(40,60,70,.45)" stroke-width=".4"/>
</g>
<text class="ml" transform="translate(924.4,518.3) scale(.39)">Block 2</text>
<text class="ml" transform="translate(945.6,518.3) scale(.39)">Block 4</text>
<text class="ml" transform="translate(980.6,520.9) scale(.39)">Block 6</text>
<text class="ml" transform="translate(1000.8,523) scale(.39)">Block 8</text>
<text class="ml" transform="translate(924.2,548.7) scale(.39)">Block 16</text>
<text class="ml" transform="translate(945.4,548.7) scale(.39)">Block 14</text>
<text class="ml" transform="translate(977.8,549.6) scale(.39)">Block 12</text>
<text class="ml" transform="translate(999.6,549.6) scale(.39)">Block 10</text>
<text class="ml" transform="translate(924,578.2) scale(.39)">Block 18</text>
<text class="ml" transform="translate(945.2,578.2) scale(.39)">Block 20</text>
<text class="ml" transform="translate(977,579.2) scale(.39)">Block 22</text>
<text class="ml" transform="translate(998.6,579.2) scale(.39)">Block 24</text>
<text class="ml" transform="translate(924,607.4) scale(.39)">Block 32</text>
<text class="ml" transform="translate(945,607.4) scale(.39)">Block 30</text>
<text class="ml" transform="translate(979.6,608.6) scale(.39)">Block 28</text>
<text class="ml" transform="translate(1000.2,608.6) scale(.39)">Block 26</text>
<text class="rd" transform="translate(962.6,500.2) scale(.47)">JALAN LOYANG BESAR</text>
<text class="rd" transform="translate(966,644.2) scale(.47)">PASIR RIS DRIVE 3</text>
<text class="rd" transform="translate(901.6,570) rotate(-90) scale(.47)">PASIR RIS CLOSE</text>
</g>
</svg>
</body></html>
